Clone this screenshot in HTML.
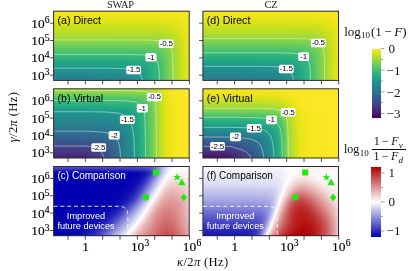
<!DOCTYPE html><html><head><meta charset="utf-8"><style>
*{margin:0;padding:0;box-sizing:border-box}
html,body{width:415px;height:271px;overflow:hidden;background:#fff}
body{position:relative;font-family:"Liberation Sans",sans-serif}
#tx{position:absolute;left:0;top:0;width:415px;height:271px;will-change:transform}
.hm{position:absolute;overflow:hidden}
.hm i{position:absolute;left:0;width:100%;height:1px}
.ov{position:absolute;left:0;top:0}
.t{position:absolute;white-space:nowrap}
.mono{font-family:"Liberation Serif",serif;font-size:10.4px;line-height:12px;color:#222;letter-spacing:-0.2px}
.pl{font-size:10.6px;line-height:12px}
.cl{position:absolute;font-size:8px;letter-spacing:-0.25px;padding-top:0.8px;text-align:center;color:#000}
.imp{position:absolute;width:70px;text-align:center;color:#fff;font-size:9.2px;line-height:10.1px;white-space:nowrap}
.ser{position:absolute;font-family:"Liberation Serif",serif;white-space:nowrap;color:#111}
.yt{position:absolute;left:0;width:49.6px;text-align:right;font-family:"Liberation Serif",serif;font-size:13.4px;line-height:14px;color:#000;-webkit-text-stroke:0.15px #000}
.yt sup,.xt sup{font-size:9.6px;vertical-align:0;position:relative;top:-4.2px;margin-left:0.2px}
.xt{position:absolute;top:239.6px;font-family:"Liberation Serif",serif;font-size:13.4px;line-height:14px;color:#000;-webkit-text-stroke:0.15px #000;white-space:nowrap}
.cbt{position:absolute;left:386.6px;font-family:"Liberation Serif",serif;font-size:13px;line-height:14px;color:#111}
.ylab{transform:rotate(-90deg);transform-origin:50% 50%}
sub{font-size:9px;vertical-align:0;position:relative;top:2.6px;margin:0 0.8px 0 0.3px}
.frac>span{display:block;text-align:center;padding:0 1.8px}
.frac .num{border-bottom:0.8px solid #111;padding-bottom:0px;line-height:13px}
.frac .den{line-height:13px}
</style></head><body>
<div class="hm" style="left:53.60px;top:11.20px;width:135.60px;height:69.20px">
<i style="top:0px;background:linear-gradient(90deg,#f6e620 0.5px,#f6e620 39.5px,#f6e620 78.5px,#f6e620 117.5px,#f8e621 131.5px,#fbe723 135.5px)"></i>
<i style="top:1px;background:linear-gradient(90deg,#f6e620 0.5px,#f6e620 39.5px,#f6e620 78.5px,#f6e620 117.5px,#f8e621 133.5px,#fbe723 135.5px)"></i>
<i style="top:2px;background:linear-gradient(90deg,#f4e61e 0.5px,#f4e61e 39.5px,#f4e61e 78.5px,#f4e61e 117.5px,#f8e621 134.5px,#fbe723 135.5px)"></i>
<i style="top:3px;background:linear-gradient(90deg,#f1e51d 0.5px,#f1e51d 39.5px,#f1e51d 78.5px,#f1e51d 114.5px,#f4e61e 120.5px,#f8e621 135.5px)"></i>
<i style="top:4px;background:linear-gradient(90deg,#efe51c 0.5px,#efe51c 39.5px,#efe51c 78.5px,#f1e51d 117.5px,#f8e621 135.5px)"></i>
<i style="top:5px;background:linear-gradient(90deg,#ece51b 0.5px,#ece51b 39.5px,#ece51b 78.5px,#ece51b 99.5px,#efe51c 105.5px,#f1e51d 126.5px,#f8e621 135.5px)"></i>
<i style="top:6px;background:linear-gradient(90deg,#eae51a 0.5px,#eae51a 39.5px,#eae51a 78.5px,#ece51b 117.5px,#f8e621 135.5px)"></i>
<i style="top:7px;background:linear-gradient(90deg,#e7e419 0.5px,#e7e419 39.5px,#e7e419 78.5px,#e7e419 103.5px,#eae51a 109.5px,#ece51b 123.5px,#f8e621 135.5px)"></i>
<i style="top:8px;background:linear-gradient(90deg,#e5e419 0.5px,#e5e419 39.5px,#e5e419 78.5px,#e7e419 117.5px,#f6e620 135.5px)"></i>
<i style="top:9px;background:linear-gradient(90deg,#e2e418 0.5px,#e2e418 39.5px,#e2e418 78.5px,#e2e418 109.5px,#e5e419 115.5px,#ece51b 127.5px,#f6e620 135.5px)"></i>
<i style="top:10px;background:linear-gradient(90deg,#dfe318 0.5px,#dfe318 39.5px,#dfe318 78.5px,#dfe318 111.5px,#eae51a 126.5px,#f6e620 135.5px)"></i>
<i style="top:11px;background:linear-gradient(90deg,#dde318 0.5px,#dde318 39.5px,#dde318 78.5px,#dfe318 117.5px,#f1e51d 132.5px,#f6e620 135.5px)"></i>
<i style="top:12px;background:linear-gradient(90deg,#d8e219 0.5px,#d8e219 39.5px,#d8e219 78.5px,#dae319 113.5px,#e7e419 127.5px,#f6e620 135.5px)"></i>
<i style="top:13px;background:linear-gradient(90deg,#d5e21a 0.5px,#d5e21a 39.5px,#d5e21a 78.5px,#d5e21a 108.5px,#dde318 120.5px,#f4e61e 135.5px)"></i>
<i style="top:14px;background:linear-gradient(90deg,#d2e21b 0.5px,#d2e21b 39.5px,#d2e21b 78.5px,#d2e21b 110.5px,#dfe318 124.5px,#f4e61e 135.5px)"></i>
<i style="top:15px;background:linear-gradient(90deg,#cde11d 0.5px,#cde11d 39.5px,#cde11d 78.5px,#cde11d 98.5px,#d0e11c 104.5px,#d2e21b 115.5px,#e2e418 126.5px,#f4e61e 135.5px)"></i>
<i style="top:16px;background:linear-gradient(90deg,#cae11f 0.5px,#cae11f 39.5px,#cae11f 78.5px,#cae11f 105.5px,#cde11d 111.5px,#d5e21a 120.5px,#e7e419 129.5px,#f4e61e 135.5px)"></i>
<i style="top:17px;background:linear-gradient(90deg,#c8e020 0.5px,#c8e020 39.5px,#c8e020 78.5px,#cae11f 113.5px,#dfe318 126.5px,#f4e61e 135.5px)"></i>
<i style="top:18px;background:linear-gradient(90deg,#c2df23 0.5px,#c2df23 39.5px,#c2df23 78.5px,#c2df23 96.5px,#c5e021 102.5px,#c5e021 109.5px,#cde11d 118.5px,#e7e419 130.5px,#f4e61e 135.5px)"></i>
<i style="top:19px;background:linear-gradient(90deg,#c0df25 0.5px,#c0df25 39.5px,#c0df25 78.5px,#c2df23 110.5px,#cde11d 119.5px,#e7e419 130.5px,#f4e61e 135.5px)"></i>
<i style="top:20px;background:linear-gradient(90deg,#bddf26 0.5px,#bddf26 39.5px,#bddf26 78.5px,#bddf26 107.5px,#c5e021 116.5px,#dfe318 128.5px,#f1e51d 134.5px,#f1e51d 135.5px)"></i>
<i style="top:21px;background:linear-gradient(90deg,#b8de29 0.5px,#b8de29 39.5px,#b8de29 78.5px,#bade28 108.5px,#c5e021 117.5px,#d5e21a 125.5px,#ece51b 133.5px,#f1e51d 135.5px)"></i>
<i style="top:22px;background:linear-gradient(90deg,#b5de2b 0.5px,#b5de2b 39.5px,#b5de2b 78.5px,#b5de2b 106.5px,#bddf26 115.5px,#dde318 128.5px,#f1e51d 135.5px)"></i>
<i style="top:23px;background:linear-gradient(90deg,#b0dd2f 0.5px,#b0dd2f 39.5px,#b0dd2f 78.5px,#b2dd2d 109.5px,#c2df23 119.5px,#e2e418 130.5px,#f1e51d 135.5px)"></i>
<i style="top:24px;background:linear-gradient(90deg,#aadc32 0.5px,#aadc32 39.5px,#aadc32 78.5px,#aadc32 100.5px,#addc30 106.5px,#bade28 117.5px,#dae319 128.5px,#efe51c 134.5px,#f1e51d 135.5px)"></i>
<i style="top:25px;background:linear-gradient(90deg,#a5db36 0.5px,#a5db36 39.5px,#a5db36 78.5px,#a5db36 94.5px,#a8db34 100.5px,#addc30 111.5px,#bade28 118.5px,#d2e21b 126.5px,#e7e419 132.5px,#f1e51d 135.5px)"></i>
<i style="top:26px;background:linear-gradient(90deg,#a0da39 0.5px,#a0da39 39.5px,#a2da37 78.5px,#a2da37 103.5px,#addc30 114.5px,#cde11d 125.5px,#e5e419 131.5px,#f1e51d 135.5px)"></i>
<i style="top:27px;background:linear-gradient(90deg,#9dd93b 0.5px,#9dd93b 39.5px,#9dd93b 78.5px,#9dd93b 101.5px,#a5db36 111.5px,#bade28 120.5px,#dde318 129.5px,#f1e51d 135.5px)"></i>
<i style="top:28px;background:linear-gradient(90deg,#98d83e 0.5px,#98d83e 39.5px,#98d83e 78.5px,#98d83e 98.5px,#9bd93c 104.5px,#a5db36 113.5px,#c2df23 123.5px,#dfe318 130.5px,#f1e51d 135.5px)"></i>
<i style="top:29px;background:linear-gradient(90deg,#90d743 0.5px,#90d743 39.5px,#90d743 78.5px,#93d741 96.5px,#95d840 106.5px,#a2da37 114.5px,#cde11d 126.5px,#e7e419 132.5px,#efe51c 135.5px)"></i>
<i style="top:30px;background:linear-gradient(90deg,#8bd646 0.5px,#8bd646 39.5px,#8bd646 78.5px,#8bd646 98.5px,#95d840 110.5px,#a2da37 115.5px,#bade28 122.5px,#dae319 129.5px,#efe51c 135.5px)"></i>
<i style="top:31px;background:linear-gradient(90deg,#84d44b 0.5px,#84d44b 39.5px,#84d44b 78.5px,#86d549 102.5px,#95d840 112.5px,#a8db34 118.5px,#d8e219 129.5px,#ece51b 134.5px,#efe51c 135.5px)"></i>
<i style="top:32px;background:linear-gradient(90deg,#7cd250 0.5px,#7cd250 39.5px,#7cd250 78.5px,#7cd250 88.5px,#7fd34e 94.5px,#84d44b 106.5px,#98d83e 115.5px,#b8de29 122.5px,#d2e21b 128.5px,#e5e419 132.5px,#efe51c 135.5px)"></i>
<i style="top:33px;background:linear-gradient(90deg,#75d054 0.5px,#75d054 39.5px,#77d153 78.5px,#77d153 97.5px,#81d34d 108.5px,#95d840 115.5px,#d2e21b 128.5px,#e5e419 132.5px,#efe51c 135.5px)"></i>
<i style="top:34px;background:linear-gradient(90deg,#70cf57 0.5px,#70cf57 39.5px,#70cf57 78.5px,#70cf57 93.5px,#77d153 105.5px,#84d44b 111.5px,#a5db36 119.5px,#d8e219 129.5px,#efe51c 135.5px)"></i>
<i style="top:35px;background:linear-gradient(90deg,#69cd5b 0.5px,#69cd5b 39.5px,#69cd5b 78.5px,#69cd5b 90.5px,#6ccd5a 96.5px,#75d054 106.5px,#7cd250 110.5px,#9dd93b 118.5px,#a8db34 120.5px,#d2e21b 128.5px,#e7e419 133.5px,#efe51c 135.5px)"></i>
<i style="top:36px;background:linear-gradient(90deg,#63cb5f 0.5px,#63cb5f 39.5px,#63cb5f 78.5px,#67cc5c 99.5px,#73d056 107.5px,#84d44b 113.5px,#d5e21a 129.5px,#ece51b 134.5px,#efe51c 135.5px)"></i>
<i style="top:37px;background:linear-gradient(90deg,#5cc863 0.5px,#5cc863 39.5px,#5ec962 78.5px,#60ca60 97.5px,#6ccd5a 106.5px,#7cd250 112.5px,#d0e11c 128.5px,#e5e419 132.5px,#efe51c 135.5px)"></i>
<i style="top:38px;background:linear-gradient(90deg,#58c765 0.5px,#58c765 39.5px,#58c765 78.5px,#5cc863 98.5px,#69cd5b 107.5px,#7ad151 112.5px,#d0e11c 128.5px,#e5e419 132.5px,#efe51c 135.5px)"></i>
<i style="top:39px;background:linear-gradient(90deg,#52c569 0.5px,#52c569 39.5px,#52c569 78.5px,#58c765 99.5px,#65cb5e 107.5px,#81d34d 114.5px,#d0e11c 128.5px,#e7e419 133.5px,#efe51c 135.5px)"></i>
<i style="top:40px;background:linear-gradient(90deg,#4cc26c 0.5px,#4cc26c 39.5px,#4cc26c 78.5px,#52c569 97.5px,#5ec962 106.5px,#7ad151 113.5px,#d0e11c 128.5px,#e7e419 133.5px,#efe51c 135.5px)"></i>
<i style="top:41px;background:linear-gradient(90deg,#46c06f 0.5px,#46c06f 39.5px,#48c16e 78.5px,#4cc26c 96.5px,#5cc863 106.5px,#77d153 113.5px,#addc30 122.5px,#d5e21a 129.5px,#e7e419 133.5px,#efe51c 135.5px)"></i>
<i style="top:42px;background:linear-gradient(90deg,#42be71 0.5px,#42be71 39.5px,#42be71 78.5px,#46c06f 94.5px,#54c568 104.5px,#67cc5c 110.5px,#8ed645 117.5px,#bddf26 125.5px,#dae319 130.5px,#efe51c 135.5px)"></i>
<i style="top:43px;background:linear-gradient(90deg,#3dbc74 0.5px,#3dbc74 39.5px,#3dbc74 78.5px,#42be71 95.5px,#50c46a 104.5px,#65cb5e 110.5px,#8ed645 117.5px,#d0e11c 128.5px,#e7e419 133.5px,#efe51c 135.5px)"></i>
<i style="top:44px;background:linear-gradient(90deg,#38b977 0.5px,#38b977 39.5px,#38b977 78.5px,#3fbc73 95.5px,#48c16e 102.5px,#5ec962 109.5px,#86d549 116.5px,#a5db36 121.5px,#d5e21a 129.5px,#eae51a 134.5px,#efe51c 135.5px)"></i>
<i style="top:45px;background:linear-gradient(90deg,#34b679 0.5px,#34b679 39.5px,#35b779 78.5px,#38b977 92.5px,#44bf70 101.5px,#52c569 106.5px,#6ccd5a 112.5px,#93d741 118.5px,#cde11d 128.5px,#dae319 130.5px,#efe51c 135.5px)"></i>
<i style="top:46px;background:linear-gradient(90deg,#2fb47c 0.5px,#2fb47c 39.5px,#31b57b 78.5px,#35b779 93.5px,#42be71 102.5px,#60ca60 110.5px,#93d741 118.5px,#cde11d 128.5px,#e2e418 132.5px,#efe51c 135.5px)"></i>
<i style="top:47px;background:linear-gradient(90deg,#2cb17e 0.5px,#2cb17e 39.5px,#2db27d 78.5px,#32b67a 93.5px,#42be71 103.5px,#65cb5e 111.5px,#8bd646 117.5px,#bddf26 125.5px,#dde318 131.5px,#efe51c 135.5px)"></i>
<i style="top:48px;background:linear-gradient(90deg,#28ae80 0.5px,#28ae80 39.5px,#29af7f 78.5px,#32b67a 96.5px,#44bf70 104.5px,#5ec962 110.5px,#8bd646 117.5px,#bddf26 125.5px,#dde318 131.5px,#efe51c 135.5px)"></i>
<i style="top:49px;background:linear-gradient(90deg,#25ac82 0.5px,#25ac82 39.5px,#26ad81 78.5px,#2fb47c 96.5px,#46c06f 105.5px,#69cd5b 112.5px,#bddf26 125.5px,#dde318 131.5px,#efe51c 135.5px)"></i>
<i style="top:50px;background:linear-gradient(90deg,#23a983 0.5px,#23a983 39.5px,#25ab82 78.5px,#2ab07f 93.5px,#3aba76 102.5px,#52c569 108.5px,#7cd250 115.5px,#b0dd2f 123.5px,#d2e21b 129.5px,#e7e419 133.5px,#efe51c 135.5px)"></i>
<i style="top:51px;background:linear-gradient(90deg,#22a785 0.5px,#22a785 39.5px,#22a884 78.5px,#29af7f 94.5px,#3bbb75 103.5px,#5cc863 110.5px,#b0dd2f 123.5px,#d2e21b 129.5px,#e7e419 133.5px,#efe51c 135.5px)"></i>
<i style="top:52px;background:linear-gradient(90deg,#20a486 0.5px,#20a486 39.5px,#21a585 78.5px,#27ad81 94.5px,#35b779 101.5px,#50c46a 108.5px,#75d054 114.5px,#b0dd2f 123.5px,#d2e21b 129.5px,#e7e419 133.5px,#efe51c 135.5px)"></i>
<i style="top:53px;background:linear-gradient(90deg,#1fa187 0.5px,#1fa187 39.5px,#20a386 78.5px,#24aa83 92.5px,#31b57b 100.5px,#46c06f 106.5px,#67cc5c 112.5px,#aadc32 122.5px,#d2e21b 129.5px,#e7e419 133.5px,#efe51c 135.5px)"></i>
<i style="top:54px;background:linear-gradient(90deg,#1f9f88 0.5px,#1f9f88 39.5px,#1fa188 78.5px,#22a884 91.5px,#2fb47c 100.5px,#44bf70 106.5px,#6ece58 113.5px,#9dd93b 120.5px,#cde11d 128.5px,#e2e418 132.5px,#efe51c 135.5px)"></i>
<i style="top:55px;background:linear-gradient(90deg,#1e9c89 0.5px,#1e9c89 39.5px,#1f9e89 78.5px,#22a785 92.5px,#2fb47c 100.5px,#44bf70 106.5px,#81d34d 116.5px,#9dd93b 120.5px,#cde11d 128.5px,#e2e418 132.5px,#efe51c 135.5px)"></i>
<i style="top:56px;background:linear-gradient(90deg,#1f998a 0.5px,#1f998a 39.5px,#1e9c89 78.5px,#22a785 93.5px,#2eb37c 100.5px,#44bf70 106.5px,#7ad151 115.5px,#9dd93b 120.5px,#cde11d 128.5px,#e2e418 132.5px,#efe51c 135.5px)"></i>
<i style="top:57px;background:linear-gradient(90deg,#1f968b 0.5px,#1f968b 39.5px,#1f9a8a 78.5px,#21a685 93.5px,#2eb37c 100.5px,#48c16e 107.5px,#81d34d 116.5px,#9dd93b 120.5px,#cde11d 128.5px,#e2e418 132.5px,#efe51c 135.5px)"></i>
<i style="top:58px;background:linear-gradient(90deg,#1f948c 0.5px,#1f948c 39.5px,#1f988b 78.5px,#20a486 92.5px,#2fb47c 101.5px,#48c16e 107.5px,#7ad151 115.5px,#9dd93b 120.5px,#cde11d 128.5px,#e2e418 132.5px,#efe51c 135.5px)"></i>
<i style="top:59px;background:linear-gradient(90deg,#20928c 0.5px,#20928c 39.5px,#1f958b 76.5px,#20a386 92.5px,#2ab07f 99.5px,#42be71 106.5px,#6ccd5a 113.5px,#9dd93b 120.5px,#cde11d 128.5px,#e2e418 132.5px,#efe51c 135.5px)"></i>
<i style="top:60px;background:linear-gradient(90deg,#21918c 0.5px,#21918c 39.5px,#1f948c 78.5px,#21a685 94.5px,#2fb47c 101.5px,#42be71 106.5px,#6ccd5a 113.5px,#9dd93b 120.5px,#cde11d 128.5px,#e2e418 132.5px,#efe51c 135.5px)"></i>
<i style="top:61px;background:linear-gradient(90deg,#218e8d 0.5px,#218e8d 39.5px,#20938c 78.5px,#1f9f88 90.5px,#27ad81 98.5px,#3dbc74 105.5px,#6ccd5a 113.5px,#9dd93b 120.5px,#cde11d 128.5px,#e2e418 132.5px,#efe51c 135.5px)"></i>
<i style="top:62px;background:linear-gradient(90deg,#228c8d 0.5px,#228c8d 39.5px,#21908d 75.5px,#1e9b8a 88.5px,#26ad81 98.5px,#42be71 106.5px,#6ccd5a 113.5px,#9dd93b 120.5px,#cde11d 128.5px,#e2e418 132.5px,#efe51c 135.5px)"></i>
<i style="top:63px;background:linear-gradient(90deg,#238a8d 0.5px,#238a8d 39.5px,#218e8d 75.5px,#1e9c89 89.5px,#25ab82 97.5px,#38b977 104.5px,#65cb5e 112.5px,#9dd93b 120.5px,#cde11d 128.5px,#e2e418 132.5px,#efe51c 135.5px)"></i>
<i style="top:64px;background:linear-gradient(90deg,#23888e 0.5px,#23888e 39.5px,#228b8d 72.5px,#1e9b8a 89.5px,#25ab82 97.5px,#38b977 104.5px,#65cb5e 112.5px,#9dd93b 120.5px,#cde11d 128.5px,#e2e418 132.5px,#efe51c 135.5px)"></i>
<i style="top:65px;background:linear-gradient(90deg,#25858e 0.5px,#25858e 39.5px,#238a8d 73.5px,#1f9a8a 89.5px,#24aa83 97.5px,#35b779 103.5px,#58c765 110.5px,#9dd93b 120.5px,#cde11d 128.5px,#e2e418 132.5px,#efe51c 135.5px)"></i>
<i style="top:66px;background:linear-gradient(90deg,#25838e 0.5px,#25838e 39.5px,#24878e 71.5px,#1f988b 88.5px,#22a884 96.5px,#31b57b 102.5px,#52c569 109.5px,#9dd93b 120.5px,#cde11d 128.5px,#e2e418 132.5px,#efe51c 135.5px)"></i>
<i style="top:67px;background:linear-gradient(90deg,#26828e 0.5px,#26828e 39.5px,#25858e 71.5px,#1f998a 89.5px,#24aa83 97.5px,#35b779 103.5px,#52c569 109.5px,#9dd93b 120.5px,#cde11d 128.5px,#e2e418 132.5px,#efe51c 135.5px)"></i>
<i style="top:68px;background:linear-gradient(90deg,#27808e 0.5px,#27808e 39.5px,#25848e 72.5px,#1f998a 89.5px,#24aa83 97.5px,#35b779 103.5px,#52c569 109.5px,#9dd93b 120.5px,#cde11d 128.5px,#e2e418 132.5px,#efe51c 135.5px)"></i>
</div>
<div class="hm" style="left:53.60px;top:88.80px;width:135.60px;height:69.20px">
<i style="top:0px;background:linear-gradient(90deg,#a2da37 0.5px,#a2da37 39.5px,#a2da37 78.5px,#a8db34 90.5px,#b5de2b 97.5px,#c8e020 103.5px,#dde318 107.5px,#f1e51d 114.5px,#f8e621 122.5px,#fde725 135.5px)"></i>
<i style="top:1px;background:linear-gradient(90deg,#98d83e 0.5px,#98d83e 39.5px,#98d83e 65.5px,#9bd93c 71.5px,#9dd93b 87.5px,#a5db36 93.5px,#b0dd2f 98.5px,#c0df25 102.5px,#dde318 108.5px,#ece51b 112.5px,#f6e620 119.5px,#fde725 135.5px)"></i>
<i style="top:2px;background:linear-gradient(90deg,#90d743 0.5px,#90d743 39.5px,#90d743 78.5px,#95d840 88.5px,#a5db36 96.5px,#bade28 102.5px,#d8e219 107.5px,#f1e51d 115.5px,#f8e621 123.5px,#fde725 135.5px)"></i>
<i style="top:3px;background:linear-gradient(90deg,#86d549 0.5px,#86d549 39.5px,#86d549 78.5px,#8bd646 87.5px,#98d83e 94.5px,#a2da37 98.5px,#b5de2b 102.5px,#d5e21a 107.5px,#ece51b 113.5px,#f6e620 119.5px,#fde725 135.5px)"></i>
<i style="top:4px;background:linear-gradient(90deg,#7cd250 0.5px,#7cd250 39.5px,#7cd250 78.5px,#86d549 90.5px,#95d840 96.5px,#b8de29 103.5px,#d8e219 108.5px,#eae51a 113.5px,#f6e620 119.5px,#fde725 135.5px)"></i>
<i style="top:5px;background:linear-gradient(90deg,#73d056 0.5px,#73d056 39.5px,#75d054 78.5px,#7ad151 87.5px,#8bd646 95.5px,#addc30 102.5px,#d5e21a 108.5px,#e7e419 112.5px,#f6e620 119.5px,#fde725 135.5px)"></i>
<i style="top:6px;background:linear-gradient(90deg,#67cc5c 0.5px,#69cd5b 39.5px,#69cd5b 76.5px,#75d054 89.5px,#86d549 95.5px,#9dd93b 100.5px,#d5e21a 108.5px,#eae51a 113.5px,#f6e620 119.5px,#fde725 135.5px)"></i>
<i style="top:7px;background:linear-gradient(90deg,#5ec962 0.5px,#5ec962 39.5px,#60ca60 75.5px,#6ccd5a 88.5px,#7cd250 94.5px,#95d840 99.5px,#b0dd2f 103.5px,#d2e21b 108.5px,#e7e419 112.5px,#f6e620 120.5px,#fde725 135.5px)"></i>
<i style="top:8px;background:linear-gradient(90deg,#56c667 0.5px,#56c667 39.5px,#5ac864 78.5px,#63cb5f 87.5px,#73d056 93.5px,#90d743 99.5px,#cde11d 107.5px,#e2e418 111.5px,#f1e51d 116.5px,#fbe723 129.5px,#fde725 135.5px)"></i>
<i style="top:9px;background:linear-gradient(90deg,#4ec36b 0.5px,#4ec36b 39.5px,#52c569 78.5px,#60ca60 89.5px,#77d153 95.5px,#8ed645 99.5px,#cae11f 107.5px,#dde318 110.5px,#efe51c 115.5px,#f8e621 125.5px,#fde725 135.5px)"></i>
<i style="top:10px;background:linear-gradient(90deg,#46c06f 0.5px,#46c06f 39.5px,#4ac16d 77.5px,#58c765 88.5px,#69cd5b 93.5px,#84d44b 98.5px,#a8db34 103.5px,#cae11f 107.5px,#dfe318 111.5px,#eae51a 114.5px,#f6e620 120.5px,#fde725 135.5px)"></i>
<i style="top:11px;background:linear-gradient(90deg,#3fbc73 0.5px,#3fbc73 39.5px,#42be71 76.5px,#50c46a 87.5px,#69cd5b 94.5px,#90d743 100.5px,#cae11f 107.5px,#dfe318 111.5px,#eae51a 114.5px,#f6e620 120.5px,#fde725 135.5px)"></i>
<i style="top:12px;background:linear-gradient(90deg,#3aba76 0.5px,#3aba76 39.5px,#3dbc74 77.5px,#48c16e 85.5px,#58c765 91.5px,#6ccd5a 95.5px,#86d549 99.5px,#a5db36 103.5px,#cae11f 107.5px,#dfe318 111.5px,#eae51a 114.5px,#f6e620 120.5px,#fde725 135.5px)"></i>
<i style="top:13px;background:linear-gradient(90deg,#34b679 0.5px,#34b679 39.5px,#38b977 77.5px,#44bf70 86.5px,#5ec962 93.5px,#84d44b 99.5px,#c8e020 107.5px,#dfe318 111.5px,#eae51a 114.5px,#f6e620 120.5px,#fde725 135.5px)"></i>
<i style="top:14px;background:linear-gradient(90deg,#2eb37c 0.5px,#2fb47c 39.5px,#32b67a 75.5px,#3aba76 83.5px,#4ac16d 89.5px,#67cc5c 95.5px,#9bd93c 102.5px,#c8e020 107.5px,#dfe318 111.5px,#eae51a 114.5px,#f6e620 120.5px,#fde725 135.5px)"></i>
<i style="top:15px;background:linear-gradient(90deg,#2ab07f 0.5px,#2ab07f 39.5px,#2eb37c 75.5px,#3bbb75 85.5px,#54c568 92.5px,#73d056 97.5px,#a2da37 103.5px,#c8e020 107.5px,#dfe318 111.5px,#eae51a 114.5px,#f6e620 120.5px,#fde725 135.5px)"></i>
<i style="top:16px;background:linear-gradient(90deg,#26ad81 0.5px,#26ad81 39.5px,#2ab07f 75.5px,#35b779 84.5px,#48c16e 90.5px,#69cd5b 96.5px,#90d743 101.5px,#c8e020 107.5px,#dfe318 111.5px,#eae51a 114.5px,#f6e620 120.5px,#fde725 135.5px)"></i>
<i style="top:17px;background:linear-gradient(90deg,#24aa83 0.5px,#24aa83 39.5px,#28ae80 76.5px,#32b67a 84.5px,#46c06f 90.5px,#77d153 98.5px,#b5de2b 105.5px,#c8e020 107.5px,#e2e418 112.5px,#f4e61e 118.5px,#fde725 135.5px)"></i>
<i style="top:18px;background:linear-gradient(90deg,#21a685 0.5px,#21a685 39.5px,#25ab82 75.5px,#2db27d 83.5px,#44bf70 90.5px,#6ece58 97.5px,#aadc32 104.5px,#c8e020 107.5px,#e2e418 112.5px,#f4e61e 118.5px,#fde725 135.5px)"></i>
<i style="top:19px;background:linear-gradient(90deg,#20a386 0.5px,#20a386 39.5px,#22a785 73.5px,#2ab07f 83.5px,#3dbc74 89.5px,#5ec962 95.5px,#a0da39 103.5px,#c8e020 107.5px,#e2e418 112.5px,#f4e61e 118.5px,#fde725 135.5px)"></i>
<i style="top:20px;background:linear-gradient(90deg,#1fa088 0.5px,#1fa088 39.5px,#20a486 72.5px,#2ab07f 84.5px,#40bd72 90.5px,#65cb5e 96.5px,#a0da39 103.5px,#c8e020 107.5px,#e2e418 112.5px,#f4e61e 118.5px,#fde725 135.5px)"></i>
<i style="top:21px;background:linear-gradient(90deg,#1e9c89 0.5px,#1e9d89 39.5px,#1fa187 72.5px,#27ad81 83.5px,#32b67a 87.5px,#50c46a 93.5px,#7cd250 99.5px,#c8e020 107.5px,#e2e418 112.5px,#f4e61e 118.5px,#fde725 135.5px)"></i>
<i style="top:22px;background:linear-gradient(90deg,#1f998a 0.5px,#1f998a 39.5px,#1f9e89 70.5px,#24aa83 82.5px,#35b779 88.5px,#48c16e 92.5px,#84d44b 100.5px,#cde11d 108.5px,#e2e418 112.5px,#f4e61e 118.5px,#fde725 135.5px)"></i>
<i style="top:23px;background:linear-gradient(90deg,#1f968b 0.5px,#1f968b 39.5px,#1e9c89 70.5px,#22a785 81.5px,#2fb47c 87.5px,#4ec36b 93.5px,#84d44b 100.5px,#cde11d 108.5px,#e2e418 112.5px,#f4e61e 118.5px,#fde725 135.5px)"></i>
<i style="top:24px;background:linear-gradient(90deg,#1f948c 0.5px,#1f948c 39.5px,#1f9a8a 70.5px,#22a884 82.5px,#2fb47c 87.5px,#42be71 91.5px,#63cb5f 96.5px,#a0da39 103.5px,#cde11d 108.5px,#e2e418 112.5px,#f4e61e 118.5px,#fde725 135.5px)"></i>
<i style="top:25px;background:linear-gradient(90deg,#20928c 0.5px,#20928c 39.5px,#1f988b 69.5px,#22a785 82.5px,#2eb37c 87.5px,#40bd72 91.5px,#73d056 98.5px,#a0da39 103.5px,#cde11d 108.5px,#e2e418 112.5px,#f4e61e 118.5px,#fde725 135.5px)"></i>
<i style="top:26px;background:linear-gradient(90deg,#21918c 0.5px,#21918c 39.5px,#1f958b 67.5px,#20a486 81.5px,#2eb37c 87.5px,#46c06f 92.5px,#7ad151 99.5px,#c5e021 107.5px,#dde318 111.5px,#ece51b 115.5px,#f6e620 120.5px,#fde725 135.5px)"></i>
<i style="top:27px;background:linear-gradient(90deg,#218f8d 0.5px,#218f8d 39.5px,#1f958b 69.5px,#22a884 83.5px,#35b779 89.5px,#5ac864 95.5px,#84d44b 100.5px,#cde11d 108.5px,#e2e418 112.5px,#f4e61e 118.5px,#fde725 135.5px)"></i>
<i style="top:28px;background:linear-gradient(90deg,#228d8d 0.5px,#228d8d 39.5px,#20938c 68.5px,#20a386 81.5px,#29af7f 86.5px,#46c06f 92.5px,#7ad151 99.5px,#c5e021 107.5px,#dde318 111.5px,#ece51b 115.5px,#f6e620 120.5px,#fde725 135.5px)"></i>
<i style="top:29px;background:linear-gradient(90deg,#228b8d 0.5px,#228b8d 39.5px,#21918c 67.5px,#1f9f88 79.5px,#26ad81 85.5px,#3fbc73 91.5px,#69cd5b 97.5px,#95d840 102.5px,#c5e021 107.5px,#dde318 111.5px,#ece51b 115.5px,#f6e620 120.5px,#fde725 135.5px)"></i>
<i style="top:30px;background:linear-gradient(90deg,#23898e 0.5px,#23898e 39.5px,#21908d 67.5px,#1f9e89 79.5px,#25ac82 85.5px,#35b779 89.5px,#5ac864 95.5px,#95d840 102.5px,#c5e021 107.5px,#dde318 111.5px,#ece51b 115.5px,#f6e620 120.5px,#fde725 135.5px)"></i>
<i style="top:31px;background:linear-gradient(90deg,#24878e 0.5px,#24878e 39.5px,#228d8d 65.5px,#1e9c89 78.5px,#25ac82 85.5px,#34b679 89.5px,#52c569 94.5px,#7ad151 99.5px,#c5e021 107.5px,#dde318 111.5px,#ece51b 115.5px,#f6e620 120.5px,#fde725 135.5px)"></i>
<i style="top:32px;background:linear-gradient(90deg,#25858e 0.5px,#25858e 39.5px,#228c8d 66.5px,#1e9d89 79.5px,#25ac82 85.5px,#34b679 89.5px,#52c569 94.5px,#7ad151 99.5px,#c5e021 107.5px,#dde318 111.5px,#ece51b 115.5px,#f6e620 120.5px,#fde725 135.5px)"></i>
<i style="top:33px;background:linear-gradient(90deg,#25838e 0.5px,#25838e 39.5px,#23898e 64.5px,#1f9a8a 78.5px,#22a884 84.5px,#38b977 90.5px,#70cf57 98.5px,#c5e021 107.5px,#dde318 111.5px,#ece51b 115.5px,#f6e620 120.5px,#fde725 135.5px)"></i>
<i style="top:34px;background:linear-gradient(90deg,#26828e 0.5px,#26828e 39.5px,#24878e 63.5px,#1f988b 77.5px,#22a884 84.5px,#2fb47c 88.5px,#44bf70 92.5px,#70cf57 98.5px,#c5e021 107.5px,#dde318 111.5px,#ece51b 115.5px,#f6e620 120.5px,#fde725 135.5px)"></i>
<i style="top:35px;background:linear-gradient(90deg,#27808e 0.5px,#27808e 39.5px,#24868e 64.5px,#1e9b8a 79.5px,#25ab82 85.5px,#34b679 89.5px,#4ac16d 93.5px,#7ad151 99.5px,#c5e021 107.5px,#dde318 111.5px,#ece51b 115.5px,#f6e620 120.5px,#fde725 135.5px)"></i>
<i style="top:36px;background:linear-gradient(90deg,#277e8e 0.5px,#277e8e 39.5px,#25858e 64.5px,#1f9a8a 79.5px,#24aa83 85.5px,#3dbc74 91.5px,#70cf57 98.5px,#c5e021 107.5px,#dde318 111.5px,#ece51b 115.5px,#f6e620 120.5px,#fde725 135.5px)"></i>
<i style="top:37px;background:linear-gradient(90deg,#287c8e 0.5px,#287c8e 39.5px,#25848e 65.5px,#1e9c89 80.5px,#26ad81 86.5px,#3dbc74 91.5px,#70cf57 98.5px,#c5e021 107.5px,#dde318 111.5px,#ece51b 115.5px,#f6e620 120.5px,#fde725 135.5px)"></i>
<i style="top:38px;background:linear-gradient(90deg,#29798e 0.5px,#297a8e 39.5px,#26818e 62.5px,#21908d 74.5px,#20a486 83.5px,#2eb37c 88.5px,#4ac16d 93.5px,#7ad151 99.5px,#c5e021 107.5px,#dde318 111.5px,#ece51b 115.5px,#f6e620 120.5px,#fde725 135.5px)"></i>
<i style="top:39px;background:linear-gradient(90deg,#2a778e 0.5px,#2a788e 39.5px,#277f8e 61.5px,#228d8d 73.5px,#1fa188 82.5px,#29af7f 87.5px,#4ac16d 93.5px,#7ad151 99.5px,#c5e021 107.5px,#dde318 111.5px,#ece51b 115.5px,#f6e620 120.5px,#fde725 135.5px)"></i>
<i style="top:40px;background:linear-gradient(90deg,#2b758e 0.5px,#2a768e 39.5px,#287d8e 61.5px,#228d8d 73.5px,#1fa188 82.5px,#29af7f 87.5px,#4ac16d 93.5px,#7ad151 99.5px,#c5e021 107.5px,#dde318 111.5px,#ece51b 115.5px,#f6e620 120.5px,#fde725 135.5px)"></i>
<i style="top:41px;background:linear-gradient(90deg,#2c738e 0.5px,#2b748e 39.5px,#287c8e 61.5px,#228c8d 73.5px,#1fa188 82.5px,#29af7f 87.5px,#4ac16d 93.5px,#81d34d 100.5px,#c5e021 107.5px,#dde318 111.5px,#ece51b 115.5px,#f6e620 120.5px,#fde725 135.5px)"></i>
<i style="top:42px;background:linear-gradient(90deg,#2c718e 0.5px,#2c728e 39.5px,#29798e 59.5px,#23898e 72.5px,#1fa088 82.5px,#29af7f 87.5px,#4ac16d 93.5px,#81d34d 100.5px,#c5e021 107.5px,#dde318 111.5px,#ece51b 115.5px,#f6e620 120.5px,#fde725 135.5px)"></i>
<i style="top:43px;background:linear-gradient(90deg,#2d708e 0.5px,#2d708e 39.5px,#2a778e 59.5px,#238a8d 73.5px,#1fa287 83.5px,#2db27d 88.5px,#4ac16d 93.5px,#70cf57 98.5px,#c5e021 107.5px,#dde318 111.5px,#ece51b 115.5px,#f6e620 120.5px,#fde725 135.5px)"></i>
<i style="top:44px;background:linear-gradient(90deg,#2e6d8e 0.5px,#2e6e8e 39.5px,#2b758e 59.5px,#238a8d 73.5px,#1fa287 83.5px,#2db27d 88.5px,#50c46a 94.5px,#8bd646 101.5px,#c5e021 107.5px,#dde318 111.5px,#ece51b 115.5px,#f6e620 120.5px,#fde725 135.5px)"></i>
<i style="top:45px;background:linear-gradient(90deg,#306a8e 0.5px,#2f6b8e 39.5px,#2a768e 61.5px,#228b8d 74.5px,#1fa287 83.5px,#2db27d 88.5px,#50c46a 94.5px,#8bd646 101.5px,#c5e021 107.5px,#dde318 111.5px,#ece51b 115.5px,#f6e620 120.5px,#fde725 135.5px)"></i>
<i style="top:46px;background:linear-gradient(90deg,#31678e 0.5px,#30698e 39.5px,#2c728e 59.5px,#23888e 73.5px,#1fa287 83.5px,#28ae80 87.5px,#4ac16d 93.5px,#70cf57 98.5px,#b2dd2d 105.5px,#cde11d 108.5px,#e2e418 112.5px,#f4e61e 118.5px,#fde725 135.5px)"></i>
<i style="top:47px;background:linear-gradient(90deg,#32658e 0.5px,#31668e 39.5px,#2d708e 58.5px,#25858e 72.5px,#1fa187 83.5px,#28ae80 87.5px,#42be71 92.5px,#70cf57 98.5px,#b2dd2d 105.5px,#cde11d 108.5px,#e2e418 112.5px,#f4e61e 118.5px,#fde725 135.5px)"></i>
<i style="top:48px;background:linear-gradient(90deg,#33628d 0.5px,#32648e 39.5px,#2e6d8e 57.5px,#26818e 70.5px,#1fa187 83.5px,#28ae80 87.5px,#42be71 92.5px,#70cf57 98.5px,#b2dd2d 105.5px,#cde11d 108.5px,#e2e418 112.5px,#f4e61e 118.5px,#fde725 135.5px)"></i>
<i style="top:49px;background:linear-gradient(90deg,#355f8d 0.5px,#34618d 39.5px,#306a8e 56.5px,#277e8e 69.5px,#1fa187 83.5px,#28ae80 87.5px,#42be71 92.5px,#70cf57 98.5px,#b2dd2d 105.5px,#cde11d 108.5px,#e2e418 112.5px,#f4e61e 118.5px,#fde725 135.5px)"></i>
<i style="top:50px;background:linear-gradient(90deg,#365d8d 0.5px,#355f8d 39.5px,#30698e 56.5px,#297b8e 68.5px,#1e9b8a 81.5px,#25ac82 86.5px,#42be71 92.5px,#70cf57 98.5px,#b2dd2d 105.5px,#cde11d 108.5px,#e2e418 112.5px,#f4e61e 118.5px,#fde725 135.5px)"></i>
<i style="top:51px;background:linear-gradient(90deg,#375a8c 0.5px,#365c8d 39.5px,#31678e 56.5px,#27808e 70.5px,#1fa187 83.5px,#28ae80 87.5px,#42be71 92.5px,#70cf57 98.5px,#b2dd2d 105.5px,#cde11d 108.5px,#e2e418 112.5px,#f4e61e 118.5px,#fde725 135.5px)"></i>
<i style="top:52px;background:linear-gradient(90deg,#39568c 0.5px,#38588c 36.5px,#33638d 54.5px,#277f8e 70.5px,#1f9e89 82.5px,#25ab82 86.5px,#42be71 92.5px,#70cf57 98.5px,#b2dd2d 105.5px,#cde11d 108.5px,#e2e418 112.5px,#f4e61e 118.5px,#fde725 135.5px)"></i>
<i style="top:53px;background:linear-gradient(90deg,#3a548c 0.5px,#39568c 39.5px,#31678e 58.5px,#25858e 73.5px,#1fa187 83.5px,#2cb17e 88.5px,#42be71 92.5px,#70cf57 98.5px,#b2dd2d 105.5px,#cde11d 108.5px,#e2e418 112.5px,#f4e61e 118.5px,#fde725 135.5px)"></i>
<i style="top:54px;background:linear-gradient(90deg,#3b518b 0.5px,#3a538b 37.5px,#34608d 54.5px,#29798e 68.5px,#1f9e89 82.5px,#25ab82 86.5px,#3bbb75 91.5px,#70cf57 98.5px,#b2dd2d 105.5px,#cde11d 108.5px,#e2e418 112.5px,#f4e61e 118.5px,#fde725 135.5px)"></i>
<i style="top:55px;background:linear-gradient(90deg,#3d4e8a 0.5px,#3c508b 37.5px,#365c8d 52.5px,#297b8e 69.5px,#1f9e89 82.5px,#25ab82 86.5px,#3bbb75 91.5px,#70cf57 98.5px,#b2dd2d 105.5px,#cde11d 108.5px,#e2e418 112.5px,#f4e61e 118.5px,#fde725 135.5px)"></i>
<i style="top:56px;background:linear-gradient(90deg,#3e4a89 0.5px,#3d4d8a 36.5px,#38588c 50.5px,#2a788e 68.5px,#1f9e89 82.5px,#25ab82 86.5px,#3bbb75 91.5px,#70cf57 98.5px,#b2dd2d 105.5px,#cde11d 108.5px,#e2e418 112.5px,#f4e61e 118.5px,#fde725 135.5px)"></i>
<i style="top:57px;background:linear-gradient(90deg,#3f4889 0.5px,#3e4a89 37.5px,#355e8d 55.5px,#25848e 73.5px,#1fa188 83.5px,#2cb17e 88.5px,#42be71 92.5px,#70cf57 98.5px,#b2dd2d 105.5px,#cde11d 108.5px,#e2e418 112.5px,#f4e61e 118.5px,#fde725 135.5px)"></i>
<i style="top:58px;background:linear-gradient(90deg,#404588 0.5px,#3f4788 36.5px,#38588c 52.5px,#297a8e 69.5px,#1f9e89 82.5px,#25ab82 86.5px,#3bbb75 91.5px,#70cf57 98.5px,#b2dd2d 105.5px,#cde11d 108.5px,#e2e418 112.5px,#f4e61e 118.5px,#fde725 135.5px)"></i>
<i style="top:59px;background:linear-gradient(90deg,#424186 0.5px,#414287 35.5px,#375a8c 54.5px,#277f8e 71.5px,#1f9e89 82.5px,#25ab82 86.5px,#3bbb75 91.5px,#70cf57 98.5px,#b2dd2d 105.5px,#cde11d 108.5px,#e2e418 112.5px,#f4e61e 118.5px,#fde725 135.5px)"></i>
<i style="top:60px;background:linear-gradient(90deg,#433e85 0.5px,#424186 36.5px,#39568c 53.5px,#25848e 73.5px,#1fa188 83.5px,#2cb17e 88.5px,#48c16e 93.5px,#8bd646 101.5px,#c5e021 107.5px,#dde318 111.5px,#ece51b 115.5px,#f6e620 120.5px,#fde725 135.5px)"></i>
<i style="top:61px;background:linear-gradient(90deg,#443a83 0.5px,#433d84 35.5px,#39558c 53.5px,#228c8d 76.5px,#20a486 84.5px,#31b57b 89.5px,#50c46a 94.5px,#8bd646 101.5px,#c5e021 107.5px,#dde318 111.5px,#ece51b 115.5px,#f6e620 120.5px,#fde725 135.5px)"></i>
<i style="top:62px;background:linear-gradient(90deg,#453882 0.5px,#443a83 35.5px,#39568c 54.5px,#228c8d 76.5px,#20a486 84.5px,#35b779 90.5px,#67cc5c 97.5px,#a8db34 104.5px,#cde11d 108.5px,#e2e418 112.5px,#f4e61e 118.5px,#fde725 135.5px)"></i>
<i style="top:63px;background:linear-gradient(90deg,#463480 0.5px,#453581 34.5px,#39558c 54.5px,#218f8d 77.5px,#20a486 84.5px,#35b779 90.5px,#67cc5c 97.5px,#a8db34 104.5px,#cde11d 108.5px,#e2e418 112.5px,#f4e61e 118.5px,#fde725 135.5px)"></i>
<i style="top:64px;background:linear-gradient(90deg,#46307e 0.5px,#46327e 33.5px,#3a538b 53.5px,#23898e 75.5px,#1fa188 83.5px,#2cb17e 88.5px,#48c16e 93.5px,#8bd646 101.5px,#c5e021 107.5px,#dde318 111.5px,#ece51b 115.5px,#f6e620 120.5px,#fde725 135.5px)"></i>
<i style="top:65px;background:linear-gradient(90deg,#472d7b 0.5px,#46307e 35.5px,#443983 39.5px,#39568c 55.5px,#1f948c 79.5px,#22a785 85.5px,#3bbb75 91.5px,#70cf57 98.5px,#b2dd2d 105.5px,#cde11d 108.5px,#e2e418 112.5px,#f4e61e 118.5px,#fde725 135.5px)"></i>
<i style="top:66px;background:linear-gradient(90deg,#482979 0.5px,#472c7a 33.5px,#46337f 37.5px,#39558c 55.5px,#1f948c 79.5px,#22a785 85.5px,#3bbb75 91.5px,#70cf57 98.5px,#b2dd2d 105.5px,#cde11d 108.5px,#e2e418 112.5px,#f4e61e 118.5px,#fde725 135.5px)"></i>
<i style="top:67px;background:linear-gradient(90deg,#482677 0.5px,#482878 33.5px,#46307e 37.5px,#39558c 55.5px,#1f948c 79.5px,#22a785 85.5px,#3bbb75 91.5px,#70cf57 98.5px,#b2dd2d 105.5px,#cde11d 108.5px,#e2e418 112.5px,#f4e61e 118.5px,#fde725 135.5px)"></i>
<i style="top:68px;background:linear-gradient(90deg,#482374 0.5px,#482576 34.5px,#453581 40.5px,#3a548c 55.5px,#1f948c 79.5px,#22a785 85.5px,#3bbb75 91.5px,#70cf57 98.5px,#b2dd2d 105.5px,#cde11d 108.5px,#e2e418 112.5px,#f4e61e 118.5px,#fde725 135.5px)"></i>
</div>
<div class="hm" style="left:202.90px;top:11.20px;width:135.60px;height:69.20px">
<i style="top:0px;background:linear-gradient(90deg,#f6e620 0.5px,#f6e620 39.5px,#f6e620 78.5px,#f6e620 117.5px,#f8e621 132.5px,#fbe723 135.5px)"></i>
<i style="top:1px;background:linear-gradient(90deg,#f6e620 0.5px,#f6e620 39.5px,#f6e620 78.5px,#f6e620 117.5px,#f8e621 134.5px,#fbe723 135.5px)"></i>
<i style="top:2px;background:linear-gradient(90deg,#f4e61e 0.5px,#f4e61e 39.5px,#f4e61e 78.5px,#f4e61e 117.5px,#f8e621 135.5px)"></i>
<i style="top:3px;background:linear-gradient(90deg,#f1e51d 0.5px,#f1e51d 39.5px,#f1e51d 78.5px,#f1e51d 116.5px,#f4e61e 122.5px,#f8e621 135.5px)"></i>
<i style="top:4px;background:linear-gradient(90deg,#efe51c 0.5px,#efe51c 39.5px,#efe51c 78.5px,#f1e51d 117.5px,#f1e51d 124.5px,#f8e621 135.5px)"></i>
<i style="top:5px;background:linear-gradient(90deg,#ece51b 0.5px,#ece51b 39.5px,#ece51b 78.5px,#ece51b 101.5px,#efe51c 107.5px,#f1e51d 127.5px,#f8e621 135.5px)"></i>
<i style="top:6px;background:linear-gradient(90deg,#eae51a 0.5px,#eae51a 39.5px,#eae51a 78.5px,#ece51b 117.5px,#f1e51d 129.5px,#f8e621 135.5px)"></i>
<i style="top:7px;background:linear-gradient(90deg,#e7e419 0.5px,#e7e419 39.5px,#e7e419 78.5px,#e7e419 107.5px,#eae51a 113.5px,#ece51b 125.5px,#f6e620 135.5px)"></i>
<i style="top:8px;background:linear-gradient(90deg,#e5e419 0.5px,#e5e419 39.5px,#e5e419 78.5px,#e7e419 117.5px,#efe51c 129.5px,#f6e620 135.5px)"></i>
<i style="top:9px;background:linear-gradient(90deg,#e2e418 0.5px,#e2e418 39.5px,#e2e418 78.5px,#e2e418 113.5px,#e5e419 119.5px,#ece51b 128.5px,#f6e620 135.5px)"></i>
<i style="top:10px;background:linear-gradient(90deg,#dfe318 0.5px,#dfe318 39.5px,#dfe318 78.5px,#dfe318 115.5px,#ece51b 129.5px,#f6e620 135.5px)"></i>
<i style="top:11px;background:linear-gradient(90deg,#dae319 0.5px,#dae319 39.5px,#dae319 78.5px,#dae319 107.5px,#dde318 113.5px,#e2e418 123.5px,#f4e61e 135.5px)"></i>
<i style="top:12px;background:linear-gradient(90deg,#d8e219 0.5px,#d8e219 39.5px,#d8e219 78.5px,#dae319 117.5px,#e7e419 128.5px,#f4e61e 135.5px)"></i>
<i style="top:13px;background:linear-gradient(90deg,#d2e21b 0.5px,#d2e21b 39.5px,#d2e21b 78.5px,#d2e21b 103.5px,#d5e21a 109.5px,#dae319 121.5px,#ece51b 131.5px,#f4e61e 135.5px)"></i>
<i style="top:14px;background:linear-gradient(90deg,#d0e11c 0.5px,#d0e11c 39.5px,#d0e11c 78.5px,#d2e21b 116.5px,#e2e418 127.5px,#f4e61e 135.5px)"></i>
<i style="top:15px;background:linear-gradient(90deg,#cde11d 0.5px,#cde11d 39.5px,#cde11d 78.5px,#cde11d 112.5px,#d5e21a 121.5px,#e7e419 130.5px,#f4e61e 135.5px)"></i>
<i style="top:16px;background:linear-gradient(90deg,#c8e020 0.5px,#c8e020 39.5px,#c8e020 78.5px,#cae11f 113.5px,#d8e219 124.5px,#e5e419 130.5px,#efe51c 134.5px,#f1e51d 135.5px)"></i>
<i style="top:17px;background:linear-gradient(90deg,#c5e021 0.5px,#c5e021 39.5px,#c5e021 78.5px,#c5e021 109.5px,#cde11d 119.5px,#e2e418 129.5px,#f1e51d 135.5px)"></i>
<i style="top:18px;background:linear-gradient(90deg,#c0df25 0.5px,#c0df25 39.5px,#c0df25 78.5px,#c2df23 112.5px,#d0e11c 122.5px,#dfe318 129.5px,#eae51a 132.5px,#f1e51d 135.5px)"></i>
<i style="top:19px;background:linear-gradient(90deg,#bddf26 0.5px,#bddf26 39.5px,#bddf26 78.5px,#bddf26 108.5px,#c5e021 118.5px,#e2e418 130.5px,#f1e51d 135.5px)"></i>
<i style="top:20px;background:linear-gradient(90deg,#b8de29 0.5px,#b8de29 39.5px,#b8de29 78.5px,#bade28 110.5px,#c8e020 121.5px,#e2e418 130.5px,#f1e51d 135.5px)"></i>
<i style="top:21px;background:linear-gradient(90deg,#b2dd2d 0.5px,#b2dd2d 39.5px,#b2dd2d 78.5px,#b2dd2d 85.5px,#b5de2b 91.5px,#b5de2b 108.5px,#bddf26 117.5px,#d5e21a 127.5px,#eae51a 133.5px,#f1e51d 135.5px)"></i>
<i style="top:22px;background:linear-gradient(90deg,#b0dd2f 0.5px,#b0dd2f 39.5px,#b0dd2f 78.5px,#b2dd2d 111.5px,#c2df23 121.5px,#e2e418 131.5px,#efe51c 135.5px)"></i>
<i style="top:23px;background:linear-gradient(90deg,#aadc32 0.5px,#aadc32 39.5px,#aadc32 78.5px,#aadc32 104.5px,#b5de2b 117.5px,#cae11f 125.5px,#e2e418 131.5px,#efe51c 135.5px)"></i>
<i style="top:24px;background:linear-gradient(90deg,#a5db36 0.5px,#a5db36 39.5px,#a5db36 78.5px,#a5db36 102.5px,#a8db34 108.5px,#addc30 114.5px,#c5e021 124.5px,#e2e418 131.5px,#efe51c 135.5px)"></i>
<i style="top:25px;background:linear-gradient(90deg,#a0da39 0.5px,#a0da39 39.5px,#a0da39 78.5px,#a2da37 108.5px,#addc30 116.5px,#cae11f 126.5px,#dde318 130.5px,#efe51c 135.5px)"></i>
<i style="top:26px;background:linear-gradient(90deg,#9bd93c 0.5px,#9bd93c 39.5px,#9bd93c 78.5px,#9dd93b 106.5px,#a8db34 115.5px,#b0dd2f 119.5px,#d2e21b 128.5px,#e7e419 133.5px,#efe51c 135.5px)"></i>
<i style="top:27px;background:linear-gradient(90deg,#95d840 0.5px,#95d840 39.5px,#95d840 78.5px,#95d840 97.5px,#98d83e 103.5px,#9dd93b 111.5px,#aadc32 118.5px,#dae319 130.5px,#efe51c 135.5px)"></i>
<i style="top:28px;background:linear-gradient(90deg,#8ed645 0.5px,#8ed645 39.5px,#8ed645 78.5px,#90d743 103.5px,#98d83e 112.5px,#a5db36 118.5px,#d0e11c 128.5px,#e7e419 133.5px,#efe51c 135.5px)"></i>
<i style="top:29px;background:linear-gradient(90deg,#89d548 0.5px,#89d548 39.5px,#89d548 78.5px,#8bd646 106.5px,#98d83e 114.5px,#addc30 121.5px,#d0e11c 128.5px,#e2e418 132.5px,#efe51c 135.5px)"></i>
<i style="top:30px;background:linear-gradient(90deg,#81d34d 0.5px,#81d34d 39.5px,#81d34d 78.5px,#81d34d 98.5px,#8bd646 111.5px,#a2da37 119.5px,#d2e21b 129.5px,#e5e419 133.5px,#ece51b 135.5px)"></i>
<i style="top:31px;background:linear-gradient(90deg,#7ad151 0.5px,#7ad151 39.5px,#7ad151 78.5px,#7cd250 102.5px,#86d549 111.5px,#9bd93c 118.5px,#b2dd2d 123.5px,#d8e219 130.5px,#ece51b 135.5px)"></i>
<i style="top:32px;background:linear-gradient(90deg,#73d056 0.5px,#73d056 39.5px,#73d056 78.5px,#77d153 104.5px,#86d549 113.5px,#a5db36 121.5px,#d0e11c 129.5px,#dde318 131.5px,#ece51b 135.5px)"></i>
<i style="top:33px;background:linear-gradient(90deg,#6ccd5a 0.5px,#6ccd5a 39.5px,#6ccd5a 78.5px,#70cf57 102.5px,#7fd34e 112.5px,#95d840 118.5px,#addc30 123.5px,#d5e21a 130.5px,#eae51a 134.5px,#ece51b 135.5px)"></i>
<i style="top:34px;background:linear-gradient(90deg,#65cb5e 0.5px,#65cb5e 39.5px,#67cc5c 78.5px,#69cd5b 100.5px,#75d054 109.5px,#89d548 116.5px,#bddf26 126.5px,#dae319 131.5px,#ece51b 135.5px)"></i>
<i style="top:35px;background:linear-gradient(90deg,#60ca60 0.5px,#60ca60 39.5px,#60ca60 78.5px,#60ca60 93.5px,#69cd5b 106.5px,#81d34d 115.5px,#aadc32 123.5px,#d5e21a 130.5px,#eae51a 134.5px,#ece51b 135.5px)"></i>
<i style="top:36px;background:linear-gradient(90deg,#5ac864 0.5px,#5ac864 39.5px,#5ac864 78.5px,#5ec962 100.5px,#6ccd5a 109.5px,#7fd34e 115.5px,#b0dd2f 124.5px,#d5e21a 130.5px,#eae51a 134.5px,#ece51b 135.5px)"></i>
<i style="top:37px;background:linear-gradient(90deg,#54c568 0.5px,#54c568 39.5px,#54c568 78.5px,#58c765 98.5px,#65cb5e 108.5px,#75d054 113.5px,#8bd646 118.5px,#cde11d 129.5px,#e5e419 133.5px,#ece51b 135.5px)"></i>
<i style="top:38px;background:linear-gradient(90deg,#4ec36b 0.5px,#4ec36b 39.5px,#4ec36b 78.5px,#54c568 99.5px,#60ca60 108.5px,#7ad151 115.5px,#a8db34 123.5px,#d5e21a 130.5px,#ece51b 135.5px)"></i>
<i style="top:39px;background:linear-gradient(90deg,#48c16e 0.5px,#48c16e 39.5px,#4ac16d 78.5px,#4cc26c 95.5px,#58c765 105.5px,#67cc5c 111.5px,#9bd93c 121.5px,#d5e21a 130.5px,#ece51b 135.5px)"></i>
<i style="top:40px;background:linear-gradient(90deg,#44bf70 0.5px,#44bf70 39.5px,#44bf70 78.5px,#48c16e 96.5px,#56c667 106.5px,#65cb5e 111.5px,#81d34d 117.5px,#cde11d 129.5px,#e5e419 133.5px,#ece51b 135.5px)"></i>
<i style="top:41px;background:linear-gradient(90deg,#3fbc73 0.5px,#3fbc73 39.5px,#3fbc73 78.5px,#42be71 95.5px,#54c568 107.5px,#75d054 115.5px,#cde11d 129.5px,#e5e419 133.5px,#ece51b 135.5px)"></i>
<i style="top:42px;background:linear-gradient(90deg,#3aba76 0.5px,#3aba76 39.5px,#3aba76 78.5px,#3dbc74 93.5px,#44bf70 100.5px,#52c569 107.5px,#6ece58 114.5px,#b2dd2d 125.5px,#cde11d 129.5px,#e5e419 133.5px,#ece51b 135.5px)"></i>
<i style="top:43px;background:linear-gradient(90deg,#35b779 0.5px,#35b779 39.5px,#35b779 78.5px,#3bbb75 96.5px,#4cc26c 106.5px,#67cc5c 113.5px,#8bd646 119.5px,#cde11d 129.5px,#e5e419 133.5px,#ece51b 135.5px)"></i>
<i style="top:44px;background:linear-gradient(90deg,#31b57b 0.5px,#31b57b 39.5px,#31b57b 78.5px,#38b977 97.5px,#4cc26c 107.5px,#6ccd5a 114.5px,#98d83e 121.5px,#cde11d 129.5px,#e5e419 133.5px,#ece51b 135.5px)"></i>
<i style="top:45px;background:linear-gradient(90deg,#2db27d 0.5px,#2db27d 39.5px,#2db27d 78.5px,#32b67a 94.5px,#44bf70 105.5px,#60ca60 112.5px,#84d44b 118.5px,#cde11d 129.5px,#e5e419 133.5px,#ece51b 135.5px)"></i>
<i style="top:46px;background:linear-gradient(90deg,#29af7f 0.5px,#29af7f 39.5px,#2ab07f 78.5px,#2fb47c 94.5px,#3fbc73 104.5px,#56c667 110.5px,#75d054 116.5px,#cde11d 129.5px,#e5e419 133.5px,#ece51b 135.5px)"></i>
<i style="top:47px;background:linear-gradient(90deg,#26ad81 0.5px,#26ad81 39.5px,#27ad81 78.5px,#2db27d 94.5px,#38b977 102.5px,#54c568 110.5px,#7cd250 117.5px,#d2e21b 130.5px,#e7e419 134.5px,#ece51b 135.5px)"></i>
<i style="top:48px;background:linear-gradient(90deg,#24aa83 0.5px,#24aa83 39.5px,#25ab82 78.5px,#2ab07f 94.5px,#37b878 102.5px,#4ac16d 108.5px,#75d054 116.5px,#d2e21b 130.5px,#e7e419 134.5px,#ece51b 135.5px)"></i>
<i style="top:49px;background:linear-gradient(90deg,#22a785 0.5px,#22a785 39.5px,#22a884 78.5px,#29af7f 95.5px,#38b977 103.5px,#48c16e 108.5px,#6ece58 115.5px,#d2e21b 130.5px,#e7e419 134.5px,#ece51b 135.5px)"></i>
<i style="top:50px;background:linear-gradient(90deg,#20a486 0.5px,#20a486 39.5px,#21a585 78.5px,#26ad81 94.5px,#34b679 102.5px,#3fbc73 106.5px,#5cc863 112.5px,#9dd93b 122.5px,#d2e21b 130.5px,#e7e419 134.5px,#ece51b 135.5px)"></i>
<i style="top:51px;background:linear-gradient(90deg,#1fa187 0.5px,#1fa187 39.5px,#1fa287 78.5px,#25ac82 95.5px,#35b779 103.5px,#50c46a 110.5px,#81d34d 118.5px,#cde11d 129.5px,#e2e418 133.5px,#ece51b 135.5px)"></i>
<i style="top:52px;background:linear-gradient(90deg,#1f9f88 0.5px,#1f9f88 39.5px,#1fa188 78.5px,#22a884 93.5px,#31b57b 102.5px,#46c06f 108.5px,#67cc5c 114.5px,#aadc32 124.5px,#d2e21b 130.5px,#e7e419 134.5px,#ece51b 135.5px)"></i>
<i style="top:53px;background:linear-gradient(90deg,#1e9c89 0.5px,#1e9c89 39.5px,#1f9e89 78.5px,#22a785 93.5px,#2eb37c 101.5px,#40bd72 107.5px,#67cc5c 114.5px,#aadc32 124.5px,#d2e21b 130.5px,#e7e419 134.5px,#ece51b 135.5px)"></i>
<i style="top:54px;background:linear-gradient(90deg,#1f998a 0.5px,#1f998a 39.5px,#1e9b8a 78.5px,#22a884 95.5px,#32b67a 103.5px,#4ac16d 109.5px,#7ad151 117.5px,#cde11d 129.5px,#e2e418 133.5px,#ece51b 135.5px)"></i>
<i style="top:55px;background:linear-gradient(90deg,#1f978b 0.5px,#1f978b 39.5px,#1f998a 78.5px,#20a486 93.5px,#2cb17e 101.5px,#44bf70 108.5px,#7ad151 117.5px,#cde11d 129.5px,#e2e418 133.5px,#ece51b 135.5px)"></i>
<i style="top:56px;background:linear-gradient(90deg,#1f948c 0.5px,#1f948c 39.5px,#1f978b 78.5px,#21a685 95.5px,#31b57b 103.5px,#44bf70 108.5px,#7ad151 117.5px,#cde11d 129.5px,#e2e418 133.5px,#ece51b 135.5px)"></i>
<i style="top:57px;background:linear-gradient(90deg,#20928c 0.5px,#20928c 39.5px,#1f958b 78.5px,#20a486 94.5px,#28ae80 100.5px,#44bf70 108.5px,#73d056 116.5px,#cde11d 129.5px,#e2e418 133.5px,#ece51b 135.5px)"></i>
<i style="top:58px;background:linear-gradient(90deg,#21918c 0.5px,#21918c 39.5px,#20938c 78.5px,#20a386 94.5px,#2ab07f 101.5px,#48c16e 109.5px,#7ad151 117.5px,#cde11d 129.5px,#e2e418 133.5px,#ece51b 135.5px)"></i>
<i style="top:59px;background:linear-gradient(90deg,#218f8d 0.5px,#218f8d 39.5px,#20928c 78.5px,#1fa187 93.5px,#2ab07f 101.5px,#48c16e 109.5px,#7ad151 117.5px,#cde11d 129.5px,#e2e418 133.5px,#ece51b 135.5px)"></i>
<i style="top:60px;background:linear-gradient(90deg,#228c8d 0.5px,#228c8d 39.5px,#21908d 77.5px,#1e9b8a 89.5px,#25ac82 99.5px,#3aba76 106.5px,#65cb5e 114.5px,#c5e021 128.5px,#dde318 132.5px,#ece51b 135.5px)"></i>
<i style="top:61px;background:linear-gradient(90deg,#238a8d 0.5px,#238a8d 39.5px,#218e8d 76.5px,#1e9b8a 90.5px,#25ac82 99.5px,#3aba76 106.5px,#54c568 111.5px,#73d056 116.5px,#cde11d 129.5px,#e2e418 133.5px,#ece51b 135.5px)"></i>
<i style="top:62px;background:linear-gradient(90deg,#23888e 0.5px,#23888e 39.5px,#228c8d 76.5px,#1f998a 89.5px,#23a983 98.5px,#32b67a 104.5px,#48c16e 109.5px,#6ccd5a 115.5px,#cde11d 129.5px,#e2e418 133.5px,#ece51b 135.5px)"></i>
<i style="top:63px;background:linear-gradient(90deg,#24868e 0.5px,#24868e 39.5px,#23898e 74.5px,#1f988b 89.5px,#23a983 98.5px,#32b67a 104.5px,#48c16e 109.5px,#6ccd5a 115.5px,#cde11d 129.5px,#e2e418 133.5px,#ece51b 135.5px)"></i>
<i style="top:64px;background:linear-gradient(90deg,#25838e 0.5px,#25838e 39.5px,#23888e 75.5px,#1e9b8a 91.5px,#25ab82 99.5px,#3aba76 106.5px,#54c568 111.5px,#73d056 116.5px,#cde11d 129.5px,#e2e418 133.5px,#ece51b 135.5px)"></i>
<i style="top:65px;background:linear-gradient(90deg,#26828e 0.5px,#26828e 39.5px,#25858e 73.5px,#1f978b 89.5px,#21a685 97.5px,#32b67a 104.5px,#48c16e 109.5px,#6ccd5a 115.5px,#cde11d 129.5px,#e2e418 133.5px,#ece51b 135.5px)"></i>
<i style="top:66px;background:linear-gradient(90deg,#27808e 0.5px,#27808e 39.5px,#25848e 74.5px,#1f988b 90.5px,#23a983 98.5px,#35b779 105.5px,#5ec962 113.5px,#b8de29 126.5px,#d8e219 131.5px,#ece51b 135.5px)"></i>
<i style="top:67px;background:linear-gradient(90deg,#277e8e 0.5px,#277e8e 39.5px,#26828e 73.5px,#1f948c 88.5px,#22a884 98.5px,#35b779 105.5px,#5ec962 113.5px,#b8de29 126.5px,#d8e219 131.5px,#ece51b 135.5px)"></i>
<i style="top:68px;background:linear-gradient(90deg,#287c8e 0.5px,#287c8e 39.5px,#27808e 71.5px,#228d8d 84.5px,#1fa187 95.5px,#28ae80 101.5px,#42be71 108.5px,#6ccd5a 115.5px,#cde11d 129.5px,#e2e418 133.5px,#ece51b 135.5px)"></i>
</div>
<div class="hm" style="left:202.90px;top:88.80px;width:135.60px;height:69.20px">
<i style="top:0px;background:linear-gradient(90deg,#f6e620 0.5px,#f6e620 39.5px,#f8e621 78.5px,#fde725 106.5px,#fde725 135.5px)"></i>
<i style="top:1px;background:linear-gradient(90deg,#f4e61e 0.5px,#f4e61e 39.5px,#f6e620 78.5px,#fbe723 92.5px,#fde725 131.5px,#fde725 135.5px)"></i>
<i style="top:2px;background:linear-gradient(90deg,#f1e51d 0.5px,#f1e51d 39.5px,#f1e51d 56.5px,#f4e61e 62.5px,#f6e620 82.5px,#fde725 98.5px,#fde725 135.5px)"></i>
<i style="top:3px;background:linear-gradient(90deg,#efe51c 0.5px,#efe51c 39.5px,#f1e51d 77.5px,#fbe723 94.5px,#fde725 133.5px,#fde725 135.5px)"></i>
<i style="top:4px;background:linear-gradient(90deg,#ece51b 0.5px,#ece51b 39.5px,#ece51b 67.5px,#efe51c 73.5px,#f4e61e 83.5px,#fde725 101.5px,#fde725 135.5px)"></i>
<i style="top:5px;background:linear-gradient(90deg,#eae51a 0.5px,#eae51a 39.5px,#ece51b 77.5px,#f6e620 87.5px,#fde725 103.5px,#fde725 135.5px)"></i>
<i style="top:6px;background:linear-gradient(90deg,#e5e419 0.5px,#e5e419 39.5px,#e7e419 74.5px,#f8e621 91.5px,#fde725 111.5px,#fde725 135.5px)"></i>
<i style="top:7px;background:linear-gradient(90deg,#e2e418 0.5px,#e2e418 39.5px,#e2e418 69.5px,#eae51a 80.5px,#f6e620 89.5px,#fde725 105.5px,#fde725 135.5px)"></i>
<i style="top:8px;background:linear-gradient(90deg,#dde318 0.5px,#dde318 39.5px,#dfe318 73.5px,#ece51b 83.5px,#f4e61e 88.5px,#fbe723 100.5px,#fde725 135.5px)"></i>
<i style="top:9px;background:linear-gradient(90deg,#d8e219 0.5px,#d8e219 39.5px,#dae319 70.5px,#e2e418 79.5px,#f1e51d 87.5px,#fbe723 99.5px,#fde725 135.5px)"></i>
<i style="top:10px;background:linear-gradient(90deg,#d2e21b 0.5px,#d2e21b 39.5px,#d2e21b 48.5px,#d5e21a 54.5px,#d5e21a 68.5px,#dfe318 80.5px,#f1e51d 88.5px,#fbe723 100.5px,#fde725 135.5px)"></i>
<i style="top:11px;background:linear-gradient(90deg,#cde11d 0.5px,#cde11d 33.5px,#d0e11c 39.5px,#d2e21b 72.5px,#dde318 80.5px,#f1e51d 89.5px,#fbe723 101.5px,#fde725 135.5px)"></i>
<i style="top:12px;background:linear-gradient(90deg,#c8e020 0.5px,#c8e020 39.5px,#cae11f 67.5px,#d5e21a 79.5px,#ece51b 87.5px,#f8e621 97.5px,#fde725 117.5px,#fde725 135.5px)"></i>
<i style="top:13px;background:linear-gradient(90deg,#c2df23 0.5px,#c2df23 39.5px,#c2df23 63.5px,#c5e021 69.5px,#cde11d 77.5px,#d5e21a 81.5px,#eae51a 87.5px,#f8e621 97.5px,#fde725 123.5px,#fde725 135.5px)"></i>
<i style="top:14px;background:linear-gradient(90deg,#bade28 0.5px,#bade28 39.5px,#bade28 57.5px,#bddf26 63.5px,#c2df23 74.5px,#cde11d 80.5px,#e5e419 86.5px,#f8e621 97.5px,#fde725 127.5px,#fde725 135.5px)"></i>
<i style="top:15px;background:linear-gradient(90deg,#b2dd2d 0.5px,#b2dd2d 39.5px,#b2dd2d 48.5px,#b5de2b 54.5px,#b5de2b 65.5px,#bddf26 75.5px,#c8e020 80.5px,#e2e418 86.5px,#f8e621 97.5px,#fde725 129.5px,#fde725 135.5px)"></i>
<i style="top:16px;background:linear-gradient(90deg,#addc30 0.5px,#addc30 39.5px,#addc30 62.5px,#b5de2b 74.5px,#c2df23 80.5px,#dde318 85.5px,#f6e620 96.5px,#fbe723 110.5px,#fde725 135.5px)"></i>
<i style="top:17px;background:linear-gradient(90deg,#a5db36 0.5px,#a5db36 39.5px,#a5db36 59.5px,#a8db34 65.5px,#b0dd2f 74.5px,#bddf26 80.5px,#dde318 86.5px,#f4e61e 96.5px,#fbe723 108.5px,#fde725 135.5px)"></i>
<i style="top:18px;background:linear-gradient(90deg,#9dd93b 0.5px,#9dd93b 39.5px,#9dd93b 56.5px,#a0da39 62.5px,#a5db36 71.5px,#b2dd2d 78.5px,#c2df23 82.5px,#d5e21a 85.5px,#ece51b 93.5px,#f6e620 98.5px,#fbe723 110.5px,#fde725 135.5px)"></i>
<i style="top:19px;background:linear-gradient(90deg,#95d840 0.5px,#95d840 39.5px,#95d840 55.5px,#98d83e 61.5px,#a0da39 73.5px,#addc30 79.5px,#d2e21b 85.5px,#e7e419 91.5px,#f6e620 98.5px,#fbe723 112.5px,#fde725 135.5px)"></i>
<i style="top:20px;background:linear-gradient(90deg,#8bd646 0.5px,#8bd646 39.5px,#8bd646 58.5px,#95d840 72.5px,#a5db36 79.5px,#d2e21b 86.5px,#e7e419 92.5px,#f6e620 99.5px,#fbe723 113.5px,#fde725 135.5px)"></i>
<i style="top:21px;background:linear-gradient(90deg,#7fd34e 0.5px,#7fd34e 39.5px,#81d34d 60.5px,#8bd646 72.5px,#a2da37 80.5px,#cde11d 86.5px,#e5e419 92.5px,#f4e61e 98.5px,#fbe723 110.5px,#fde725 135.5px)"></i>
<i style="top:22px;background:linear-gradient(90deg,#75d054 0.5px,#75d054 39.5px,#77d153 61.5px,#81d34d 71.5px,#8ed645 77.5px,#95d840 79.5px,#b2dd2d 83.5px,#c5e021 85.5px,#e2e418 92.5px,#f1e51d 96.5px,#f8e621 106.5px,#fbe723 118.5px,#fde725 135.5px)"></i>
<i style="top:23px;background:linear-gradient(90deg,#69cd5b 0.5px,#69cd5b 29.5px,#6ccd5a 35.5px,#6ece58 62.5px,#77d153 71.5px,#8ed645 79.5px,#addc30 83.5px,#c0df25 85.5px,#dde318 91.5px,#f1e51d 97.5px,#f8e621 107.5px,#fbe723 119.5px,#fde725 135.5px)"></i>
<i style="top:24px;background:linear-gradient(90deg,#60ca60 0.5px,#60ca60 39.5px,#60ca60 46.5px,#63cb5f 52.5px,#69cd5b 67.5px,#77d153 75.5px,#95d840 81.5px,#bddf26 85.5px,#dfe318 92.5px,#f1e51d 97.5px,#f8e621 107.5px,#fde725 135.5px)"></i>
<i style="top:25px;background:linear-gradient(90deg,#58c765 0.5px,#58c765 39.5px,#5cc863 62.5px,#69cd5b 72.5px,#7cd250 78.5px,#90d743 81.5px,#bade28 85.5px,#dde318 92.5px,#efe51c 97.5px,#f8e621 107.5px,#fde725 135.5px)"></i>
<i style="top:26px;background:linear-gradient(90deg,#4ec36b 0.5px,#50c46a 39.5px,#52c569 59.5px,#5ec962 71.5px,#75d054 78.5px,#95d840 82.5px,#b5de2b 85.5px,#dae319 92.5px,#ece51b 96.5px,#f6e620 103.5px,#fbe723 121.5px,#fde725 135.5px)"></i>
<i style="top:27px;background:linear-gradient(90deg,#46c06f 0.5px,#46c06f 39.5px,#4ac16d 59.5px,#54c568 69.5px,#63cb5f 75.5px,#7cd250 80.5px,#b2dd2d 85.5px,#d5e21a 91.5px,#e7e419 95.5px,#efe51c 97.5px,#f8e621 108.5px,#fde725 135.5px)"></i>
<i style="top:28px;background:linear-gradient(90deg,#3dbc74 0.5px,#3fbc73 39.5px,#42be71 60.5px,#50c46a 71.5px,#69cd5b 78.5px,#81d34d 81.5px,#b0dd2f 85.5px,#d2e21b 91.5px,#e7e419 95.5px,#efe51c 97.5px,#f8e621 109.5px,#fde725 135.5px)"></i>
<i style="top:29px;background:linear-gradient(90deg,#37b878 0.5px,#38b977 39.5px,#3dbc74 61.5px,#4ac16d 71.5px,#65cb5e 78.5px,#89d548 82.5px,#addc30 85.5px,#d8e219 92.5px,#eae51a 96.5px,#f6e620 104.5px,#fbe723 124.5px,#fde725 135.5px)"></i>
<i style="top:30px;background:linear-gradient(90deg,#31b57b 0.5px,#32b67a 39.5px,#38b977 62.5px,#42be71 70.5px,#60ca60 78.5px,#7ad151 81.5px,#aadc32 85.5px,#d0e11c 91.5px,#e5e419 95.5px,#efe51c 99.5px,#f6e620 104.5px,#fbe723 124.5px,#fde725 135.5px)"></i>
<i style="top:31px;background:linear-gradient(90deg,#2cb17e 0.5px,#2db27d 39.5px,#32b67a 61.5px,#40bd72 71.5px,#58c765 77.5px,#63cb5f 79.5px,#90d743 83.5px,#aadc32 85.5px,#d5e21a 92.5px,#eae51a 96.5px,#f8e621 107.5px,#f8e621 113.5px,#fbe723 119.5px,#fde725 135.5px)"></i>
<i style="top:32px;background:linear-gradient(90deg,#27ad81 0.5px,#28ae80 39.5px,#2eb37c 62.5px,#3bbb75 71.5px,#54c568 77.5px,#69cd5b 80.5px,#a8db34 85.5px,#cde11d 91.5px,#e5e419 95.5px,#efe51c 99.5px,#f8e621 108.5px,#f8e621 114.5px,#fbe723 120.5px,#fde725 135.5px)"></i>
<i style="top:33px;background:linear-gradient(90deg,#24aa83 0.5px,#25ab82 39.5px,#2ab07f 62.5px,#35b779 70.5px,#46c06f 75.5px,#5cc863 79.5px,#a5db36 85.5px,#cde11d 91.5px,#e5e419 95.5px,#f1e51d 100.5px,#f8e621 110.5px,#fde725 135.5px)"></i>
<i style="top:34px;background:linear-gradient(90deg,#21a685 0.5px,#22a785 39.5px,#28ae80 64.5px,#37b878 72.5px,#48c16e 76.5px,#5ac864 79.5px,#89d548 83.5px,#a5db36 85.5px,#d2e21b 92.5px,#e7e419 96.5px,#f1e51d 100.5px,#f8e621 110.5px,#fde725 135.5px)"></i>
<i style="top:35px;background:linear-gradient(90deg,#1fa287 0.5px,#20a386 39.5px,#25ab82 63.5px,#31b57b 71.5px,#44bf70 76.5px,#58c765 79.5px,#7ad151 82.5px,#a2da37 85.5px,#d2e21b 92.5px,#e7e419 96.5px,#f4e61e 102.5px,#fbe723 123.5px,#fde725 135.5px)"></i>
<i style="top:36px;background:linear-gradient(90deg,#1f9f88 0.5px,#1fa088 39.5px,#21a685 61.5px,#29af7f 69.5px,#3dbc74 75.5px,#56c667 79.5px,#77d153 82.5px,#a2da37 85.5px,#cae11f 91.5px,#e2e418 95.5px,#efe51c 99.5px,#f8e621 109.5px,#f8e621 115.5px,#fbe723 121.5px,#fde725 135.5px)"></i>
<i style="top:37px;background:linear-gradient(90deg,#1e9b8a 0.5px,#1e9d89 39.5px,#20a486 62.5px,#2ab07f 71.5px,#44bf70 77.5px,#69cd5b 81.5px,#a0da39 85.5px,#d0e11c 92.5px,#e7e419 96.5px,#f6e620 104.5px,#f8e621 115.5px,#fbe723 121.5px,#fde725 135.5px)"></i>
<i style="top:38px;background:linear-gradient(90deg,#1f978b 0.5px,#1f998a 39.5px,#1fa088 60.5px,#26ad81 70.5px,#3dbc74 76.5px,#52c569 79.5px,#75d054 82.5px,#a0da39 85.5px,#d0e11c 92.5px,#e7e419 96.5px,#f1e51d 101.5px,#f8e621 111.5px,#fde725 135.5px)"></i>
<i style="top:39px;background:linear-gradient(90deg,#20938c 0.5px,#1f958b 39.5px,#1e9c89 59.5px,#23a983 69.5px,#2db27d 73.5px,#40bd72 77.5px,#5ac864 80.5px,#90d743 84.5px,#a0da39 85.5px,#d0e11c 92.5px,#e7e419 96.5px,#f1e51d 101.5px,#f8e621 111.5px,#fde725 135.5px)"></i>
<i style="top:40px;background:linear-gradient(90deg,#21908d 0.5px,#20928c 39.5px,#1f978b 57.5px,#22a785 69.5px,#2ab07f 73.5px,#3fbc73 77.5px,#58c765 80.5px,#9dd93b 85.5px,#d0e11c 92.5px,#e7e419 96.5px,#f1e51d 101.5px,#f8e621 111.5px,#fde725 135.5px)"></i>
<i style="top:41px;background:linear-gradient(90deg,#228c8d 0.5px,#218e8d 39.5px,#1f978b 60.5px,#22a785 70.5px,#2db27d 74.5px,#44bf70 78.5px,#63cb5f 81.5px,#9dd93b 85.5px,#d0e11c 92.5px,#e7e419 96.5px,#f6e620 106.5px,#fbe723 126.5px,#fde725 135.5px)"></i>
<i style="top:42px;background:linear-gradient(90deg,#23888e 0.5px,#238a8d 39.5px,#1f958b 61.5px,#22a884 71.5px,#3bbb75 77.5px,#4ac16d 79.5px,#7fd34e 83.5px,#9dd93b 85.5px,#d5e21a 93.5px,#eae51a 97.5px,#f6e620 106.5px,#f8e621 116.5px,#fbe723 122.5px,#fde725 135.5px)"></i>
<i style="top:43px;background:linear-gradient(90deg,#25848e 0.5px,#24868e 39.5px,#218f8d 57.5px,#1f9e89 67.5px,#26ad81 73.5px,#40bd72 78.5px,#70cf57 82.5px,#9dd93b 85.5px,#d5e21a 93.5px,#eae51a 97.5px,#f6e620 106.5px,#f8e621 116.5px,#fbe723 122.5px,#fde725 135.5px)"></i>
<i style="top:44px;background:linear-gradient(90deg,#26818e 0.5px,#26828e 39.5px,#228b8d 56.5px,#1e9c89 67.5px,#25ac82 73.5px,#40bd72 78.5px,#54c568 80.5px,#6ece58 82.5px,#9dd93b 85.5px,#d5e21a 93.5px,#eae51a 97.5px,#f6e620 106.5px,#f8e621 116.5px,#fbe723 122.5px,#fde725 135.5px)"></i>
<i style="top:45px;background:linear-gradient(90deg,#287d8e 0.5px,#277f8e 39.5px,#23888e 56.5px,#1f9a8a 67.5px,#22a884 72.5px,#32b67a 76.5px,#48c16e 79.5px,#7cd250 83.5px,#9bd93c 85.5px,#d5e21a 93.5px,#eae51a 97.5px,#f6e620 106.5px,#f8e621 116.5px,#fbe723 122.5px,#fde725 135.5px)"></i>
<i style="top:46px;background:linear-gradient(90deg,#29798e 0.5px,#287c8e 39.5px,#24868e 57.5px,#1f9e89 69.5px,#27ad81 74.5px,#3fbc73 78.5px,#52c569 80.5px,#7cd250 83.5px,#9bd93c 85.5px,#d5e21a 93.5px,#eae51a 97.5px,#f6e620 106.5px,#f8e621 116.5px,#fbe723 122.5px,#fde725 135.5px)"></i>
<i style="top:47px;background:linear-gradient(90deg,#2b748e 0.5px,#2a788e 39.5px,#26828e 56.5px,#1f9a8a 68.5px,#21a685 72.5px,#2cb17e 75.5px,#46c06f 79.5px,#6ccd5a 82.5px,#9bd93c 85.5px,#d5e21a 93.5px,#eae51a 97.5px,#f6e620 106.5px,#f8e621 116.5px,#fbe723 122.5px,#fde725 135.5px)"></i>
<i style="top:48px;background:linear-gradient(90deg,#2d718e 0.5px,#2b748e 39.5px,#277f8e 55.5px,#20938c 66.5px,#21a585 72.5px,#2fb47c 76.5px,#44bf70 79.5px,#7cd250 83.5px,#9bd93c 85.5px,#cde11d 92.5px,#e5e419 96.5px,#ece51b 98.5px,#f6e620 107.5px,#fbe723 127.5px,#fde725 135.5px)"></i>
<i style="top:49px;background:linear-gradient(90deg,#2e6d8e 0.5px,#2d708e 36.5px,#2a788e 51.5px,#23888e 62.5px,#20a486 72.5px,#2fb47c 76.5px,#44bf70 79.5px,#7cd250 83.5px,#9bd93c 85.5px,#cde11d 92.5px,#e5e419 96.5px,#eae51a 98.5px,#f6e620 106.5px,#f8e621 116.5px,#fbe723 122.5px,#fde725 135.5px)"></i>
<i style="top:50px;background:linear-gradient(90deg,#30698e 0.5px,#2f6b8e 32.5px,#2b758e 51.5px,#23898e 63.5px,#1fa088 71.5px,#29af7f 75.5px,#44bf70 79.5px,#5cc863 81.5px,#9bd93c 85.5px,#cde11d 92.5px,#e5e419 96.5px,#eae51a 98.5px,#f6e620 106.5px,#f8e621 116.5px,#fbe723 122.5px,#fde725 135.5px)"></i>
<i style="top:51px;background:linear-gradient(90deg,#32648e 0.5px,#31678e 32.5px,#2b748e 53.5px,#238a8d 64.5px,#1f9f88 71.5px,#28ae80 75.5px,#42be71 79.5px,#7ad151 83.5px,#9bd93c 85.5px,#cde11d 92.5px,#e5e419 96.5px,#eae51a 98.5px,#f6e620 106.5px,#f8e621 116.5px,#fbe723 122.5px,#fde725 135.5px)"></i>
<i style="top:52px;background:linear-gradient(90deg,#34608d 0.5px,#33638d 31.5px,#2e6d8e 49.5px,#277f8e 60.5px,#1f9f88 71.5px,#28ae80 75.5px,#42be71 79.5px,#7ad151 83.5px,#9bd93c 85.5px,#d2e21b 93.5px,#eae51a 97.5px,#f6e620 106.5px,#f8e621 116.5px,#fbe723 122.5px,#fde725 135.5px)"></i>
<i style="top:53px;background:linear-gradient(90deg,#365c8d 0.5px,#355e8d 30.5px,#2f6c8e 50.5px,#26828e 62.5px,#1fa187 72.5px,#2db27d 76.5px,#42be71 79.5px,#69cd5b 82.5px,#8bd646 84.5px,#a0da39 86.5px,#cde11d 92.5px,#e5e419 96.5px,#eae51a 98.5px,#f6e620 106.5px,#f8e621 116.5px,#fbe723 122.5px,#fde725 135.5px)"></i>
<i style="top:54px;background:linear-gradient(90deg,#39568c 0.5px,#38598c 29.5px,#30698e 50.5px,#277f8e 61.5px,#1f9e89 71.5px,#27ad81 75.5px,#42be71 79.5px,#69cd5b 82.5px,#8bd646 84.5px,#a0da39 86.5px,#cde11d 92.5px,#e5e419 96.5px,#eae51a 98.5px,#f6e620 106.5px,#f8e621 116.5px,#fbe723 122.5px,#fde725 135.5px)"></i>
<i style="top:55px;background:linear-gradient(90deg,#3b528b 0.5px,#39558c 30.5px,#31688e 51.5px,#26828e 63.5px,#1fa188 72.5px,#2cb17e 76.5px,#42be71 79.5px,#69cd5b 82.5px,#8bd646 84.5px,#a0da39 86.5px,#cde11d 92.5px,#e5e419 96.5px,#eae51a 98.5px,#f6e620 106.5px,#f8e621 116.5px,#fbe723 122.5px,#fde725 135.5px)"></i>
<i style="top:56px;background:linear-gradient(90deg,#3d4e8a 0.5px,#3b518b 30.5px,#31668e 51.5px,#26828e 63.5px,#1fa188 72.5px,#2cb17e 76.5px,#40bd72 79.5px,#7ad151 83.5px,#98d83e 85.5px,#cde11d 92.5px,#e5e419 96.5px,#eae51a 98.5px,#f6e620 106.5px,#f8e621 116.5px,#fbe723 122.5px,#fde725 135.5px)"></i>
<i style="top:57px;background:linear-gradient(90deg,#3e4989 0.5px,#3e4a89 28.5px,#33628d 50.5px,#277e8e 62.5px,#1fa188 72.5px,#26ad81 75.5px,#40bd72 79.5px,#69cd5b 82.5px,#98d83e 85.5px,#cde11d 92.5px,#e5e419 96.5px,#eae51a 98.5px,#f6e620 106.5px,#f8e621 116.5px,#fbe723 122.5px,#fde725 135.5px)"></i>
<i style="top:58px;background:linear-gradient(90deg,#414487 0.5px,#3f4788 29.5px,#355e8d 49.5px,#287d8e 62.5px,#1e9c89 71.5px,#26ad81 75.5px,#40bd72 79.5px,#69cd5b 82.5px,#98d83e 85.5px,#cde11d 92.5px,#e5e419 96.5px,#eae51a 98.5px,#f6e620 106.5px,#f8e621 116.5px,#fbe723 122.5px,#fde725 135.5px)"></i>
<i style="top:59px;background:linear-gradient(90deg,#423f85 0.5px,#414287 29.5px,#3c508b 41.5px,#33628d 52.5px,#24868e 65.5px,#1fa088 72.5px,#26ad81 75.5px,#40bd72 79.5px,#69cd5b 82.5px,#98d83e 85.5px,#cde11d 92.5px,#e5e419 96.5px,#eae51a 98.5px,#f6e620 106.5px,#f8e621 116.5px,#fbe723 122.5px,#fde725 135.5px)"></i>
<i style="top:60px;background:linear-gradient(90deg,#443a83 0.5px,#443b84 26.5px,#3e4989 37.5px,#375a8c 49.5px,#277f8e 63.5px,#1fa088 72.5px,#26ad81 75.5px,#40bd72 79.5px,#69cd5b 82.5px,#98d83e 85.5px,#cde11d 92.5px,#e5e419 96.5px,#eae51a 98.5px,#f6e620 106.5px,#f8e621 116.5px,#fbe723 122.5px,#fde725 135.5px)"></i>
<i style="top:61px;background:linear-gradient(90deg,#453581 0.5px,#453781 26.5px,#39558c 48.5px,#297b8e 62.5px,#1e9b8a 71.5px,#26ad81 75.5px,#40bd72 79.5px,#69cd5b 82.5px,#98d83e 85.5px,#cde11d 92.5px,#e5e419 96.5px,#eae51a 98.5px,#f6e620 106.5px,#f8e621 116.5px,#fbe723 122.5px,#fde725 135.5px)"></i>
<i style="top:62px;background:linear-gradient(90deg,#472f7d 0.5px,#46327e 26.5px,#3e4989 42.5px,#375b8d 51.5px,#23888e 66.5px,#1fa088 72.5px,#2ab07f 76.5px,#40bd72 79.5px,#69cd5b 82.5px,#98d83e 85.5px,#cde11d 92.5px,#e5e419 96.5px,#eae51a 98.5px,#f6e620 106.5px,#f8e621 116.5px,#fbe723 122.5px,#fde725 135.5px)"></i>
<i style="top:63px;background:linear-gradient(90deg,#472a7a 0.5px,#472d7b 26.5px,#453581 31.5px,#39568c 50.5px,#23888e 66.5px,#1f9f88 72.5px,#2ab07f 76.5px,#40bd72 79.5px,#77d153 83.5px,#98d83e 85.5px,#cde11d 92.5px,#e5e419 96.5px,#eae51a 98.5px,#f6e620 106.5px,#f8e621 116.5px,#fbe723 122.5px,#fde725 135.5px)"></i>
<i style="top:64px;background:linear-gradient(90deg,#482576 0.5px,#482677 25.5px,#46327e 31.5px,#39558c 50.5px,#25848e 65.5px,#1f9f88 72.5px,#2ab07f 76.5px,#40bd72 79.5px,#77d153 83.5px,#98d83e 85.5px,#cde11d 92.5px,#e5e419 96.5px,#eae51a 98.5px,#f6e620 106.5px,#f8e621 116.5px,#fbe723 122.5px,#fde725 135.5px)"></i>
<i style="top:65px;background:linear-gradient(90deg,#482071 0.5px,#482173 25.5px,#472e7c 31.5px,#3d4d8a 47.5px,#287d8e 63.5px,#1f9f88 72.5px,#2ab07f 76.5px,#40bd72 79.5px,#77d153 83.5px,#98d83e 85.5px,#cde11d 92.5px,#e5e419 96.5px,#eae51a 98.5px,#f6e620 106.5px,#f8e621 116.5px,#fbe723 122.5px,#fde725 135.5px)"></i>
<i style="top:66px;background:linear-gradient(90deg,#481a6c 0.5px,#481d6f 26.5px,#472a7a 31.5px,#46327e 34.5px,#3c508b 49.5px,#25838e 65.5px,#1f9f88 72.5px,#2ab07f 76.5px,#40bd72 79.5px,#77d153 83.5px,#98d83e 85.5px,#cde11d 92.5px,#e5e419 96.5px,#eae51a 98.5px,#f6e620 106.5px,#f8e621 116.5px,#fbe723 122.5px,#fde725 135.5px)"></i>
<i style="top:67px;background:linear-gradient(90deg,#481467 0.5px,#481769 25.5px,#482677 31.5px,#472d7b 33.5px,#3e4989 47.5px,#25838e 65.5px,#1f9f88 72.5px,#2ab07f 76.5px,#3fbc73 79.5px,#77d153 83.5px,#98d83e 85.5px,#c5e021 91.5px,#dfe318 95.5px,#eae51a 97.5px,#f6e620 106.5px,#f8e621 116.5px,#fbe723 122.5px,#fde725 135.5px)"></i>
<i style="top:68px;background:linear-gradient(90deg,#470e61 0.5px,#471164 25.5px,#481f70 30.5px,#482979 32.5px,#3e4a89 48.5px,#27808e 64.5px,#1f9f88 72.5px,#25ac82 75.5px,#3fbc73 79.5px,#77d153 83.5px,#98d83e 85.5px,#c5e021 91.5px,#dfe318 95.5px,#eae51a 97.5px,#f6e620 106.5px,#f8e621 116.5px,#fbe723 122.5px,#fde725 135.5px)"></i>
</div>
<div class="hm" style="left:53.60px;top:166.50px;width:135.60px;height:69.20px">
<i style="top:0px;background:linear-gradient(90deg,#4e4ec8 0.5px,#4e4ec8 39.5px,#4e4ec8 78.5px,#5555ca 92.5px,#6767d0 98.5px,#8181d8 102.5px,#d4d4f2 111.5px,#f1f1fb 116.5px,#fefeff 121.5px,#fefafa 133.5px,#fefbfb 135.5px)"></i>
<i style="top:1px;background:linear-gradient(90deg,#4040c4 0.5px,#4040c4 39.5px,#4040c4 78.5px,#4747c6 91.5px,#5555ca 96.5px,#6c6cd1 100.5px,#a5a5e3 106.5px,#d5d5f2 111.5px,#f3f3fb 116.5px,#ffffff 120.5px,#fdf9f9 129.5px,#fdfafa 135.5px)"></i>
<i style="top:2px;background:linear-gradient(90deg,#3232bf 0.5px,#3232bf 39.5px,#3232c0 78.5px,#3939c2 90.5px,#4747c6 95.5px,#5f5fcd 99.5px,#8f8fdc 104.5px,#cecef0 110.5px,#ebebf9 114.5px,#ffffff 119.5px,#fdf7f7 127.5px,#fdf8f8 135.5px)"></i>
<i style="top:3px;background:linear-gradient(90deg,#2323bb 0.5px,#2323bb 39.5px,#2424bb 78.5px,#2d2dbe 90.5px,#3e3ec3 95.5px,#5959cc 99.5px,#8f8fdc 104.5px,#d1d1f1 110.5px,#f3f3fb 115.5px,#fefeff 118.5px,#fcf6f6 125.5px,#fdf7f7 135.5px)"></i>
<i style="top:4px;background:linear-gradient(90deg,#1515b7 0.5px,#1515b7 39.5px,#1616b7 78.5px,#1f1fba 89.5px,#3030bf 94.5px,#4c4cc7 98.5px,#7676d5 102.5px,#cacaee 109.5px,#eaeaf9 113.5px,#fefeff 117.5px,#fcf4f4 123.5px,#fcf6f6 135.5px)"></i>
<i style="top:5px;background:linear-gradient(90deg,#0707b2 0.5px,#0707b2 39.5px,#0808b3 78.5px,#1313b6 89.5px,#2727bc 94.5px,#4747c6 98.5px,#7676d5 102.5px,#c2c2ec 108.5px,#e6e6f7 112.5px,#fdfdfe 116.5px,#fbf1f1 124.5px,#fcf5f5 135.5px)"></i>
<i style="top:6px;background:linear-gradient(90deg,#0000b0 0.5px,#0000b0 39.5px,#0202b0 78.5px,#0a0ab3 87.5px,#1f1fba 93.5px,#3e3ec3 97.5px,#7b7bd6 102.5px,#bbbbea 107.5px,#e2e2f6 111.5px,#fcfcfe 115.5px,#fffefe 116.5px,#fbf1f1 121.5px,#fbf1f1 130.5px,#fcf4f4 135.5px)"></i>
<i style="top:7px;background:linear-gradient(90deg,#0000b0 0.5px,#0000b0 39.5px,#0202b1 78.5px,#0b0bb4 87.5px,#1e1eb9 92.5px,#3b3bc2 96.5px,#6969d0 100.5px,#c2c2ec 107.5px,#efeffa 112.5px,#fffefe 115.5px,#faefef 120.5px,#f9eded 127.5px,#fbf2f2 135.5px)"></i>
<i style="top:8px;background:linear-gradient(90deg,#0000b0 0.5px,#0000b0 39.5px,#0202b1 78.5px,#0d0db4 87.5px,#2222ba 92.5px,#4242c4 96.5px,#8b8bdb 102.5px,#c9c9ee 107.5px,#f3f3fb 112.5px,#ffffff 114.5px,#f9eded 119.5px,#f8eaea 126.5px,#fbf1f1 135.5px)"></i>
<i style="top:9px;background:linear-gradient(90deg,#0000b0 0.5px,#0000b0 39.5px,#0303b1 78.5px,#0d0db4 86.5px,#2020ba 91.5px,#3e3ec3 95.5px,#8686da 101.5px,#cfcff0 107.5px,#f8f8fd 112.5px,#fefeff 113.5px,#f8e9e9 119.5px,#f8e7e7 126.5px,#faf0f0 135.5px)"></i>
<i style="top:10px;background:linear-gradient(90deg,#0000b0 0.5px,#0000b0 39.5px,#0303b1 78.5px,#0f0fb5 86.5px,#1e1eb9 90.5px,#3b3bc2 94.5px,#7474d4 99.5px,#c0c0eb 105.5px,#efeffa 110.5px,#fdfdfe 112.5px,#f8e8e8 118.5px,#f6e3e3 124.5px,#faeeee 135.5px)"></i>
<i style="top:11px;background:linear-gradient(90deg,#0000b0 0.5px,#0000b0 39.5px,#0303b1 77.5px,#0e0eb4 85.5px,#2222bb 90.5px,#4242c4 94.5px,#7c7cd6 99.5px,#c6c6ed 105.5px,#f3f3fb 110.5px,#fbfbfe 111.5px,#fefdfd 112.5px,#f7e6e6 117.5px,#f5e0e0 123.5px,#f9eded 135.5px)"></i>
<i style="top:12px;background:linear-gradient(90deg,#0000b0 0.5px,#0000b0 39.5px,#0303b1 77.5px,#1010b5 85.5px,#2121ba 89.5px,#3e3ec3 93.5px,#8484d9 99.5px,#ccccef 105.5px,#f1f1fb 109.5px,#ffffff 111.5px,#f8e9e9 115.5px,#f5dddd 120.5px,#f6e1e1 128.5px,#f9ecec 135.5px)"></i>
<i style="top:13px;background:linear-gradient(90deg,#0000b0 0.5px,#0000b0 39.5px,#0303b1 76.5px,#0f0fb5 84.5px,#2525bb 89.5px,#4545c5 93.5px,#7f7fd7 98.5px,#c8c8ee 104.5px,#f6f6fc 109.5px,#fdfdfe 110.5px,#f6e1e1 116.5px,#f3d9d9 122.5px,#f8e7e7 133.5px,#f9eaea 135.5px)"></i>
<i style="top:14px;background:linear-gradient(90deg,#0000b0 0.5px,#0000b0 39.5px,#0303b1 75.5px,#0e0eb4 83.5px,#2929bd 89.5px,#5656cb 94.5px,#c4c4ed 103.5px,#fbfbfe 109.5px,#fefcfc 110.5px,#f6e0e0 115.5px,#f2d6d6 120.5px,#f4dcdc 128.5px,#f8e9e9 135.5px)"></i>
<i style="top:15px;background:linear-gradient(90deg,#0000b0 0.5px,#0000b0 39.5px,#0303b1 74.5px,#0e0eb4 82.5px,#2121ba 87.5px,#3e3ec3 91.5px,#7676d4 96.5px,#cacaef 103.5px,#f8f8fd 108.5px,#fffefe 109.5px,#f5e0e0 114.5px,#f2d4d4 119.5px,#f2d6d6 126.5px,#f8e8e8 135.5px)"></i>
<i style="top:16px;background:linear-gradient(90deg,#0000b0 0.5px,#0000b0 39.5px,#0303b1 73.5px,#0d0db4 81.5px,#2020ba 86.5px,#3b3bc2 90.5px,#7d7dd7 96.5px,#c5c5ed 102.5px,#fdfdfe 108.5px,#f4dcdc 114.5px,#f0d0d0 119.5px,#f2d3d3 126.5px,#f7e6e6 135.5px)"></i>
<i style="top:17px;background:linear-gradient(90deg,#0000b0 0.5px,#0000b0 39.5px,#0303b1 73.5px,#0f0fb5 81.5px,#1e1eb9 85.5px,#4141c4 90.5px,#8585d9 96.5px,#ccccef 102.5px,#fafafe 107.5px,#fefcfc 108.5px,#f6e1e1 112.5px,#f1d1d1 116.5px,#efcccc 122.5px,#f4dddd 132.5px,#f7e5e5 135.5px)"></i>
<i style="top:18px;background:linear-gradient(90deg,#0000b0 0.5px,#0000b0 39.5px,#0303b1 72.5px,#0e0eb4 80.5px,#2222ba 85.5px,#3e3ec3 89.5px,#8080d8 95.5px,#d2d2f1 102.5px,#ffffff 107.5px,#f4dcdc 112.5px,#efcdcd 116.5px,#eec8c8 121.5px,#f2d6d6 130.5px,#f6e3e3 135.5px)"></i>
<i style="top:19px;background:linear-gradient(90deg,#0000b0 0.5px,#0000b0 39.5px,#0303b1 71.5px,#1010b5 80.5px,#2626bc 85.5px,#4444c5 89.5px,#a0a0e2 97.5px,#e1e1f6 103.5px,#fcfcfe 106.5px,#fbf1f1 108.5px,#f1d3d3 113.5px,#eec7c7 117.5px,#edc6c6 123.5px,#f4dcdc 133.5px,#f6e2e2 135.5px)"></i>
<i style="top:20px;background:linear-gradient(90deg,#0000b0 0.5px,#0000b0 39.5px,#0404b1 71.5px,#1010b5 79.5px,#2424bb 84.5px,#4141c4 88.5px,#8383d9 94.5px,#d3d3f1 101.5px,#f9f9fd 105.5px,#fefcfc 106.5px,#f3d8d8 111.5px,#eec7c7 115.5px,#ecc2c2 121.5px,#f0cece 129.5px,#f6e1e1 135.5px)"></i>
<i style="top:21px;background:linear-gradient(90deg,#0000b0 0.5px,#0000b0 39.5px,#0303b1 69.5px,#0d0db4 77.5px,#2222bb 83.5px,#4747c6 88.5px,#cfcff0 100.5px,#fefeff 105.5px,#f1d3d3 111.5px,#ecc1c1 116.5px,#ebbfbf 122.5px,#f1d1d1 131.5px,#f5dfdf 135.5px)"></i>
<i style="top:22px;background:linear-gradient(90deg,#0000b0 0.5px,#0000b0 39.5px,#0303b1 68.5px,#0e0eb4 77.5px,#2626bc 83.5px,#4e4ec8 88.5px,#d5d5f2 100.5px,#fbfbfe 104.5px,#fefafa 105.5px,#f0cfcf 111.5px,#ebbfbf 115.5px,#eabbbb 121.5px,#eec9c9 129.5px,#f5dede 135.5px)"></i>
<i style="top:23px;background:linear-gradient(90deg,#0000b0 0.5px,#0000b0 39.5px,#0404b1 69.5px,#1010b5 77.5px,#2525bb 82.5px,#4141c4 86.5px,#8181d8 92.5px,#dbdbf4 100.5px,#fffefe 104.5px,#f0cfcf 110.5px,#ebbebe 114.5px,#e9b8b8 120.5px,#edc4c4 128.5px,#f4dcdc 135.5px)"></i>
<i style="top:24px;background:linear-gradient(90deg,#0000b0 0.5px,#0000b0 39.5px,#0404b1 68.5px,#1010b5 76.5px,#2323bb 81.5px,#3e3ec3 85.5px,#7d7dd7 91.5px,#d6d6f2 99.5px,#fdfdfe 103.5px,#f5dfdf 107.5px,#ecc1c1 112.5px,#e8b5b5 117.5px,#e9b7b7 123.5px,#efcbcb 131.5px,#f4dbdb 135.5px)"></i>
<i style="top:25px;background:linear-gradient(90deg,#0000b0 0.5px,#0000b0 39.5px,#0404b1 68.5px,#1212b5 76.5px,#2121ba 80.5px,#4444c5 85.5px,#8484d9 91.5px,#dcdcf4 99.5px,#f9f9fd 102.5px,#fefcfc 103.5px,#efcccc 109.5px,#e9b6b6 114.5px,#e7b1b1 120.5px,#ebbfbf 128.5px,#f3dada 135.5px)"></i>
<i style="top:26px;background:linear-gradient(90deg,#0000b0 0.5px,#0000b0 39.5px,#0404b1 67.5px,#1111b5 75.5px,#2525bb 80.5px,#4a4ac7 85.5px,#e2e2f6 99.5px,#fefeff 102.5px,#f0cdcd 108.5px,#e8b5b5 113.5px,#e6aeae 119.5px,#e9b7b7 126.5px,#f2d4d4 134.5px,#f3d8d8 135.5px)"></i>
<i style="top:27px;background:linear-gradient(90deg,#0000b0 0.5px,#0000b0 39.5px,#0404b1 66.5px,#1010b5 74.5px,#2323bb 79.5px,#3e3ec3 83.5px,#7b7bd6 89.5px,#dedef5 98.5px,#fbfbfe 101.5px,#fdfafa 102.5px,#eec8c8 108.5px,#e8b5b5 112.5px,#e5abab 117.5px,#e7b0b0 124.5px,#edc5c5 131.5px,#f3d7d7 135.5px)"></i>
<i style="top:28px;background:linear-gradient(90deg,#0000b0 0.5px,#0000b0 39.5px,#0404b1 65.5px,#0f0fb5 73.5px,#2727bc 79.5px,#4d4dc8 84.5px,#d9d9f3 97.5px,#fffefe 101.5px,#efcaca 107.5px,#e7b1b1 112.5px,#e4a8a8 118.5px,#e6aeae 124.5px,#ecc3c3 131.5px,#f2d6d6 135.5px)"></i>
<i style="top:29px;background:linear-gradient(90deg,#0000b0 0.5px,#0000b0 39.5px,#0404b1 64.5px,#1111b5 73.5px,#2b2bbd 79.5px,#5353ca 84.5px,#dfdff5 97.5px,#fcfcfe 100.5px,#faefef 102.5px,#edc5c5 107.5px,#e7b0b0 111.5px,#e3a5a5 117.5px,#e6adad 125.5px,#efcaca 133.5px,#f2d5d5 135.5px)"></i>
<i style="top:30px;background:linear-gradient(90deg,#0000b0 0.5px,#0000b0 39.5px,#0505b2 65.5px,#1313b6 73.5px,#3030bf 79.5px,#5050c9 83.5px,#e5e5f7 97.5px,#f8f8fd 99.5px,#fefcfc 100.5px,#eec7c7 106.5px,#e5acac 111.5px,#e2a2a2 117.5px,#e4a9a9 124.5px,#ebbfbf 131.5px,#f2d4d4 135.5px)"></i>
<i style="top:31px;background:linear-gradient(90deg,#0000b0 0.5px,#0000b0 39.5px,#0505b2 64.5px,#1313b6 72.5px,#2828bc 77.5px,#4444c5 81.5px,#8080d8 87.5px,#d6d6f2 95.5px,#fefeff 99.5px,#ecc2c2 106.5px,#e4a9a9 111.5px,#e1a0a0 116.5px,#e3a4a4 123.5px,#e9b9b9 130.5px,#f1d2d2 135.5px)"></i>
<i style="top:32px;background:linear-gradient(90deg,#0000b0 0.5px,#0000b0 39.5px,#0505b2 63.5px,#1212b6 71.5px,#2626bc 76.5px,#4949c7 81.5px,#9e9ee1 89.5px,#f9f9fd 98.5px,#fefbfb 99.5px,#edc5c5 105.5px,#e5acac 109.5px,#e19d9d 115.5px,#e2a2a2 123.5px,#e8b3b3 129.5px,#f1d1d1 135.5px)"></i>
<i style="top:33px;background:linear-gradient(90deg,#0000b0 0.5px,#0000b0 39.5px,#0505b2 62.5px,#1212b5 70.5px,#2a2abd 76.5px,#5050c9 81.5px,#e2e2f6 95.5px,#ffffff 98.5px,#ebc0c0 105.5px,#e4a9a9 109.5px,#e09c9c 114.5px,#e09b9b 120.5px,#e6aeae 128.5px,#f1d0d0 135.5px)"></i>
<i style="top:34px;background:linear-gradient(90deg,#0000b0 0.5px,#0000b0 39.5px,#0505b2 61.5px,#1212b6 69.5px,#2525bc 74.5px,#4747c6 79.5px,#8d8ddc 86.5px,#fcfcfe 97.5px,#faefef 99.5px,#ecc1c1 104.5px,#e3a4a4 109.5px,#df9898 115.5px,#e09c9c 122.5px,#e7b0b0 129.5px,#f0cfcf 135.5px)"></i>
<i style="top:35px;background:linear-gradient(90deg,#0000b0 0.5px,#0000b0 39.5px,#0606b2 61.5px,#1515b7 69.5px,#3131bf 75.5px,#5959cb 80.5px,#f9f9fd 96.5px,#fefcfc 97.5px,#edc3c3 103.5px,#e3a4a4 108.5px,#df9797 113.5px,#df9797 120.5px,#e4a7a7 127.5px,#eec8c8 134.5px,#f0cece 135.5px)"></i>
<i style="top:36px;background:linear-gradient(90deg,#0000b0 0.5px,#0000b0 39.5px,#0606b2 59.5px,#1313b6 67.5px,#2b2bbd 73.5px,#5858cb 79.5px,#f6f6fc 95.5px,#ffffff 96.5px,#edc6c6 102.5px,#e5aaaa 106.5px,#df9797 111.5px,#dd9292 117.5px,#e19f9f 125.5px,#ecc1c1 133.5px,#f0cdcd 135.5px)"></i>
<i style="top:37px;background:linear-gradient(90deg,#0000b0 0.5px,#0000b0 39.5px,#0606b2 58.5px,#1313b6 66.5px,#2c2cbe 72.5px,#4f4fc8 77.5px,#fcfcfe 95.5px,#fdf8f8 96.5px,#e9b8b8 103.5px,#e2a1a1 107.5px,#dd9292 112.5px,#dd9292 119.5px,#e2a1a1 126.5px,#ecc0c0 133.5px,#efcccc 135.5px)"></i>
<i style="top:38px;background:linear-gradient(90deg,#0000b0 0.5px,#0000b0 39.5px,#0707b2 58.5px,#1717b7 66.5px,#3232bf 72.5px,#6060ce 78.5px,#f9f9fd 94.5px,#fefbfb 95.5px,#eababa 102.5px,#e2a1a1 106.5px,#dd9191 111.5px,#dc8e8e 117.5px,#e09a9a 124.5px,#e7b0b0 130.5px,#efcccc 135.5px)"></i>
<i style="top:39px;background:linear-gradient(90deg,#0000b0 0.5px,#0101b0 39.5px,#0707b2 57.5px,#1717b7 65.5px,#3232bf 71.5px,#5757cb 76.5px,#f6f6fc 93.5px,#fffefe 94.5px,#e8b5b5 102.5px,#df9999 107.5px,#db8c8c 113.5px,#dc8f8f 120.5px,#e3a6a6 128.5px,#efcbcb 135.5px)"></i>
<i style="top:40px;background:linear-gradient(90deg,#0000b0 0.5px,#0101b0 39.5px,#0707b2 55.5px,#1515b6 63.5px,#2d2dbe 69.5px,#4e4ec8 74.5px,#fcfcfe 93.5px,#fdf8f8 94.5px,#e9b7b7 101.5px,#e19e9e 105.5px,#dc8d8d 110.5px,#da8989 116.5px,#de9494 123.5px,#e6aeae 130.5px,#efcaca 135.5px)"></i>
<i style="top:41px;background:linear-gradient(90deg,#0000b0 0.5px,#0101b0 39.5px,#0808b3 55.5px,#1818b7 63.5px,#3232c0 69.5px,#5e5ecd 75.5px,#f9f9fd 92.5px,#fefbfb 93.5px,#e7b2b2 101.5px,#df9696 106.5px,#da8888 112.5px,#db8a8a 119.5px,#e2a0a0 127.5px,#eec9c9 135.5px)"></i>
<i style="top:42px;background:linear-gradient(90deg,#0000b0 0.5px,#0101b0 39.5px,#0808b3 54.5px,#1818b8 62.5px,#3333c0 68.5px,#5e5ecd 74.5px,#fffefe 92.5px,#e8b5b5 100.5px,#df9797 105.5px,#da8686 111.5px,#d98686 117.5px,#de9494 124.5px,#e9b7b7 132.5px,#eec8c8 135.5px)"></i>
<i style="top:43px;background:linear-gradient(90deg,#0000b0 0.5px,#0101b0 39.5px,#0a0ab3 54.5px,#1c1cb9 62.5px,#3939c2 68.5px,#6666d0 74.5px,#fcfcfe 91.5px,#faefef 93.5px,#e7b0b0 100.5px,#de9494 105.5px,#d98484 111.5px,#d98484 117.5px,#de9393 124.5px,#e8b6b6 132.5px,#eec8c8 135.5px)"></i>
<i style="top:44px;background:linear-gradient(90deg,#0000b0 0.5px,#0202b0 39.5px,#0a0ab3 53.5px,#1c1cb9 61.5px,#3f3fc4 68.5px,#7777d5 75.5px,#f9f9fd 90.5px,#fefcfc 91.5px,#e8b3b3 99.5px,#de9595 104.5px,#d98383 110.5px,#d88181 116.5px,#dc8f8f 123.5px,#e7b0b0 131.5px,#eec7c7 135.5px)"></i>
<i style="top:45px;background:linear-gradient(90deg,#0000b0 0.5px,#0202b1 39.5px,#0909b3 51.5px,#1a1ab8 59.5px,#3333c0 65.5px,#5c5ccd 71.5px,#ffffff 90.5px,#e8b6b6 98.5px,#dd9292 104.5px,#d88181 110.5px,#d77f7f 116.5px,#dc8e8e 123.5px,#e6b0b0 131.5px,#edc6c6 135.5px)"></i>
<i style="top:46px;background:linear-gradient(90deg,#0000b0 0.5px,#0202b1 39.5px,#0c0cb4 52.5px,#2121ba 60.5px,#3f3fc4 66.5px,#7575d4 73.5px,#fcfcfe 89.5px,#fdf9f9 90.5px,#e9b9b9 97.5px,#de9494 103.5px,#d88080 109.5px,#d77c7c 115.5px,#db8a8a 122.5px,#e5aaaa 130.5px,#edc5c5 135.5px)"></i>
<i style="top:47px;background:linear-gradient(90deg,#0000b0 0.5px,#0303b1 39.5px,#0e0eb4 52.5px,#2525bc 60.5px,#4646c6 66.5px,#8585d9 74.5px,#f9f9fd 88.5px,#fefcfc 89.5px,#e8b5b5 97.5px,#dd9191 103.5px,#d77e7e 109.5px,#d67a7a 115.5px,#db8b8b 123.5px,#e8b3b3 132.5px,#edc4c4 135.5px)"></i>
<i style="top:48px;background:linear-gradient(90deg,#0000b0 0.5px,#0303b1 39.5px,#0f0fb5 51.5px,#2525bc 59.5px,#4c4cc8 66.5px,#ffffff 88.5px,#e9b8b8 96.5px,#dd9393 102.5px,#d77d7d 108.5px,#d57878 114.5px,#d98484 121.5px,#e4a8a8 130.5px,#edc3c3 135.5px)"></i>
<i style="top:49px;background:linear-gradient(90deg,#0000b0 0.5px,#0404b1 39.5px,#0f0fb5 50.5px,#2222ba 57.5px,#3f3fc4 63.5px,#7b7bd6 71.5px,#fcfcfe 87.5px,#fdf9f9 88.5px,#e8b4b4 96.5px,#dd9090 102.5px,#d57979 109.5px,#d57676 115.5px,#da8989 123.5px,#e9b7b7 133.5px,#ecc3c3 135.5px)"></i>
<i style="top:50px;background:linear-gradient(90deg,#0000b0 0.5px,#0404b1 38.5px,#0f0fb5 49.5px,#2626bc 57.5px,#4545c6 63.5px,#a3a3e2 75.5px,#f9f9fd 86.5px,#fefcfc 87.5px,#e9b7b7 95.5px,#dd9292 101.5px,#d57979 108.5px,#d47474 114.5px,#d77e7e 120.5px,#e2a2a2 129.5px,#ecc2c2 135.5px)"></i>
<i style="top:51px;background:linear-gradient(90deg,#0000b0 0.5px,#0404b1 37.5px,#1212b5 49.5px,#2626bc 56.5px,#4c4cc8 63.5px,#ffffff 86.5px,#e7b3b3 95.5px,#db8b8b 102.5px,#d57777 108.5px,#d37171 113.5px,#d77d7d 120.5px,#e2a1a1 129.5px,#ecc1c1 135.5px)"></i>
<i style="top:52px;background:linear-gradient(90deg,#0000b0 0.5px,#0404b1 36.5px,#1212b6 48.5px,#2727bc 55.5px,#4545c5 61.5px,#9090dd 71.5px,#fcfcfe 85.5px,#fbf1f1 87.5px,#e8b6b6 94.5px,#dc8d8d 101.5px,#d47575 108.5px,#d36f6f 113.5px,#d67b7b 120.5px,#e2a0a0 129.5px,#ebc0c0 135.5px)"></i>
<i style="top:53px;background:linear-gradient(90deg,#0000b0 0.5px,#0404b1 34.5px,#1010b5 46.5px,#2727bc 54.5px,#4545c5 60.5px,#8787da 69.5px,#f9f9fd 84.5px,#fefcfc 85.5px,#e9b9b9 93.5px,#db8b8b 101.5px,#d37070 109.5px,#d26f6f 115.5px,#d88080 122.5px,#e9b9b9 134.5px,#ebbfbf 135.5px)"></i>
<i style="top:54px;background:linear-gradient(90deg,#0000b0 0.5px,#0404b1 33.5px,#1111b5 45.5px,#2424bb 52.5px,#4040c4 58.5px,#7777d5 66.5px,#fffefe 84.5px,#e8b5b5 93.5px,#da8989 101.5px,#d37070 108.5px,#d16c6c 114.5px,#d57878 120.5px,#e3a3a3 130.5px,#ebbebe 135.5px)"></i>
<i style="top:55px;background:linear-gradient(90deg,#0000b0 0.5px,#0505b2 33.5px,#1313b6 45.5px,#2c2cbe 53.5px,#5353ca 60.5px,#fefeff 83.5px,#e9b7b7 92.5px,#db8b8b 100.5px,#d26e6e 108.5px,#d16a6a 114.5px,#d57676 120.5px,#e19d9d 129.5px,#eabdbd 135.5px)"></i>
<i style="top:56px;background:linear-gradient(90deg,#0000b0 0.5px,#0505b2 32.5px,#1212b6 43.5px,#2929bd 51.5px,#4747c6 57.5px,#8686d9 66.5px,#fcfcfe 82.5px,#fdfafa 83.5px,#e9b9b9 91.5px,#dc8d8d 99.5px,#d26f6f 107.5px,#d06767 113.5px,#d37272 119.5px,#dd9292 127.5px,#eabbbb 135.5px)"></i>
<i style="top:57px;background:linear-gradient(90deg,#0000b0 0.5px,#0505b2 31.5px,#1414b6 43.5px,#2e2ebe 51.5px,#4d4dc8 57.5px,#fafafd 81.5px,#fefcfc 82.5px,#eabbbb 90.5px,#db8b8b 99.5px,#d26c6c 107.5px,#cf6565 113.5px,#d37070 119.5px,#db8c8c 126.5px,#eababa 135.5px)"></i>
<i style="top:58px;background:linear-gradient(90deg,#0000b0 0.5px,#0505b2 29.5px,#1313b6 41.5px,#2a2abd 49.5px,#4e4ec8 56.5px,#fffefe 81.5px,#ebbdbd 89.5px,#dc8d8d 98.5px,#d16a6a 107.5px,#cf6363 113.5px,#d26e6e 119.5px,#dc8f8f 127.5px,#e9b9b9 135.5px)"></i>
<i style="top:59px;background:linear-gradient(90deg,#0000b0 0.5px,#0606b2 29.5px,#1515b7 41.5px,#2f2fbe 49.5px,#5454ca 56.5px,#f7f7fc 79.5px,#ffffff 80.5px,#ebbfbf 88.5px,#de9494 96.5px,#d06868 107.5px,#ce6161 113.5px,#d16c6c 119.5px,#dc8d8d 127.5px,#e9b7b7 135.5px)"></i>
<i style="top:60px;background:linear-gradient(90deg,#0000b0 0.5px,#0606b2 28.5px,#1616b7 40.5px,#2f2fbf 48.5px,#5b5bcc 56.5px,#fdfdfe 79.5px,#faf0f0 81.5px,#eababa 88.5px,#d98484 99.5px,#d06666 107.5px,#cd5f5f 113.5px,#d16a6a 119.5px,#db8c8c 127.5px,#e8b6b6 135.5px)"></i>
<i style="top:61px;background:linear-gradient(90deg,#0000b0 0.5px,#0707b2 28.5px,#1616b7 39.5px,#3030bf 47.5px,#5b5bcc 55.5px,#fbfbfe 78.5px,#fefbfb 79.5px,#eabbbb 87.5px,#dc8f8f 96.5px,#d06767 106.5px,#cd5c5c 112.5px,#cf6565 118.5px,#d88080 125.5px,#e8b4b4 135.5px)"></i>
<i style="top:62px;background:linear-gradient(90deg,#0000b0 0.5px,#0707b2 27.5px,#1919b8 39.5px,#3535c0 47.5px,#6262ce 55.5px,#fafafd 77.5px,#fefcfc 78.5px,#edc3c3 85.5px,#e19d9d 92.5px,#cf6565 106.5px,#cc5a5a 112.5px,#cf6363 118.5px,#d57979 124.5px,#e7b3b3 135.5px)"></i>
<i style="top:63px;background:linear-gradient(90deg,#0000b0 0.5px,#0707b2 25.5px,#1717b7 37.5px,#3535c1 46.5px,#6262ce 54.5px,#fffefe 77.5px,#ebbebe 85.5px,#e19e9e 91.5px,#ce6262 106.5px,#cb5858 112.5px,#ce6060 118.5px,#d88080 126.5px,#e7b1b1 135.5px)"></i>
<i style="top:64px;background:linear-gradient(90deg,#0101b0 0.5px,#0707b2 24.5px,#1818b7 36.5px,#3232bf 44.5px,#5c5ccc 52.5px,#f6f6fc 75.5px,#fefeff 76.5px,#ebbfbf 84.5px,#e19f9f 90.5px,#cd5d5d 107.5px,#cb5656 113.5px,#ce6161 119.5px,#d77e7e 126.5px,#e6afaf 135.5px)"></i>
<i style="top:65px;background:linear-gradient(90deg,#0101b0 0.5px,#0707b2 22.5px,#1616b7 34.5px,#2e2ebe 42.5px,#5656cb 50.5px,#f4f4fc 74.5px,#fcfcfe 75.5px,#fbf1f1 77.5px,#e9b9b9 84.5px,#de9494 92.5px,#cc5b5b 107.5px,#ca5454 113.5px,#cd5e5e 119.5px,#d88080 127.5px,#e6adad 135.5px)"></i>
<i style="top:66px;background:linear-gradient(90deg,#0101b0 0.5px,#0808b2 22.5px,#1919b8 34.5px,#3333c0 42.5px,#5c5ccd 50.5px,#f3f3fb 73.5px,#fbfbfe 74.5px,#fefbfb 75.5px,#eababa 83.5px,#df9898 90.5px,#cc5b5b 106.5px,#c95151 112.5px,#cb5959 118.5px,#d47373 125.5px,#e5abab 135.5px)"></i>
<i style="top:67px;background:linear-gradient(90deg,#0101b0 0.5px,#0909b3 22.5px,#1a1ab8 33.5px,#3333c0 41.5px,#5c5ccd 49.5px,#f1f1fb 72.5px,#fefdfd 74.5px,#eabbbb 82.5px,#df9898 89.5px,#cb5656 107.5px,#c84f4f 113.5px,#cb5959 119.5px,#d47575 126.5px,#e4a9a9 135.5px)"></i>
<i style="top:68px;background:linear-gradient(90deg,#0101b0 0.5px,#0a0ab3 22.5px,#1c1cb9 33.5px,#3838c1 41.5px,#6f6fd2 51.5px,#efeffa 71.5px,#ffffff 73.5px,#eabcbc 81.5px,#e09c9c 87.5px,#ca5454 107.5px,#c84c4c 113.5px,#cb5656 119.5px,#d37272 126.5px,#e4a7a7 135.5px)"></i>
</div>
<div class="hm" style="left:202.90px;top:166.50px;width:135.60px;height:69.20px">
<i style="top:0px;background:linear-gradient(90deg,#f6f6fc 0.5px,#f6f6fc 39.5px,#f6f6fc 78.5px,#fefdfd 92.5px,#faeeee 105.5px,#fbf3f3 135.5px)"></i>
<i style="top:1px;background:linear-gradient(90deg,#f4f4fc 0.5px,#f4f4fc 39.5px,#f5f5fc 78.5px,#fefdfd 92.5px,#faf0f0 105.5px,#fbf3f3 135.5px)"></i>
<i style="top:2px;background:linear-gradient(90deg,#f3f3fb 0.5px,#f3f3fb 39.5px,#f4f4fc 78.5px,#fdfdfe 89.5px,#fefbfb 93.5px,#fbf2f2 104.5px,#fcf5f5 132.5px,#fbf3f3 135.5px)"></i>
<i style="top:3px;background:linear-gradient(90deg,#f1f1fb 0.5px,#f1f1fb 39.5px,#f3f3fb 78.5px,#fcfcfe 88.5px,#fefdfd 91.5px,#fbf2f2 102.5px,#fdf8f8 127.5px,#fbf4f4 135.5px)"></i>
<i style="top:4px;background:linear-gradient(90deg,#f0f0fa 0.5px,#f0f0fa 39.5px,#f1f1fb 78.5px,#fffefe 90.5px,#fbf2f2 100.5px,#fdfafa 125.5px,#fcf4f4 135.5px)"></i>
<i style="top:5px;background:linear-gradient(90deg,#eeeefa 0.5px,#eeeefa 39.5px,#f0f0fa 78.5px,#fdfdfe 88.5px,#fefdfd 90.5px,#fbf1f1 100.5px,#fefbfb 125.5px,#fcf4f4 135.5px)"></i>
<i style="top:6px;background:linear-gradient(90deg,#ededf9 0.5px,#ededf9 39.5px,#efeffa 78.5px,#fffefe 89.5px,#faf0f0 98.5px,#fdf7f7 112.5px,#fefcfc 126.5px,#fcf4f4 135.5px)"></i>
<i style="top:7px;background:linear-gradient(90deg,#ebebf9 0.5px,#ebebf9 39.5px,#eeeefa 78.5px,#fafafe 86.5px,#ffffff 88.5px,#faefef 97.5px,#fbf2f2 107.5px,#fefdfd 123.5px,#fcf4f4 135.5px)"></i>
<i style="top:8px;background:linear-gradient(90deg,#eaeaf8 0.5px,#eaeaf8 39.5px,#ececf9 76.5px,#f6f6fc 84.5px,#fefeff 87.5px,#f9eded 96.5px,#f9eded 104.5px,#fefdfd 122.5px,#fcf6f6 134.5px,#fcf4f4 135.5px)"></i>
<i style="top:9px;background:linear-gradient(90deg,#e8e8f8 0.5px,#e8e8f8 39.5px,#ebebf9 76.5px,#f7f7fd 84.5px,#fffefe 87.5px,#f9ebeb 95.5px,#f8e9e9 103.5px,#fefdfd 121.5px,#fdfafa 131.5px,#fbf4f4 135.5px)"></i>
<i style="top:10px;background:linear-gradient(90deg,#e7e7f7 0.5px,#e7e7f7 39.5px,#eaeaf9 76.5px,#f8f8fd 84.5px,#ffffff 86.5px,#f8e7e7 95.5px,#f7e5e5 102.5px,#fefcfc 121.5px,#fdfafa 131.5px,#fbf3f3 135.5px)"></i>
<i style="top:11px;background:linear-gradient(90deg,#e5e5f7 0.5px,#e5e5f7 39.5px,#e8e8f8 75.5px,#f6f6fc 83.5px,#fffdfd 86.5px,#f7e5e5 94.5px,#f5e0e0 100.5px,#fefcfc 122.5px,#fdf8f8 132.5px,#fbf3f3 135.5px)"></i>
<i style="top:12px;background:linear-gradient(90deg,#e4e4f7 0.5px,#e4e4f7 39.5px,#e7e7f8 75.5px,#f4f4fc 82.5px,#ffffff 85.5px,#f6e1e1 94.5px,#f4dbdb 100.5px,#fefbfb 122.5px,#fdf8f8 132.5px,#fbf3f3 135.5px)"></i>
<i style="top:13px;background:linear-gradient(90deg,#e2e2f6 0.5px,#e2e2f6 39.5px,#e5e5f7 73.5px,#f2f2fb 81.5px,#fdfdfe 84.5px,#fdf8f8 86.5px,#f4dcdc 94.5px,#f2d6d6 100.5px,#f9ecec 113.5px,#fefbfb 124.5px,#fcf6f6 133.5px,#fbf2f2 135.5px)"></i>
<i style="top:14px;background:linear-gradient(90deg,#e1e1f6 0.5px,#e1e1f6 39.5px,#e4e4f7 73.5px,#f0f0fa 80.5px,#ffffff 84.5px,#f3d9d9 93.5px,#f1d1d1 98.5px,#f3d8d8 105.5px,#fdf8f8 122.5px,#fdf8f8 131.5px,#fbf2f2 135.5px)"></i>
<i style="top:15px;background:linear-gradient(90deg,#dfdff5 0.5px,#dfdff5 39.5px,#e3e3f6 73.5px,#f1f1fb 80.5px,#fdfdfe 83.5px,#fdf7f7 85.5px,#f2d4d4 93.5px,#efcbcb 98.5px,#f1d2d2 105.5px,#fbf3f3 120.5px,#fdf9f9 129.5px,#fbf1f1 135.5px)"></i>
<i style="top:16px;background:linear-gradient(90deg,#dedef5 0.5px,#dedef5 39.5px,#e1e1f6 72.5px,#eeeefa 79.5px,#fffefe 83.5px,#f1d1d1 92.5px,#edc5c5 97.5px,#eec9c9 103.5px,#fbf2f2 121.5px,#fdf7f7 129.5px,#fbf1f1 135.5px)"></i>
<i style="top:17px;background:linear-gradient(90deg,#dbdbf4 0.5px,#dbdbf4 39.5px,#dfdff5 71.5px,#ebebf9 78.5px,#fdfdfe 82.5px,#fcf6f6 84.5px,#efcbcb 92.5px,#ebbfbf 97.5px,#ecc1c1 102.5px,#faefef 121.5px,#fcf6f6 129.5px,#faf0f0 135.5px)"></i>
<i style="top:18px;background:linear-gradient(90deg,#d8d8f3 0.5px,#d8d8f3 39.5px,#dbdbf4 70.5px,#e7e7f8 77.5px,#ffffff 82.5px,#edc5c5 92.5px,#e9b8b8 97.5px,#eabcbc 103.5px,#f9eded 121.5px,#fcf5f5 129.5px,#faefef 135.5px)"></i>
<i style="top:19px;background:linear-gradient(90deg,#d5d5f2 0.5px,#d5d5f2 39.5px,#d8d8f3 70.5px,#e6e6f7 77.5px,#fbfbfe 81.5px,#fefdfd 82.5px,#ecc3c3 91.5px,#e7b2b2 96.5px,#e8b3b3 102.5px,#f9ecec 122.5px,#fbf3f3 131.5px,#faefef 135.5px)"></i>
<i style="top:20px;background:linear-gradient(90deg,#d1d1f1 0.5px,#d1d1f1 39.5px,#d4d4f2 68.5px,#dfdff5 75.5px,#f6f6fc 80.5px,#fdfdfe 81.5px,#fbf3f3 83.5px,#eabcbc 91.5px,#e5aaaa 96.5px,#e5abab 101.5px,#edc4c4 110.5px,#f8e8e8 122.5px,#fbf2f2 130.5px,#faeeee 135.5px)"></i>
<i style="top:21px;background:linear-gradient(90deg,#cecef0 0.5px,#cecef0 39.5px,#d1d1f1 68.5px,#dadaf4 74.5px,#f1f1fb 79.5px,#ffffff 81.5px,#eabbbb 90.5px,#e4a8a8 94.5px,#e2a1a1 98.5px,#e5aaaa 104.5px,#f6e3e3 121.5px,#faf0f0 129.5px,#f9eded 135.5px)"></i>
<i style="top:22px;background:linear-gradient(90deg,#cacaef 0.5px,#cacaef 39.5px,#cecef0 68.5px,#d9d9f3 74.5px,#ececf9 78.5px,#fbfbfe 80.5px,#fefcfc 81.5px,#e8b4b4 90.5px,#e2a0a0 94.5px,#e09999 99.5px,#e3a6a6 105.5px,#f6e2e2 122.5px,#faeeee 130.5px,#f9ecec 135.5px)"></i>
<i style="top:23px;background:linear-gradient(90deg,#c7c7ee 0.5px,#c7c7ee 39.5px,#cacaef 67.5px,#d8d8f3 74.5px,#eeeefa 78.5px,#fdfdfe 80.5px,#faefef 82.5px,#e5adad 90.5px,#df9898 94.5px,#dd9191 98.5px,#e09c9c 104.5px,#f5dede 122.5px,#f9eded 130.5px,#f9ebeb 135.5px)"></i>
<i style="top:24px;background:linear-gradient(90deg,#c4c4ed 0.5px,#c4c4ed 39.5px,#c7c7ee 66.5px,#d0d0f1 72.5px,#e2e2f6 76.5px,#fefdfd 80.5px,#e5acac 89.5px,#de9494 93.5px,#db8a8a 97.5px,#dc8f8f 102.5px,#eabdbd 114.5px,#f5e0e0 124.5px,#f9ecec 132.5px,#f9eaea 135.5px)"></i>
<i style="top:25px;background:linear-gradient(90deg,#c0c0ec 0.5px,#c0c0ec 39.5px,#c4c4ed 66.5px,#cfcff0 72.5px,#e3e3f6 76.5px,#fbfbfe 79.5px,#fdfafa 80.5px,#e3a5a5 89.5px,#db8c8c 93.5px,#d88282 97.5px,#d98585 101.5px,#e3a5a5 110.5px,#f2d6d6 122.5px,#f8e9e9 130.5px,#f8e9e9 135.5px)"></i>
<i style="top:26px;background:linear-gradient(90deg,#bdbdeb 0.5px,#bdbdeb 39.5px,#c0c0ec 65.5px,#cacaef 71.5px,#ddddf5 75.5px,#ffffff 79.5px,#e19d9d 89.5px,#d98484 93.5px,#d67a7a 97.5px,#d98383 103.5px,#f2d6d6 123.5px,#f8e8e8 131.5px,#f8e9e9 135.5px)"></i>
<i style="top:27px;background:linear-gradient(90deg,#babae9 0.5px,#babae9 39.5px,#bdbdeb 65.5px,#c9c9ee 71.5px,#dedef5 75.5px,#f8f8fd 78.5px,#fefcfc 79.5px,#e19e9e 88.5px,#d88181 92.5px,#d47373 96.5px,#d57676 101.5px,#de9494 109.5px,#f1d2d2 123.5px,#f7e6e6 131.5px,#f8e8e8 135.5px)"></i>
<i style="top:28px;background:linear-gradient(90deg,#b6b6e8 0.5px,#b6b6e8 39.5px,#babaea 65.5px,#c8c8ee 71.5px,#e0e0f5 75.5px,#fcfcfe 78.5px,#fdf7f7 79.5px,#df9797 88.5px,#d57979 92.5px,#d16b6b 96.5px,#d26f6f 101.5px,#da8989 108.5px,#f0cece 123.5px,#f7e4e4 131.5px,#f7e7e7 135.5px)"></i>
<i style="top:29px;background:linear-gradient(90deg,#b3b3e7 0.5px,#b3b3e7 39.5px,#b6b6e8 63.5px,#bfbfeb 69.5px,#d2d2f1 73.5px,#fffefe 78.5px,#dc8f8f 88.5px,#d37171 92.5px,#cf6464 96.5px,#d06666 100.5px,#d67979 106.5px,#eecaca 123.5px,#f5e0e0 130.5px,#f7e6e6 135.5px)"></i>
<i style="top:30px;background:linear-gradient(90deg,#afafe6 0.5px,#afafe6 39.5px,#b3b3e7 63.5px,#bebeeb 69.5px,#d3d3f1 73.5px,#f9f9fd 77.5px,#fdfafa 78.5px,#dd9191 87.5px,#d36f6f 91.5px,#cd5e5e 95.5px,#cd5d5d 99.5px,#d26f6f 105.5px,#eecaca 124.5px,#f6e1e1 132.5px,#f7e5e5 135.5px)"></i>
<i style="top:31px;background:linear-gradient(90deg,#acace5 0.5px,#acace5 39.5px,#b0b0e7 63.5px,#b9b9e9 68.5px,#cdcdef 72.5px,#f2f2fb 76.5px,#fdfdfe 77.5px,#f8e9e9 79.5px,#de9494 86.5px,#d26f6f 90.5px,#cc5a5a 94.5px,#ca5656 98.5px,#cd5d5d 102.5px,#d88080 110.5px,#eecaca 125.5px,#f5dfdf 132.5px,#f7e4e4 135.5px)"></i>
<i style="top:32px;background:linear-gradient(90deg,#a9a9e4 0.5px,#a9a9e4 39.5px,#acace5 62.5px,#b8b8e9 68.5px,#cdcdf0 72.5px,#fefcfc 77.5px,#dc8d8d 86.5px,#d06868 90.5px,#ca5353 94.5px,#c94f4f 98.5px,#cd5e5e 104.5px,#dc8f8f 114.5px,#f0cece 127.5px,#f6e3e3 135.5px)"></i>
<i style="top:33px;background:linear-gradient(90deg,#a5a5e3 0.5px,#a5a5e3 39.5px,#a9a9e4 62.5px,#b6b6e8 68.5px,#cfcff0 72.5px,#fafafd 76.5px,#fdf8f8 77.5px,#da8686 86.5px,#ce6161 90.5px,#c84d4d 94.5px,#c74949 98.5px,#cb5858 104.5px,#e09999 117.5px,#efcaca 127.5px,#f6e2e2 135.5px)"></i>
<i style="top:34px;background:linear-gradient(90deg,#a1a1e2 0.5px,#a1a1e2 39.5px,#a5a5e3 61.5px,#b1b1e7 67.5px,#c7c7ee 71.5px,#f1f1fb 75.5px,#fefeff 76.5px,#db8b8b 85.5px,#ce6262 89.5px,#c74a4a 93.5px,#c54343 97.5px,#c74b4b 102.5px,#d47373 111.5px,#eec7c7 127.5px,#f6e1e1 135.5px)"></i>
<i style="top:35px;background:linear-gradient(90deg,#9d9de1 0.5px,#9d9de1 39.5px,#a0a0e2 60.5px,#aaaae5 66.5px,#bfbfeb 70.5px,#e8e8f8 74.5px,#f5f5fc 75.5px,#fefcfc 76.5px,#d98484 85.5px,#cd5c5c 89.5px,#c54545 93.5px,#c33e3e 97.5px,#c64646 102.5px,#d06969 110.5px,#eec8c8 128.5px,#f5e0e0 135.5px)"></i>
<i style="top:36px;background:linear-gradient(90deg,#9898df 0.5px,#9898df 39.5px,#9c9ce0 60.5px,#a8a8e4 66.5px,#b8b8e9 69.5px,#dfdff5 73.5px,#f9f9fd 75.5px,#fcf7f7 76.5px,#db8a8a 84.5px,#cd5f5f 88.5px,#c54444 92.5px,#c23939 96.5px,#c33f3f 101.5px,#cc5959 108.5px,#eec9c9 129.5px,#f5dfdf 135.5px)"></i>
<i style="top:37px;background:linear-gradient(90deg,#9393de 0.5px,#9393de 39.5px,#9797df 60.5px,#a5a5e3 66.5px,#c0c0eb 70.5px,#f0f0fa 74.5px,#fefeff 75.5px,#d98484 84.5px,#cc5a5a 88.5px,#c43f3f 92.5px,#c03535 96.5px,#c23a3a 101.5px,#ca5454 108.5px,#edc6c6 129.5px,#f5dede 135.5px)"></i>
<i style="top:38px;background:linear-gradient(90deg,#8f8fdc 0.5px,#8f8fdc 39.5px,#9393de 60.5px,#9f9fe1 65.5px,#afafe6 68.5px,#d8d8f3 72.5px,#f4f4fc 74.5px,#fefbfb 75.5px,#db8b8b 83.5px,#cd5d5d 87.5px,#c44040 91.5px,#c03232 95.5px,#c03434 100.5px,#c74b4b 107.5px,#dd9191 120.5px,#f1d1d1 132.5px,#f4dddd 135.5px)"></i>
<i style="top:39px;background:linear-gradient(90deg,#8a8adb 0.5px,#8a8adb 39.5px,#8e8edc 59.5px,#9c9ce0 65.5px,#b8b8e9 69.5px,#eaeaf8 73.5px,#f9f9fd 74.5px,#fcf6f6 75.5px,#d98585 83.5px,#cb5959 87.5px,#c33c3c 91.5px,#be2f2f 95.5px,#bf3030 100.5px,#c74b4b 108.5px,#e6afaf 126.5px,#f4dcdc 135.5px)"></i>
<i style="top:40px;background:linear-gradient(90deg,#8585d9 0.5px,#8585d9 39.5px,#8a8adb 59.5px,#9696de 64.5px,#afafe6 68.5px,#e0e0f5 72.5px,#fefeff 74.5px,#db8c8c 82.5px,#cd5e5e 86.5px,#c33e3e 90.5px,#be2d2d 94.5px,#bd2b2b 99.5px,#c33e3e 106.5px,#d57676 117.5px,#f1d1d1 133.5px,#f4dbdb 135.5px)"></i>
<i style="top:41px;background:linear-gradient(90deg,#8181d8 0.5px,#8181d8 39.5px,#8484d9 57.5px,#8f8fdc 63.5px,#a7a7e4 67.5px,#c7c7ee 70.5px,#f3f3fb 73.5px,#fefbfb 74.5px,#de9494 81.5px,#cf6363 85.5px,#c44141 89.5px,#be2d2d 93.5px,#bc2727 98.5px,#c03333 104.5px,#cc5b5b 113.5px,#f3dada 135.5px)"></i>
<i style="top:42px;background:linear-gradient(90deg,#7c7cd6 0.5px,#7c7cd6 39.5px,#8080d8 57.5px,#8989da 62.5px,#9e9ee1 66.5px,#bdbdeb 69.5px,#f8f8fd 73.5px,#fcf6f6 74.5px,#e09c9c 80.5px,#cd5f5f 85.5px,#c33d3d 89.5px,#bd2b2b 93.5px,#bb2525 97.5px,#bd2b2b 102.5px,#c54343 109.5px,#d98585 121.5px,#f3d9d9 135.5px)"></i>
<i style="top:43px;background:linear-gradient(90deg,#7777d5 0.5px,#7777d5 39.5px,#7c7cd6 57.5px,#8686da 62.5px,#9e9ee1 66.5px,#c0c0eb 69.5px,#fefeff 73.5px,#df9797 80.5px,#cc5b5b 85.5px,#c23b3b 89.5px,#bd2828 93.5px,#bb2222 98.5px,#bf3030 105.5px,#cb5858 114.5px,#f3d8d8 135.5px)"></i>
<i style="top:44px;background:linear-gradient(90deg,#7373d3 0.5px,#7373d4 39.5px,#7777d5 57.5px,#8888da 63.5px,#a9a9e4 67.5px,#e2e2f6 71.5px,#f3f3fb 72.5px,#fefbfb 73.5px,#e1a0a0 79.5px,#d26d6d 83.5px,#c64646 87.5px,#be2e2e 91.5px,#bb2222 95.5px,#bb2323 101.5px,#c13838 108.5px,#d16a6a 118.5px,#f3d7d7 135.5px)"></i>
<i style="top:45px;background:linear-gradient(90deg,#6e6ed2 0.5px,#6e6ed2 39.5px,#7373d4 57.5px,#8181d8 62.5px,#9696de 65.5px,#b8b8e9 68.5px,#f8f8fd 72.5px,#fcf5f5 73.5px,#e09a9a 79.5px,#cd5e5e 84.5px,#c33c3c 88.5px,#bb2525 93.5px,#b91e1e 98.5px,#bd2a2a 105.5px,#c95050 114.5px,#dd9292 125.5px,#f2d6d6 135.5px)"></i>
<i style="top:46px;background:linear-gradient(90deg,#6969d1 0.5px,#6969d1 39.5px,#6e6ed2 56.5px,#7a7ad6 61.5px,#8d8ddc 64.5px,#aeaee6 67.5px,#ededf9 71.5px,#fefeff 72.5px,#e3a3a3 78.5px,#cf6565 83.5px,#c44141 87.5px,#bd2a2a 91.5px,#b91e1e 96.5px,#ba2121 102.5px,#c23939 110.5px,#d26e6e 120.5px,#f0cece 134.5px,#f2d6d6 135.5px)"></i>
<i style="top:47px;background:linear-gradient(90deg,#6565cf 0.5px,#6565cf 39.5px,#6969d1 55.5px,#7474d4 60.5px,#8484d9 63.5px,#a3a3e2 66.5px,#e1e1f6 70.5px,#f2f2fb 71.5px,#fefafa 72.5px,#e19e9e 78.5px,#ce6262 83.5px,#c43f3f 87.5px,#bc2525 92.5px,#b81b1b 98.5px,#bc2525 105.5px,#c54444 113.5px,#d77d7d 123.5px,#f2d5d5 135.5px)"></i>
<i style="top:48px;background:linear-gradient(90deg,#6060ce 0.5px,#6060ce 39.5px,#6565cf 55.5px,#7171d3 60.5px,#8484d9 63.5px,#a6a6e3 66.5px,#e7e7f8 70.5px,#f8f8fd 71.5px,#fcf4f4 72.5px,#e09999 78.5px,#cd5e5e 83.5px,#c33d3d 87.5px,#bb2424 92.5px,#b81a1a 98.5px,#ba2121 104.5px,#c13737 111.5px,#d06666 120.5px,#e5acac 130.5px,#f2d4d4 135.5px)"></i>
<i style="top:49px;background:linear-gradient(90deg,#5c5ccc 0.5px,#5c5ccc 39.5px,#6161ce 55.5px,#6f6fd3 60.5px,#8484d9 63.5px,#a9a9e4 66.5px,#ffffff 71.5px,#e2a2a2 77.5px,#cf6666 82.5px,#c54242 86.5px,#bc2727 91.5px,#b81919 97.5px,#b91d1d 103.5px,#bf3030 110.5px,#cd5d5d 119.5px,#e09a9a 128.5px,#f1d3d3 135.5px)"></i>
<i style="top:50px;background:linear-gradient(90deg,#5858cb 0.5px,#5858cb 39.5px,#5d5dcd 54.5px,#6969d1 59.5px,#7c7cd6 62.5px,#9e9ee1 65.5px,#f3f3fb 70.5px,#fdf9f9 71.5px,#e5abab 76.5px,#d26d6d 81.5px,#c64848 85.5px,#bd2a2a 90.5px,#b81919 96.5px,#b81b1b 103.5px,#bf3131 111.5px,#ce5f5f 120.5px,#e19f9f 129.5px,#f1d3d3 135.5px)"></i>
<i style="top:51px;background:linear-gradient(90deg,#5454ca 0.5px,#5454ca 39.5px,#5858cb 53.5px,#6363cf 58.5px,#7474d4 61.5px,#9494de 64.5px,#d5d5f2 68.5px,#fafafd 70.5px,#fbf3f3 71.5px,#e8b4b4 75.5px,#d77f7f 79.5px,#cb5656 83.5px,#c03333 88.5px,#b91c1c 94.5px,#b71717 100.5px,#ba1f1f 106.5px,#c23c3c 114.5px,#d16969 122.5px,#e3a5a5 130.5px,#f1d2d2 135.5px)"></i>
<i style="top:52px;background:linear-gradient(90deg,#5050c9 0.5px,#5050c9 39.5px,#5555ca 53.5px,#6262ce 58.5px,#7575d4 61.5px,#9797df 64.5px,#fffefe 70.5px,#e6aeae 75.5px,#d37070 80.5px,#c33d3d 86.5px,#ba2121 92.5px,#b71616 98.5px,#b81b1b 105.5px,#c03434 113.5px,#ce5f5f 121.5px,#e3a3a3 130.5px,#f1d1d1 135.5px)"></i>
<i style="top:53px;background:linear-gradient(90deg,#4c4cc8 0.5px,#4d4dc8 39.5px,#5252c9 53.5px,#6060ce 58.5px,#7676d4 61.5px,#8d8ddc 63.5px,#d0d0f0 67.5px,#f5f5fc 69.5px,#fcf7f7 70.5px,#e9b7b7 74.5px,#d57878 79.5px,#c95151 83.5px,#bf3131 88.5px,#b91d1d 93.5px,#b61414 100.5px,#ba2020 108.5px,#c44040 116.5px,#d16a6a 123.5px,#e5aaaa 131.5px,#f1d1d1 135.5px)"></i>
<i style="top:54px;background:linear-gradient(90deg,#4949c7 0.5px,#4949c7 39.5px,#4f4fc8 53.5px,#5a5acc 57.5px,#6d6dd2 60.5px,#9191dd 63.5px,#c4c4ed 66.5px,#fcfcfe 69.5px,#f5dfdf 71.5px,#e3a4a4 75.5px,#d16969 80.5px,#c23a3a 86.5px,#b91c1c 93.5px,#b61313 100.5px,#b91e1e 108.5px,#c13838 115.5px,#d06767 123.5px,#e4a9a9 131.5px,#f1d0d0 135.5px)"></i>
<i style="top:55px;background:linear-gradient(90deg,#4545c5 0.5px,#4545c5 39.5px,#4c4cc8 53.5px,#5959cc 57.5px,#6e6ed2 60.5px,#9595de 63.5px,#dedef5 67.5px,#f1f1fb 68.5px,#fefbfb 69.5px,#eababa 73.5px,#d67a7a 78.5px,#c84d4d 83.5px,#be2e2e 88.5px,#b71717 95.5px,#b61212 101.5px,#ba1f1f 109.5px,#c23b3b 116.5px,#cf6565 123.5px,#e4a7a7 131.5px,#f0d0d0 135.5px)"></i>
<i style="top:56px;background:linear-gradient(90deg,#4141c4 0.5px,#4141c4 39.5px,#4747c6 52.5px,#5858cb 57.5px,#7070d3 60.5px,#9a9ae0 63.5px,#f8f8fd 68.5px,#fcf4f4 69.5px,#e8b4b4 73.5px,#d57676 78.5px,#c54343 84.5px,#bb2525 90.5px,#b61414 96.5px,#b61212 103.5px,#bb2323 111.5px,#c54343 118.5px,#d37272 125.5px,#e3a6a6 131.5px,#f0cfcf 135.5px)"></i>
<i style="top:57px;background:linear-gradient(90deg,#3d3dc3 0.5px,#3e3ec3 39.5px,#4343c5 51.5px,#5151c9 56.5px,#6767d0 59.5px,#8e8edc 62.5px,#d9d9f3 66.5px,#ffffff 68.5px,#eabdbd 72.5px,#da8888 76.5px,#cd5f5f 80.5px,#c23b3b 85.5px,#ba2020 91.5px,#b61212 97.5px,#b61212 104.5px,#ba2222 111.5px,#c44141 118.5px,#d37070 125.5px,#e6afaf 132.5px,#f0cfcf 135.5px)"></i>
<i style="top:58px;background:linear-gradient(90deg,#3a3ac2 0.5px,#3a3ac2 39.5px,#4040c4 51.5px,#4b4bc7 55.5px,#5f5fcd 58.5px,#8383d9 61.5px,#ccccef 65.5px,#f4f4fc 67.5px,#fdf7f7 68.5px,#e8b6b6 72.5px,#d57878 77.5px,#ca5353 81.5px,#be2f2f 87.5px,#b71616 94.5px,#b40f0f 101.5px,#b71717 108.5px,#c03434 116.5px,#d06666 124.5px,#e6aeae 132.5px,#f0cfcf 135.5px)"></i>
<i style="top:59px;background:linear-gradient(90deg,#3636c1 0.5px,#3636c1 39.5px,#3b3bc2 50.5px,#4a4ac7 55.5px,#6060ce 58.5px,#8787da 61.5px,#fcfcfe 67.5px,#faf0f0 68.5px,#e6b0b0 72.5px,#d77e7e 76.5px,#cb5858 80.5px,#bf3131 86.5px,#b71717 93.5px,#b40d0d 100.5px,#b61414 107.5px,#bc2626 113.5px,#c74949 120.5px,#da8686 128.5px,#ecc3c3 134.5px,#f0cfcf 135.5px)"></i>
<i style="top:60px;background:linear-gradient(90deg,#3232bf 0.5px,#3232c0 39.5px,#3838c1 50.5px,#4949c7 55.5px,#6161ce 58.5px,#8d8ddc 61.5px,#f0f0fa 66.5px,#fefbfb 67.5px,#e9b8b8 71.5px,#d98383 75.5px,#ca5454 80.5px,#bf2f2f 86.5px,#b61313 94.5px,#b40c0c 101.5px,#b61414 108.5px,#bf3131 116.5px,#cd5c5c 123.5px,#df9898 130.5px,#f0cece 135.5px)"></i>
<i style="top:61px;background:linear-gradient(90deg,#2e2ebe 0.5px,#2f2fbe 39.5px,#3535c1 50.5px,#4242c5 54.5px,#5858cb 57.5px,#8181d8 60.5px,#cfcff0 64.5px,#f8f8fd 66.5px,#fbf3f3 67.5px,#e7b1b1 71.5px,#d77e7e 75.5px,#cb5757 79.5px,#bf3131 85.5px,#b71616 92.5px,#b30a0a 100.5px,#b51111 107.5px,#bc2727 114.5px,#c84d4d 121.5px,#d98585 128.5px,#ecc3c3 134.5px,#f0cece 135.5px)"></i>
<i style="top:62px;background:linear-gradient(90deg,#2a2abd 0.5px,#2b2bbd 39.5px,#3131bf 49.5px,#3c3cc3 53.5px,#5050c9 56.5px,#7575d4 59.5px,#c2c2ec 63.5px,#ededf9 65.5px,#fefdfd 66.5px,#e9b8b8 70.5px,#d57777 75.5px,#c74b4b 80.5px,#bd2929 86.5px,#b50f0f 94.5px,#b30909 100.5px,#b50f0f 107.5px,#bc2626 114.5px,#c84d4d 121.5px,#d67b7b 127.5px,#ecc2c2 134.5px,#f0cece 135.5px)"></i>
<i style="top:63px;background:linear-gradient(90deg,#2727bc 0.5px,#2727bc 39.5px,#2e2ebe 49.5px,#3b3bc2 53.5px,#5151c9 56.5px,#7a7ad6 59.5px,#cbcbef 63.5px,#f5f5fc 65.5px,#fcf5f5 66.5px,#e7b1b1 70.5px,#d67c7c 74.5px,#c84d4d 79.5px,#bd2a2a 85.5px,#b50f0f 93.5px,#b20707 99.5px,#b40c0c 106.5px,#ba2121 113.5px,#c64646 120.5px,#d37272 126.5px,#e9b7b7 133.5px,#f0cece 135.5px)"></i>
<i style="top:64px;background:linear-gradient(90deg,#2323bb 0.5px,#2323bb 39.5px,#2b2bbd 49.5px,#3a3ac2 53.5px,#5353ca 56.5px,#8080d8 59.5px,#fefeff 65.5px,#e9b8b8 69.5px,#d88181 73.5px,#cb5757 77.5px,#bf3030 83.5px,#b61414 90.5px,#b20606 97.5px,#b20707 104.5px,#b91c1c 112.5px,#c43f3f 119.5px,#d16a6a 125.5px,#e5acac 132.5px,#f0cece 135.5px)"></i>
<i style="top:65px;background:linear-gradient(90deg,#1f1fba 0.5px,#2020ba 39.5px,#2626bc 48.5px,#3333c0 52.5px,#4a4ac7 55.5px,#6363cf 57.5px,#9b9be0 60.5px,#f3f3fb 64.5px,#fcf7f7 65.5px,#e6b0b0 69.5px,#d57979 73.5px,#c95151 77.5px,#bf3030 82.5px,#b51010 90.5px,#b10303 97.5px,#b20707 105.5px,#b91b1b 112.5px,#c43f3f 119.5px,#d47373 126.5px,#e9b7b7 133.5px,#f0cece 135.5px)"></i>
<i style="top:66px;background:linear-gradient(90deg,#1b1bb8 0.5px,#1c1cb9 39.5px,#2323bb 48.5px,#3232c0 52.5px,#4c4cc8 55.5px,#6868d0 57.5px,#a3a3e2 60.5px,#fcfcfe 64.5px,#e4a7a7 69.5px,#d37171 73.5px,#c74a4a 77.5px,#bd2a2a 82.5px,#b40c0c 90.5px,#b00000 97.5px,#b10404 104.5px,#b71717 111.5px,#c43f3f 119.5px,#d77c7c 127.5px,#f0cece 135.5px)"></i>
<i style="top:67px;background:linear-gradient(90deg,#1717b7 0.5px,#1818b8 39.5px,#2121ba 48.5px,#3232bf 52.5px,#4343c5 54.5px,#6d6dd2 57.5px,#acace5 60.5px,#f1f1fb 63.5px,#fdf8f8 64.5px,#e6adad 68.5px,#d47474 72.5px,#c74a4a 76.5px,#bd2929 81.5px,#b40d0d 88.5px,#b00000 94.5px,#b10202 104.5px,#b71616 111.5px,#c44040 119.5px,#d77d7d 127.5px,#f0cfcf 135.5px)"></i>
<i style="top:68px;background:linear-gradient(90deg,#1414b6 0.5px,#1515b6 39.5px,#1e1eb9 48.5px,#3232bf 52.5px,#4545c5 54.5px,#6161ce 56.5px,#9e9ee1 59.5px,#fbfbfe 63.5px,#faeded 64.5px,#e3a4a4 68.5px,#d16b6b 72.5px,#c44242 76.5px,#ba2222 81.5px,#b20707 88.5px,#b00000 92.5px,#b10202 105.5px,#ba1f1f 113.5px,#c84f4f 121.5px,#da8888 128.5px,#f0cfcf 135.5px)"></i>
</div><div class="hm" style="left:371.6px;top:48.6px;width:9.2px;height:69.2px;background:linear-gradient(180deg,#fde725 0.0px,#f6e620 1.0px,#ece51b 2.0px,#e2e418 3.0px,#dae319 4.0px,#d0e11c 5.0px,#c5e021 6.0px,#bddf26 7.0px,#b2dd2d 8.0px,#a8db34 9.0px,#9dd93b 10.0px,#95d840 11.0px,#8bd646 12.0px,#81d34d 13.0px,#7ad151 14.0px,#70cf57 15.0px,#67cc5c 16.0px,#5ec962 17.0px,#58c765 18.0px,#50c46a 19.0px,#48c16e 20.0px,#42be71 21.0px,#3bbb75 22.0px,#35b779 23.0px,#2fb47c 24.0px,#2cb17e 25.0px,#27ad81 26.0px,#24aa83 27.0px,#22a785 28.0px,#20a386 29.0px,#1fa088 30.0px,#1e9c89 31.0px,#1f998a 32.0px,#1f958b 33.0px,#20928c 34.0px,#218f8d 35.0px,#228b8d 36.0px,#24878e 37.0px,#25848e 38.0px,#26818e 39.0px,#287d8e 40.0px,#29798e 41.0px,#2a768e 42.0px,#2c728e 43.0px,#2e6f8e 44.0px,#2f6c8e 45.0px,#31688e 46.0px,#32648e 47.0px,#34608d 48.0px,#365d8d 49.0px,#38598c 50.0px,#3a548c 51.0px,#3b518b 52.0px,#3d4d8a 53.0px,#3f4889 54.0px,#414487 55.0px,#424086 56.0px,#443b84 57.0px,#453781 58.0px,#46337f 59.0px,#472e7c 60.0px,#482979 61.0px,#482475 62.0px,#482071 63.0px,#481b6d 64.0px,#481668 65.0px,#471164 66.0px,#460b5e 67.0px,#450559 68.0px,#440154 69.0px)"></div><div class="hm" style="left:370.9px;top:167.2px;width:9.9px;height:69.6px;background:linear-gradient(180deg,#b00000 0.0px,#b20707 1.0px,#b50f0f 2.0px,#b71616 3.0px,#b91d1d 4.0px,#bb2424 5.0px,#be2c2c 6.0px,#c03333 7.0px,#c23a3a 8.0px,#c44242 9.0px,#c74949 10.0px,#c95050 11.0px,#cb5757 12.0px,#cd5f5f 13.0px,#d06666 14.0px,#d26d6d 15.0px,#d47575 16.0px,#d67c7c 17.0px,#d98383 18.0px,#db8a8a 19.0px,#dd9292 20.0px,#df9999 21.0px,#e2a0a0 22.0px,#e4a8a8 23.0px,#e6afaf 24.0px,#e8b6b6 25.0px,#ebbdbd 26.0px,#edc5c5 27.0px,#efcccc 28.0px,#f1d3d3 29.0px,#f4dbdb 30.0px,#f6e2e2 31.0px,#f8e9e9 32.0px,#faf0f0 33.0px,#fdf8f8 34.0px,#ffffff 35.0px,#f8f8fd 36.0px,#f0f0fa 37.0px,#e9e9f8 38.0px,#e2e2f6 39.0px,#dbdbf4 40.0px,#d3d3f1 41.0px,#ccccef 42.0px,#c5c5ed 43.0px,#bdbdeb 44.0px,#b6b6e8 45.0px,#afafe6 46.0px,#a8a8e4 47.0px,#a0a0e2 48.0px,#9999df 49.0px,#9292dd 50.0px,#8a8adb 51.0px,#8383d9 52.0px,#7c7cd6 53.0px,#7575d4 54.0px,#6d6dd2 55.0px,#6666d0 56.0px,#5f5fcd 57.0px,#5757cb 58.0px,#5050c9 59.0px,#4949c7 60.0px,#4242c4 61.0px,#3a3ac2 62.0px,#3333c0 63.0px,#2c2cbe 64.0px,#2424bb 65.0px,#1d1db9 66.0px,#1616b7 67.0px,#0f0fb5 68.0px,#0707b2 69.0px,#0000b0 70.0px)"></div>
<svg class="ov" width="415" height="271" viewBox="0 0 415 271"><g fill="none" stroke="#fff" stroke-opacity="0.6" stroke-width="0.75">
<path d="M173.0 80.2 L173.0 79.2 L173.0 78.2 L173.0 77.2 L173.0 76.2 L173.0 75.2 L173.0 74.2 L173.0 73.2 L173.0 72.2 L173.0 71.2 L173.0 70.2 L173.0 69.2 L173.0 68.2 L172.9 67.2 L172.9 66.2 L172.9 65.2 L172.9 64.2 L172.9 63.2 L172.8 62.2 L172.8 61.2 L172.8 60.2 L172.7 59.2 L172.7 58.2 L172.6 57.2 L172.6 56.7 L172.5 55.7 L172.4 54.7 L172.3 53.7 L172.2 52.7 L172.1 52.2 L171.9 51.2 L171.7 50.2 L171.6 49.7 L171.3 48.7 L171.1 48.1 L170.8 47.2 L170.5 46.7 L170.1 45.9 L169.6 45.2 L169.2 44.7 L168.8 44.2 L168.3 43.7 L167.6 43.2 L167.1 42.9 L166.6 42.6 L165.9 42.2 L165.1 41.9 L164.6 41.7 L163.6 41.4 L162.8 41.2 L162.1 41.1 L161.1 40.9 L160.1 40.7 L159.6 40.7 L158.6 40.6 L157.6 40.5 L156.6 40.4 L155.6 40.4 L154.6 40.3 L153.6 40.3 L152.6 40.2 L151.8 40.2 L151.1 40.2 L150.1 40.1 L149.1 40.1 L148.1 40.1 L147.1 40.1 L146.1 40.1 L145.1 40.0 L144.1 40.0 L143.1 40.0 L142.1 40.0 L141.1 40.0 L140.1 40.0 L139.1 40.0 L138.1 40.0 L137.1 40.0 L136.1 40.0 L135.1 40.0 L134.1 40.0 L133.1 40.0 L132.1 40.0 L131.1 40.0 L130.1 40.0 L129.1 40.0 L128.1 40.0 L127.1 40.0 L126.1 40.0 L125.1 40.0 L124.1 40.0 L123.1 40.0 L122.1 40.0 L121.1 40.0 L120.1 40.0 L119.1 40.0 L118.1 40.0 L117.1 40.0 L116.1 40.0 L115.1 40.0 L114.1 40.0 L113.1 40.0 L112.1 40.0 L111.1 40.0 L110.1 39.9 L109.1 39.9 L108.1 39.9 L107.1 39.9 L106.1 39.9 L105.1 39.9 L104.1 39.9 L103.1 39.9 L102.1 39.9 L101.1 39.9 L100.1 39.9 L99.1 39.9 L98.1 39.9 L97.1 39.9 L96.1 39.9 L95.1 39.9 L94.1 39.9 L93.1 39.9 L92.1 39.9 L91.1 39.9 L90.1 39.9 L89.1 39.9 L88.1 39.9 L87.1 39.9 L86.1 39.9 L85.1 39.9 L84.1 39.9 L83.1 39.9 L82.1 39.9 L81.1 39.9 L80.1 39.9 L79.1 39.9 L78.1 39.9 L77.1 39.9 L76.1 39.9 L75.1 39.9 L74.1 39.9 L73.1 39.9 L72.1 39.9 L71.1 39.9 L70.1 39.9 L69.1 39.9 L68.1 39.9 L67.1 39.9 L66.1 39.9 L65.1 39.9 L64.1 39.9 L63.1 39.9 L62.1 39.9 L61.1 39.9 L60.1 39.9 L59.1 39.9 L58.1 39.9 L57.1 39.9 L56.1 39.9 L55.1 39.9 L54.1 39.9 L53.6 39.9"/>
<path d="M159.4 80.2 L159.4 79.2 L159.4 78.2 L159.4 77.2 L159.3 76.2 L159.3 75.2 L159.3 74.2 L159.2 73.2 L159.2 72.2 L159.1 71.2 L159.1 70.7 L159.0 69.7 L158.9 68.7 L158.8 67.7 L158.7 66.7 L158.6 66.2 L158.4 65.2 L158.2 64.2 L158.0 63.7 L157.7 62.7 L157.5 62.2 L157.1 61.4 L156.7 60.7 L156.4 60.2 L156.0 59.7 L155.6 59.2 L155.0 58.7 L154.4 58.2 L153.7 57.7 L153.1 57.3 L152.6 57.1 L151.7 56.7 L151.1 56.5 L150.3 56.2 L149.6 56.0 L148.6 55.8 L148.1 55.7 L147.1 55.5 L146.1 55.4 L145.1 55.2 L144.6 55.2 L143.6 55.1 L142.6 55.0 L141.6 54.9 L140.6 54.9 L139.6 54.8 L138.6 54.8 L137.6 54.7 L136.6 54.7 L136.0 54.7 L135.1 54.7 L134.1 54.7 L133.1 54.6 L132.1 54.6 L131.1 54.6 L130.1 54.6 L129.1 54.6 L128.1 54.6 L127.1 54.6 L126.1 54.5 L125.1 54.5 L124.1 54.5 L123.1 54.5 L122.1 54.5 L121.1 54.5 L120.1 54.5 L119.1 54.5 L118.1 54.5 L117.1 54.5 L116.1 54.5 L115.1 54.5 L114.1 54.5 L113.1 54.5 L112.1 54.5 L111.1 54.5 L110.1 54.5 L109.1 54.5 L108.1 54.5 L107.1 54.5 L106.1 54.5 L105.1 54.5 L104.1 54.5 L103.1 54.5 L102.1 54.5 L101.1 54.5 L100.1 54.5 L99.1 54.5 L98.1 54.5 L97.1 54.5 L96.1 54.5 L95.1 54.5 L94.1 54.5 L93.1 54.5 L92.1 54.5 L91.1 54.5 L90.1 54.5 L89.1 54.5 L88.1 54.5 L87.1 54.5 L86.1 54.5 L85.1 54.5 L84.1 54.5 L83.1 54.5 L82.1 54.5 L81.1 54.5 L80.1 54.5 L79.1 54.5 L78.1 54.5 L77.1 54.5 L76.1 54.5 L75.1 54.5 L74.1 54.5 L73.1 54.5 L72.1 54.5 L71.1 54.5 L70.1 54.5 L69.1 54.5 L68.1 54.5 L67.1 54.5 L66.1 54.5 L65.1 54.5 L64.1 54.5 L63.1 54.5 L62.1 54.5 L61.1 54.5 L60.1 54.5 L59.1 54.5 L58.1 54.5 L57.1 54.5 L56.1 54.5 L55.1 54.5 L54.1 54.5 L53.6 54.5"/>
<path d="M142.6 80.2 L142.3 79.2 L142.1 78.7 L141.7 77.7 L141.5 77.2 L141.1 76.3 L140.8 75.7 L140.5 75.2 L140.1 74.7 L139.6 74.1 L139.1 73.5 L138.6 73.0 L138.1 72.6 L137.5 72.2 L136.8 71.7 L136.1 71.3 L135.6 71.1 L134.7 70.7 L134.1 70.5 L133.2 70.2 L132.6 70.0 L131.6 69.8 L131.1 69.7 L130.1 69.5 L129.1 69.3 L128.5 69.2 L127.6 69.1 L126.6 69.0 L125.6 68.9 L124.6 68.8 L123.8 68.7 L123.1 68.7 L122.1 68.6 L121.1 68.5 L120.1 68.5 L119.1 68.5 L118.1 68.4 L117.1 68.4 L116.1 68.4 L115.1 68.3 L114.1 68.3 L113.1 68.3 L112.1 68.3 L111.1 68.3 L110.1 68.3 L109.1 68.2 L108.1 68.2 L107.1 68.2 L106.1 68.2 L105.1 68.2 L104.1 68.2 L103.1 68.2 L102.1 68.2 L101.1 68.2 L100.1 68.2 L99.1 68.2 L98.1 68.2 L97.1 68.2 L96.1 68.2 L95.1 68.2 L94.1 68.2 L93.1 68.2 L92.1 68.2 L91.1 68.2 L90.1 68.2 L89.1 68.2 L88.1 68.2 L87.1 68.2 L86.1 68.2 L85.1 68.2 L84.1 68.2 L83.1 68.2 L82.1 68.2 L81.1 68.2 L80.1 68.2 L79.1 68.2 L78.1 68.2 L77.1 68.2 L76.1 68.2 L75.1 68.2 L74.1 68.2 L73.1 68.2 L72.1 68.2 L71.1 68.2 L70.1 68.2 L69.1 68.2 L68.1 68.2 L67.1 68.2 L66.1 68.2 L65.1 68.2 L64.1 68.2 L63.1 68.2 L62.1 68.2 L61.1 68.2 L60.1 68.2 L59.1 68.2 L58.1 68.2 L57.1 68.2 L56.1 68.2 L55.1 68.2 L54.1 68.2 L53.6 68.2"/>
<path d="M324.5 80.2 L324.5 79.2 L324.5 78.2 L324.5 77.2 L324.5 76.2 L324.5 75.2 L324.5 74.2 L324.5 73.2 L324.5 72.2 L324.5 71.2 L324.5 70.2 L324.5 69.2 L324.5 68.2 L324.4 67.2 L324.4 66.2 L324.4 65.2 L324.4 64.2 L324.4 63.4 L324.4 62.7 L324.4 61.7 L324.3 60.7 L324.3 59.7 L324.3 58.7 L324.2 57.7 L324.2 56.7 L324.1 55.7 L324.0 54.7 L324.0 53.7 L323.9 53.1 L323.8 52.2 L323.7 51.2 L323.5 50.2 L323.4 49.7 L323.2 48.7 L322.9 47.7 L322.8 47.2 L322.4 46.2 L322.2 45.7 L321.9 45.1 L321.4 44.2 L321.0 43.7 L320.6 43.2 L320.1 42.7 L319.6 42.2 L318.9 41.7 L318.4 41.4 L317.9 41.1 L317.0 40.7 L316.4 40.5 L315.6 40.2 L314.9 40.0 L313.9 39.8 L313.4 39.7 L312.4 39.5 L311.4 39.3 L310.4 39.2 L309.9 39.2 L308.9 39.1 L307.9 39.0 L306.9 39.0 L305.9 38.9 L304.9 38.9 L303.9 38.8 L302.9 38.8 L301.9 38.8 L300.9 38.8 L299.9 38.7 L298.9 38.7 L298.1 38.7 L297.4 38.7 L296.4 38.7 L295.4 38.7 L294.4 38.6 L293.4 38.6 L292.4 38.6 L291.4 38.6 L290.4 38.6 L289.4 38.6 L288.4 38.6 L287.4 38.6 L286.4 38.6 L285.4 38.6 L284.4 38.6 L283.4 38.6 L282.4 38.6 L281.4 38.6 L280.4 38.6 L279.4 38.6 L278.4 38.6 L277.4 38.6 L276.4 38.6 L275.4 38.6 L274.4 38.6 L273.4 38.6 L272.4 38.6 L271.4 38.6 L270.4 38.6 L269.4 38.6 L268.4 38.6 L267.4 38.6 L266.4 38.6 L265.4 38.6 L264.4 38.6 L263.4 38.6 L262.4 38.6 L261.4 38.6 L260.4 38.6 L259.4 38.6 L258.4 38.6 L257.4 38.6 L256.4 38.6 L255.4 38.6 L254.4 38.6 L253.4 38.6 L252.4 38.6 L251.4 38.6 L250.4 38.6 L249.4 38.6 L248.4 38.6 L247.4 38.6 L246.4 38.6 L245.4 38.6 L244.4 38.6 L243.4 38.6 L242.4 38.6 L241.4 38.6 L240.4 38.6 L239.4 38.6 L238.4 38.6 L237.4 38.6 L236.4 38.6 L235.4 38.6 L234.4 38.6 L233.4 38.6 L232.4 38.6 L231.4 38.6 L230.4 38.6 L229.4 38.6 L228.4 38.6 L227.4 38.6 L226.4 38.6 L225.4 38.6 L224.4 38.6 L223.4 38.6 L222.4 38.6 L221.4 38.6 L220.4 38.6 L219.4 38.6 L218.4 38.6 L217.4 38.6 L216.4 38.6 L215.4 38.6 L214.4 38.6 L213.4 38.6 L212.4 38.6 L211.4 38.6 L210.4 38.6 L209.4 38.6 L208.4 38.6 L207.4 38.6 L206.4 38.6 L205.4 38.6 L204.4 38.6 L203.4 38.6 L202.9 38.6"/>
<path d="M310.5 80.2 L310.5 79.2 L310.4 78.2 L310.4 77.2 L310.4 76.2 L310.4 75.7 L310.4 74.7 L310.3 73.7 L310.3 72.7 L310.3 71.7 L310.2 70.7 L310.1 69.7 L310.1 68.7 L310.0 67.7 L309.9 66.7 L309.9 66.2 L309.7 65.2 L309.5 64.2 L309.4 63.5 L309.2 62.7 L308.9 61.7 L308.7 61.2 L308.4 60.4 L308.1 59.7 L307.8 59.2 L307.4 58.6 L306.9 57.9 L306.4 57.4 L305.9 56.9 L305.4 56.5 L304.9 56.1 L304.2 55.7 L303.4 55.3 L302.9 55.1 L301.9 54.7 L301.4 54.6 L300.4 54.3 L299.9 54.2 L298.9 54.0 L297.9 53.8 L297.3 53.7 L296.4 53.6 L295.4 53.5 L294.4 53.4 L293.4 53.3 L292.4 53.2 L291.9 53.2 L290.9 53.1 L289.9 53.1 L288.9 53.1 L287.9 53.0 L286.9 53.0 L285.9 53.0 L284.9 52.9 L283.9 52.9 L282.9 52.9 L281.9 52.9 L280.9 52.9 L279.9 52.9 L278.9 52.9 L277.9 52.8 L276.9 52.8 L275.9 52.8 L274.9 52.8 L273.9 52.8 L272.9 52.8 L271.9 52.8 L270.9 52.8 L269.9 52.8 L268.9 52.8 L267.9 52.8 L266.9 52.8 L265.9 52.8 L264.9 52.8 L263.9 52.8 L262.9 52.8 L261.9 52.8 L260.9 52.8 L259.9 52.8 L258.9 52.8 L257.9 52.8 L256.9 52.8 L255.9 52.8 L254.9 52.8 L253.9 52.8 L252.9 52.8 L251.9 52.8 L250.9 52.8 L249.9 52.8 L248.9 52.8 L247.9 52.8 L246.9 52.8 L245.9 52.8 L244.9 52.8 L243.9 52.8 L242.9 52.8 L241.9 52.8 L240.9 52.8 L239.9 52.8 L238.9 52.8 L237.9 52.8 L236.9 52.8 L235.9 52.8 L234.9 52.8 L233.9 52.8 L232.9 52.8 L231.9 52.8 L230.9 52.8 L229.9 52.8 L228.9 52.8 L227.9 52.8 L226.9 52.8 L225.9 52.8 L224.9 52.8 L223.9 52.8 L222.9 52.8 L221.9 52.8 L220.9 52.8 L219.9 52.8 L218.9 52.8 L217.9 52.8 L216.9 52.8 L215.9 52.8 L214.9 52.8 L213.9 52.8 L212.9 52.8 L211.9 52.8 L210.9 52.8 L209.9 52.8 L208.9 52.8 L207.9 52.8 L206.9 52.8 L205.9 52.8 L204.9 52.8 L203.9 52.8 L202.9 52.8"/>
<path d="M293.6 80.2 L293.4 79.2 L293.3 78.7 L293.1 77.7 L292.9 77.1 L292.6 76.2 L292.4 75.6 L292.0 74.7 L291.8 74.2 L291.4 73.5 L290.9 72.7 L290.5 72.2 L290.1 71.7 L289.6 71.2 L289.1 70.7 L288.4 70.2 L287.9 69.8 L287.4 69.5 L286.8 69.2 L285.9 68.8 L285.4 68.6 L284.4 68.2 L283.9 68.1 L282.9 67.8 L282.4 67.7 L281.4 67.5 L280.4 67.3 L279.5 67.2 L278.9 67.1 L277.9 67.0 L276.9 66.9 L275.9 66.8 L274.9 66.7 L274.1 66.7 L273.4 66.7 L272.4 66.6 L271.4 66.6 L270.4 66.5 L269.4 66.5 L268.4 66.5 L267.4 66.5 L266.4 66.4 L265.4 66.4 L264.4 66.4 L263.4 66.4 L262.4 66.4 L261.4 66.4 L260.4 66.3 L259.4 66.3 L258.4 66.3 L257.4 66.3 L256.4 66.3 L255.4 66.3 L254.4 66.3 L253.4 66.3 L252.4 66.3 L251.4 66.3 L250.4 66.3 L249.4 66.3 L248.4 66.3 L247.4 66.3 L246.4 66.3 L245.4 66.3 L244.4 66.3 L243.4 66.3 L242.4 66.3 L241.4 66.3 L240.4 66.3 L239.4 66.3 L238.4 66.3 L237.4 66.3 L236.4 66.3 L235.4 66.3 L234.4 66.3 L233.4 66.3 L232.4 66.3 L231.4 66.3 L230.4 66.3 L229.4 66.3 L228.4 66.3 L227.4 66.3 L226.4 66.3 L225.4 66.3 L224.4 66.3 L223.4 66.3 L222.4 66.3 L221.4 66.3 L220.4 66.3 L219.4 66.3 L218.4 66.3 L217.4 66.3 L216.4 66.3 L215.4 66.3 L214.4 66.3 L213.4 66.3 L212.4 66.3 L211.4 66.3 L210.4 66.3 L209.4 66.3 L208.4 66.3 L207.4 66.3 L206.4 66.3 L205.4 66.3 L204.4 66.3 L203.4 66.3 L202.9 66.3"/>
<path d="M156.3 157.8 L156.3 156.8 L156.3 155.8 L156.3 154.8 L156.3 153.8 L156.3 152.8 L156.3 151.8 L156.3 150.8 L156.3 149.8 L156.3 148.8 L156.3 147.8 L156.3 146.8 L156.3 145.8 L156.3 144.8 L156.3 143.8 L156.3 142.8 L156.3 141.8 L156.3 140.8 L156.3 139.8 L156.3 138.8 L156.3 137.8 L156.3 136.8 L156.3 135.8 L156.3 134.8 L156.3 133.8 L156.3 132.8 L156.3 131.8 L156.3 130.8 L156.3 129.8 L156.3 128.8 L156.2 127.8 L156.2 126.8 L156.2 125.8 L156.2 124.8 L156.2 123.8 L156.2 122.8 L156.2 121.8 L156.2 120.8 L156.2 119.8 L156.2 118.8 L156.2 117.8 L156.2 116.8 L156.2 115.8 L156.1 114.8 L156.1 113.8 L156.1 112.8 L156.1 111.8 L156.1 111.3 L156.0 110.3 L156.0 109.3 L156.0 108.3 L155.9 107.3 L155.8 106.3 L155.7 105.3 L155.6 104.3 L155.6 103.8 L155.5 102.8 L155.3 101.8 L155.1 100.8 L155.0 100.3 L154.8 99.3 L154.6 98.8 L154.2 97.8 L154.0 97.3 L153.6 96.6 L153.1 95.8 L152.7 95.3 L152.2 94.8 L151.7 94.3 L151.1 93.9 L150.6 93.5 L150.1 93.3 L149.1 92.8 L148.6 92.6 L147.8 92.3 L147.1 92.1 L146.1 91.8 L145.6 91.7 L144.6 91.6 L143.6 91.4 L142.7 91.3 L142.1 91.2 L141.1 91.1 L140.1 91.1 L139.1 91.0 L138.1 90.9 L137.1 90.9 L136.1 90.8 L135.1 90.8 L134.6 90.8 L133.6 90.8 L132.6 90.7 L131.6 90.7 L130.6 90.7 L129.6 90.7 L128.6 90.7 L127.6 90.7 L126.6 90.7 L125.6 90.6 L124.6 90.6 L123.6 90.6 L122.6 90.6 L121.6 90.6 L120.6 90.6 L119.6 90.6 L118.6 90.6 L117.6 90.6 L116.6 90.6 L115.6 90.6 L114.6 90.6 L113.6 90.6 L112.6 90.6 L111.6 90.6 L110.6 90.6 L109.6 90.6 L108.6 90.6 L107.6 90.6 L106.6 90.6 L105.6 90.6 L104.6 90.6 L103.6 90.6 L102.6 90.6 L101.6 90.6 L100.6 90.6 L99.6 90.6 L98.6 90.6 L97.6 90.6 L96.6 90.6 L95.6 90.6 L94.6 90.6 L93.6 90.6 L92.6 90.6 L91.6 90.6 L90.6 90.6 L89.6 90.6 L88.6 90.6 L87.6 90.6 L86.6 90.6 L85.6 90.6 L84.6 90.6 L83.6 90.6 L82.6 90.6 L81.6 90.6 L80.6 90.6 L79.6 90.6 L78.6 90.6 L77.6 90.6 L76.6 90.6 L75.6 90.6 L74.6 90.6 L73.6 90.6 L72.6 90.6 L71.6 90.6 L70.6 90.6 L69.6 90.6 L68.6 90.6 L67.6 90.6 L66.6 90.6 L65.6 90.6 L64.6 90.6 L63.6 90.6 L62.6 90.6 L61.6 90.6 L60.6 90.6 L59.6 90.6 L58.6 90.6 L57.6 90.6 L56.6 90.6 L55.6 90.6 L54.6 90.6 L53.6 90.6"/>
<path d="M145.5 157.8 L145.5 156.8 L145.5 155.8 L145.5 154.8 L145.5 153.8 L145.5 152.8 L145.5 151.8 L145.5 150.8 L145.5 149.8 L145.5 148.8 L145.5 147.8 L145.5 146.8 L145.5 145.8 L145.5 144.8 L145.5 143.8 L145.4 142.8 L145.4 141.8 L145.4 140.8 L145.4 139.8 L145.4 138.8 L145.4 137.8 L145.4 136.8 L145.4 135.8 L145.4 134.8 L145.3 133.8 L145.3 132.8 L145.3 131.8 L145.3 130.8 L145.3 129.8 L145.2 128.8 L145.2 127.8 L145.2 126.8 L145.2 125.8 L145.1 124.8 L145.1 123.8 L145.1 123.3 L145.0 122.3 L145.0 121.3 L144.9 120.3 L144.9 119.3 L144.8 118.3 L144.8 117.3 L144.7 116.3 L144.6 115.3 L144.6 114.8 L144.5 113.8 L144.4 112.8 L144.3 111.8 L144.1 111.0 L143.9 110.3 L143.6 109.3 L143.4 108.8 L143.1 108.0 L142.8 107.3 L142.5 106.8 L142.1 106.2 L141.6 105.6 L141.1 105.0 L140.6 104.5 L140.1 104.1 L139.6 103.8 L138.8 103.3 L138.1 102.9 L137.6 102.7 L136.6 102.3 L136.1 102.2 L135.1 101.9 L134.6 101.8 L133.6 101.6 L132.6 101.5 L131.6 101.3 L131.1 101.3 L130.1 101.2 L129.1 101.1 L128.1 101.0 L127.1 101.0 L126.1 100.9 L125.1 100.9 L124.1 100.8 L123.6 100.8 L122.6 100.8 L121.6 100.7 L120.6 100.7 L119.6 100.7 L118.6 100.7 L117.6 100.6 L116.6 100.6 L115.6 100.6 L114.6 100.6 L113.6 100.6 L112.6 100.6 L111.6 100.6 L110.6 100.6 L109.6 100.6 L108.6 100.6 L107.6 100.6 L106.6 100.5 L105.6 100.5 L104.6 100.5 L103.6 100.5 L102.6 100.5 L101.6 100.5 L100.6 100.5 L99.6 100.5 L98.6 100.5 L97.6 100.5 L96.6 100.5 L95.6 100.5 L94.6 100.5 L93.6 100.5 L92.6 100.5 L91.6 100.5 L90.6 100.5 L89.6 100.5 L88.6 100.5 L87.6 100.5 L86.6 100.5 L85.6 100.5 L84.6 100.5 L83.6 100.5 L82.6 100.5 L81.6 100.5 L80.6 100.5 L79.6 100.5 L78.6 100.5 L77.6 100.5 L76.6 100.5 L75.6 100.5 L74.6 100.5 L73.6 100.5 L72.6 100.5 L71.6 100.5 L70.6 100.5 L69.6 100.5 L68.6 100.5 L67.6 100.5 L66.6 100.5 L65.6 100.5 L64.6 100.5 L63.6 100.5 L62.6 100.5 L61.6 100.5 L60.6 100.5 L59.6 100.5 L58.6 100.5 L57.6 100.5 L56.6 100.5 L55.6 100.5 L54.6 100.5 L53.6 100.5"/>
<path d="M134.4 157.8 L134.4 156.8 L134.4 155.8 L134.4 154.8 L134.4 153.8 L134.4 152.8 L134.4 151.8 L134.3 150.8 L134.3 149.8 L134.3 148.8 L134.3 147.8 L134.3 146.8 L134.2 145.8 L134.2 144.8 L134.2 143.8 L134.1 142.8 L134.1 142.1 L134.1 141.3 L134.0 140.3 L133.9 139.3 L133.9 138.3 L133.8 137.3 L133.7 136.3 L133.6 135.4 L133.5 134.8 L133.4 133.8 L133.3 132.8 L133.1 131.9 L133.0 131.3 L132.8 130.3 L132.7 129.3 L132.6 128.8 L132.4 127.8 L132.1 126.8 L132.0 126.3 L131.7 125.3 L131.6 124.8 L131.2 123.8 L131.0 123.3 L130.6 122.3 L130.4 121.8 L130.1 121.2 L129.6 120.3 L129.3 119.8 L128.9 119.3 L128.5 118.8 L128.1 118.3 L127.6 117.7 L127.1 117.2 L126.6 116.8 L125.9 116.3 L125.2 115.8 L124.6 115.4 L124.1 115.2 L123.3 114.8 L122.6 114.5 L122.1 114.3 L121.1 113.9 L120.6 113.8 L119.6 113.5 L118.6 113.3 L118.1 113.2 L117.1 113.0 L116.1 112.9 L115.6 112.8 L114.6 112.7 L113.6 112.6 L112.6 112.5 L111.6 112.4 L110.7 112.3 L110.1 112.3 L109.1 112.2 L108.1 112.1 L107.1 112.1 L106.1 112.0 L105.1 112.0 L104.1 112.0 L103.1 111.9 L102.1 111.9 L101.1 111.9 L100.1 111.9 L99.1 111.8 L98.1 111.8 L97.1 111.8 L96.1 111.8 L95.6 111.8 L94.6 111.8 L93.6 111.8 L92.6 111.8 L91.6 111.8 L90.6 111.8 L89.6 111.8 L88.6 111.7 L87.6 111.7 L86.6 111.7 L85.6 111.7 L84.6 111.7 L83.6 111.7 L82.6 111.7 L81.6 111.7 L80.6 111.7 L79.6 111.7 L78.6 111.7 L77.6 111.7 L76.6 111.7 L75.6 111.7 L74.6 111.7 L73.6 111.7 L72.6 111.7 L71.6 111.7 L70.6 111.7 L69.6 111.7 L68.6 111.7 L67.6 111.7 L66.6 111.7 L65.6 111.7 L64.6 111.7 L63.6 111.7 L62.6 111.7 L61.6 111.7 L60.6 111.7 L59.6 111.7 L58.6 111.7 L57.6 111.7 L56.6 111.7 L55.6 111.7 L54.6 111.7 L53.6 111.7"/>
<path d="M120.6 157.8 L120.6 157.0 L120.6 156.3 L120.5 155.3 L120.4 154.3 L120.4 153.3 L120.3 152.3 L120.2 151.3 L120.1 150.6 L120.0 149.8 L119.9 148.8 L119.7 147.8 L119.6 147.2 L119.4 146.3 L119.2 145.3 L119.1 144.8 L118.8 143.8 L118.6 143.1 L118.3 142.3 L118.1 141.7 L117.7 140.8 L117.5 140.3 L117.1 139.6 L116.6 138.8 L116.2 138.3 L115.8 137.8 L115.4 137.3 L114.9 136.8 L114.3 136.3 L113.7 135.8 L113.1 135.4 L112.6 135.1 L112.1 134.8 L111.1 134.3 L110.6 134.1 L109.8 133.8 L109.1 133.6 L108.3 133.3 L107.6 133.1 L106.6 132.9 L106.1 132.8 L105.1 132.6 L104.1 132.4 L103.3 132.3 L102.6 132.2 L101.6 132.1 L100.6 132.0 L99.6 131.9 L98.6 131.8 L98.1 131.8 L97.1 131.7 L96.1 131.7 L95.1 131.6 L94.1 131.6 L93.1 131.5 L92.1 131.5 L91.1 131.4 L90.1 131.3 L89.6 131.3 L88.6 131.2 L87.6 131.2 L86.6 131.2 L85.6 131.2 L84.6 131.2 L83.6 131.2 L82.6 131.2 L81.6 131.2 L80.6 131.2 L79.6 131.2 L78.6 131.2 L77.6 131.2 L76.6 131.2 L75.6 131.2 L74.6 131.2 L73.6 131.2 L72.6 131.2 L71.6 131.2 L70.6 131.2 L69.6 131.2 L68.6 131.2 L67.6 131.2 L66.6 131.2 L65.6 131.2 L64.6 131.2 L63.6 131.2 L62.6 131.2 L61.6 131.2 L60.6 131.2 L59.6 131.2 L58.6 131.2 L57.6 131.2 L56.6 131.2 L55.6 131.2 L54.6 131.2 L53.6 131.2"/>
<path d="M104.3 157.8 L104.1 157.3 L103.7 156.3 L103.5 155.8 L103.1 155.0 L102.7 154.3 L102.4 153.8 L102.1 153.3 L101.6 152.7 L101.1 152.1 L100.6 151.6 L100.1 151.2 L99.6 150.8 L99.0 150.3 L98.2 149.8 L97.6 149.5 L97.1 149.3 L96.1 148.8 L95.6 148.6 L94.6 148.3 L94.1 148.1 L93.1 147.9 L92.6 147.8 L91.6 147.3 L91.1 147.0 L90.5 146.8 L89.6 146.5 L88.6 146.3 L88.1 146.3 L87.1 146.2 L86.1 146.1 L85.1 146.1 L84.1 146.0 L83.1 146.0 L82.1 146.0 L81.1 146.0 L80.1 146.0 L79.1 146.0 L78.1 146.0 L77.1 146.0 L76.1 146.0 L75.1 146.0 L74.1 146.0 L73.1 146.0 L72.1 146.0 L71.1 146.0 L70.1 146.0 L69.1 146.0 L68.1 146.0 L67.1 146.0 L66.1 146.0 L65.1 146.0 L64.1 146.0 L63.1 146.0 L62.1 146.0 L61.1 146.0 L60.1 146.0 L59.1 146.0 L58.1 146.0 L57.1 146.0 L56.1 146.0 L55.1 146.0 L54.1 146.0 L53.6 146.0"/>
<path d="M288.3 157.8 L288.3 156.8 L288.3 155.8 L288.3 154.8 L288.3 153.8 L288.3 152.8 L288.3 151.8 L288.2 150.8 L288.2 149.8 L288.2 148.8 L288.2 147.8 L288.2 146.8 L288.2 145.8 L288.2 144.8 L288.2 143.8 L288.2 142.8 L288.2 141.8 L288.2 140.8 L288.1 139.8 L288.1 138.8 L288.1 137.8 L288.1 136.8 L288.0 135.8 L288.0 134.8 L288.0 133.8 L287.9 132.8 L287.9 132.1 L287.9 131.3 L287.8 130.3 L287.8 129.3 L287.7 128.3 L287.7 127.3 L287.6 126.3 L287.5 125.3 L287.4 124.3 L287.4 123.8 L287.3 122.8 L287.1 121.8 L287.0 120.8 L286.9 120.3 L286.7 119.3 L286.5 118.3 L286.4 117.8 L286.1 116.8 L285.9 116.2 L285.5 115.3 L285.3 114.8 L284.9 114.1 L284.4 113.3 L284.0 112.8 L283.6 112.3 L283.0 111.8 L282.4 111.3 L281.9 111.0 L281.4 110.8 L280.4 110.4 L279.9 110.2 L278.9 109.9 L278.4 109.8 L277.4 109.6 L276.4 109.4 L275.9 109.3 L274.9 109.1 L273.9 109.0 L272.9 108.9 L271.9 108.8 L271.4 108.8 L270.4 108.7 L269.4 108.7 L268.4 108.6 L267.4 108.6 L266.4 108.5 L265.4 108.5 L264.4 108.5 L263.4 108.4 L262.4 108.4 L261.4 108.4 L260.4 108.4 L259.4 108.3 L258.4 108.3 L257.4 108.3 L256.4 108.3 L255.8 108.3 L254.9 108.3 L253.9 108.3 L252.9 108.3 L251.9 108.3 L250.9 108.2 L249.9 108.2 L248.9 108.2 L247.9 108.2 L246.9 108.2 L245.9 108.2 L244.9 108.2 L243.9 108.2 L242.9 108.2 L241.9 108.2 L240.9 108.2 L239.9 108.2 L238.9 108.2 L237.9 108.2 L236.9 108.2 L235.9 108.2 L234.9 108.2 L233.9 108.2 L232.9 108.2 L231.9 108.2 L230.9 108.2 L229.9 108.2 L228.9 108.2 L227.9 108.2 L226.9 108.2 L225.9 108.2 L224.9 108.2 L223.9 108.2 L222.9 108.2 L221.9 108.2 L220.9 108.2 L219.9 108.2 L218.9 108.2 L217.9 108.2 L216.9 108.2 L215.9 108.2 L214.9 108.2 L213.9 108.2 L212.9 108.2 L211.9 108.2 L210.9 108.2 L209.9 108.2 L208.9 108.2 L207.9 108.2 L206.9 108.2 L205.9 108.2 L204.9 108.2 L203.9 108.2 L202.9 108.2"/>
<path d="M282.2 157.8 L282.2 156.8 L282.2 155.8 L282.2 154.8 L282.2 153.8 L282.2 152.8 L282.2 151.8 L282.1 150.8 L282.1 149.8 L282.1 148.8 L282.1 147.8 L282.1 146.8 L282.0 145.8 L282.0 144.8 L282.0 143.8 L281.9 142.8 L281.9 141.9 L281.9 141.3 L281.8 140.3 L281.7 139.3 L281.7 138.3 L281.6 137.3 L281.5 136.3 L281.4 135.6 L281.3 134.8 L281.2 133.8 L281.0 132.8 L280.9 132.2 L280.7 131.3 L280.5 130.3 L280.4 129.8 L280.1 128.8 L279.9 128.2 L279.6 127.3 L279.4 126.8 L278.9 125.8 L278.7 125.3 L278.4 124.8 L277.9 124.1 L277.4 123.4 L276.9 122.8 L276.4 122.3 L275.9 121.9 L275.4 121.5 L274.9 121.1 L274.4 120.8 L273.4 120.3 L272.9 120.1 L272.1 119.8 L271.4 119.6 L270.5 119.3 L269.9 119.2 L268.9 118.9 L268.3 118.8 L267.4 118.6 L266.4 118.5 L265.4 118.3 L264.9 118.3 L263.9 118.2 L262.9 118.1 L261.9 118.0 L260.9 117.9 L259.9 117.9 L259.0 117.8 L258.4 117.8 L257.4 117.7 L256.4 117.7 L255.4 117.6 L254.4 117.6 L253.4 117.6 L252.4 117.5 L251.4 117.5 L250.4 117.5 L249.4 117.5 L248.4 117.5 L247.4 117.5 L246.4 117.4 L245.4 117.4 L244.4 117.4 L243.4 117.4 L242.4 117.4 L241.4 117.4 L240.4 117.4 L239.4 117.4 L238.4 117.4 L237.4 117.4 L236.4 117.4 L235.4 117.4 L234.4 117.3 L233.4 117.3 L232.4 117.3 L231.4 117.3 L230.4 117.3 L229.4 117.3 L228.4 117.3 L227.4 117.3 L226.4 117.3 L225.4 117.3 L224.4 117.3 L223.4 117.3 L222.4 117.3 L221.4 117.3 L220.4 117.3 L219.4 117.3 L218.4 117.3 L217.4 117.3 L216.4 117.3 L215.4 117.3 L214.4 117.3 L213.4 117.3 L212.4 117.3 L211.4 117.3 L210.4 117.3 L209.4 117.3 L208.4 117.3 L207.4 117.3 L206.4 117.3 L205.4 117.3 L204.4 117.3 L203.4 117.3 L202.9 117.3"/>
<path d="M273.9 157.8 L273.9 156.8 L273.8 155.8 L273.8 154.8 L273.7 153.8 L273.7 152.8 L273.7 151.8 L273.6 150.8 L273.5 149.8 L273.4 148.8 L273.4 148.2 L273.3 147.3 L273.2 146.3 L273.1 145.3 L272.9 144.3 L272.9 143.8 L272.7 142.8 L272.5 141.8 L272.4 141.3 L272.1 140.3 L271.9 139.6 L271.6 138.8 L271.4 138.2 L271.0 137.3 L270.8 136.8 L270.4 136.0 L270.0 135.3 L269.6 134.8 L269.3 134.3 L268.9 133.8 L268.4 133.3 L267.9 132.8 L267.3 132.3 L266.6 131.8 L265.9 131.3 L265.4 131.0 L264.9 130.8 L263.9 130.3 L263.4 130.1 L262.5 129.8 L261.9 129.6 L260.9 129.4 L260.4 129.2 L259.4 129.0 L258.4 128.8 L257.9 128.7 L256.9 128.6 L255.9 128.4 L254.9 128.3 L254.4 128.3 L253.4 128.2 L252.4 128.1 L251.4 128.0 L250.4 127.9 L249.4 127.9 L248.4 127.8 L247.8 127.8 L246.9 127.8 L245.9 127.7 L244.9 127.7 L243.9 127.7 L242.9 127.6 L241.9 127.6 L240.9 127.6 L239.9 127.6 L238.9 127.5 L237.9 127.5 L236.9 127.5 L235.9 127.5 L234.9 127.4 L233.9 127.4 L232.9 127.4 L231.9 127.4 L230.9 127.3 L229.9 127.3 L228.9 127.3 L227.9 127.3 L226.9 127.3 L225.9 127.3 L224.9 127.3 L223.9 127.3 L222.9 127.3 L221.9 127.3 L220.9 127.3 L219.9 127.3 L218.9 127.3 L217.9 127.3 L216.9 127.3 L215.9 127.3 L214.9 127.3 L213.9 127.3 L212.9 127.3 L211.9 127.3 L210.9 127.3 L209.9 127.3 L208.9 127.3 L207.9 127.3 L206.9 127.3 L205.9 127.3 L204.9 127.3 L203.9 127.3 L202.9 127.3"/>
<path d="M263.7 157.8 L263.6 156.8 L263.5 155.8 L263.4 155.3 L263.3 154.3 L263.1 153.3 L262.9 152.3 L262.8 151.8 L262.6 150.8 L262.4 150.2 L262.1 149.3 L261.9 148.6 L261.6 147.8 L261.4 147.3 L260.9 146.3 L260.6 145.8 L260.3 145.3 L259.9 144.7 L259.4 144.1 L258.9 143.5 L258.4 143.0 L257.9 142.5 L257.4 142.1 L256.9 141.8 L256.2 141.3 L255.4 140.9 L254.9 140.6 L254.2 140.3 L253.4 140.0 L252.9 139.8 L251.9 139.4 L251.4 139.3 L250.4 139.1 L249.4 138.9 L248.9 138.8 L247.9 138.6 L246.9 138.5 L245.9 138.4 L245.4 138.3 L244.4 138.2 L243.4 138.1 L242.4 138.0 L241.4 137.9 L240.4 137.8 L239.9 137.8 L238.9 137.7 L237.9 137.7 L236.9 137.6 L235.9 137.6 L234.9 137.5 L233.9 137.3 L233.4 137.3 L232.4 137.2 L231.4 137.1 L230.4 137.1 L229.4 137.1 L228.4 137.0 L227.4 137.0 L226.4 137.0 L225.4 137.0 L224.4 137.0 L223.4 137.0 L222.4 137.0 L221.4 137.0 L220.4 137.0 L219.4 137.0 L218.4 137.0 L217.4 137.0 L216.4 137.0 L215.4 137.0 L214.4 137.0 L213.4 137.0 L212.4 137.0 L211.4 137.0 L210.4 137.0 L209.4 137.0 L208.4 137.0 L207.4 137.0 L206.4 137.0 L205.4 137.0 L204.4 137.0 L203.4 137.0 L202.9 137.0"/>
<path d="M251.0 157.8 L250.8 157.3 L250.4 156.6 L249.9 155.8 L249.6 155.3 L249.2 154.8 L248.8 154.3 L248.3 153.8 L247.8 153.3 L247.2 152.8 L246.6 152.3 L245.9 151.8 L245.4 151.5 L244.9 151.2 L244.2 150.8 L243.4 150.4 L242.9 150.2 L241.9 149.8 L241.4 149.6 L240.4 149.3 L239.9 149.2 L238.9 148.9 L238.4 148.8 L237.4 148.5 L236.4 148.3 L235.9 148.2 L234.9 147.9 L234.4 147.6 L233.7 147.3 L232.9 147.1 L231.9 146.8 L231.4 146.7 L230.4 146.6 L229.4 146.5 L228.4 146.5 L227.4 146.4 L226.4 146.4 L225.4 146.4 L224.4 146.3 L223.4 146.3 L222.4 146.3 L221.4 146.3 L220.4 146.3 L219.4 146.3 L218.4 146.3 L217.4 146.3 L216.4 146.3 L215.4 146.3 L214.4 146.3 L213.4 146.3 L212.4 146.3 L211.4 146.3 L210.4 146.3 L209.4 146.3 L208.4 146.3 L207.4 146.3 L206.4 146.3 L205.4 146.3 L204.4 146.3 L203.4 146.3 L202.9 146.3"/>
</g>
<rect x="53.60" y="11.20" width="135.60" height="69.20" fill="none" stroke="#2a2a2a" stroke-width="1.0"/>
<rect x="53.60" y="88.80" width="135.60" height="69.20" fill="none" stroke="#2a2a2a" stroke-width="1.0"/>
<rect x="53.60" y="166.50" width="135.60" height="69.20" fill="none" stroke="#2a2a2a" stroke-width="1.0"/>
<rect x="202.90" y="11.20" width="135.60" height="69.20" fill="none" stroke="#2a2a2a" stroke-width="1.0"/>
<rect x="202.90" y="88.80" width="135.60" height="69.20" fill="none" stroke="#2a2a2a" stroke-width="1.0"/>
<rect x="202.90" y="166.50" width="135.60" height="69.20" fill="none" stroke="#2a2a2a" stroke-width="1.0"/>
<path d="M67.94 80.40v4.0M85.30 80.40v4.0M102.66 80.40v4.0M120.02 80.40v4.0M137.38 80.40v4.0M154.74 80.40v4.0M172.10 80.40v4.0M189.46 80.40v4.0M53.60 75.20h-3.8M53.60 57.85h-3.8M53.60 40.50h-3.8M53.60 23.15h-3.8M67.94 158.00v4.0M85.30 158.00v4.0M102.66 158.00v4.0M120.02 158.00v4.0M137.38 158.00v4.0M154.74 158.00v4.0M172.10 158.00v4.0M189.46 158.00v4.0M53.60 152.80h-3.8M53.60 135.44h-3.8M53.60 118.09h-3.8M53.60 100.75h-3.8M67.94 235.70v4.0M85.30 235.70v4.0M102.66 235.70v4.0M120.02 235.70v4.0M137.38 235.70v4.0M154.74 235.70v4.0M172.10 235.70v4.0M189.46 235.70v4.0M53.60 230.50h-3.8M53.60 213.14h-3.8M53.60 195.79h-3.8M53.60 178.44h-3.8M217.24 80.40v4.0M234.60 80.40v4.0M251.96 80.40v4.0M269.32 80.40v4.0M286.68 80.40v4.0M304.04 80.40v4.0M321.40 80.40v4.0M338.76 80.40v4.0M202.90 75.20h-3.8M202.90 57.85h-3.8M202.90 40.50h-3.8M202.90 23.15h-3.8M217.24 158.00v4.0M234.60 158.00v4.0M251.96 158.00v4.0M269.32 158.00v4.0M286.68 158.00v4.0M304.04 158.00v4.0M321.40 158.00v4.0M338.76 158.00v4.0M202.90 152.80h-3.8M202.90 135.44h-3.8M202.90 118.09h-3.8M202.90 100.75h-3.8M217.24 235.70v4.0M234.60 235.70v4.0M251.96 235.70v4.0M269.32 235.70v4.0M286.68 235.70v4.0M304.04 235.70v4.0M321.40 235.70v4.0M338.76 235.70v4.0M202.90 230.50h-3.8M202.90 213.14h-3.8M202.90 195.79h-3.8M202.90 178.44h-3.8" stroke="#222" stroke-width="0.8" fill="none"/>
<path d="M53.6 206.3 H119.0 Q127.9 206.3 127.9 216 V235.5" fill="none" stroke="#fff" stroke-opacity="0.85" stroke-width="1" stroke-dasharray="4 2.8"/>
<path d="M202.9 206.3 H268.3 Q277.2 206.3 277.2 216 V235.5" fill="none" stroke="#fff" stroke-opacity="0.85" stroke-width="1" stroke-dasharray="4 2.8"/>
<rect x="152.9" y="169.5" width="6" height="6" fill="#1aec0c"/>
<circle cx="145.9" cy="197.2" r="3.3" fill="#1aec0c"/>
<path d="M181.8 178.6 L178.1 185.2 L185.5 185.2 Z" fill="#1aec0c"/>
<path d="M183.8 193.5 L186.9 197.4 L183.8 201.3 L180.7 197.4 Z" fill="#1aec0c"/>
<path d="M177.10 173.30 L178.10 175.92 L180.90 176.06 L178.72 177.83 L179.45 180.54 L177.10 179.00 L174.75 180.54 L175.48 177.83 L173.30 176.06 L176.10 175.92 Z" fill="#1aec0c"/>
<rect x="302.2" y="169.5" width="6" height="6" fill="#1aec0c"/>
<circle cx="295.2" cy="197.2" r="3.3" fill="#1aec0c"/>
<path d="M331.1 178.6 L327.4 185.2 L334.8 185.2 Z" fill="#1aec0c"/>
<path d="M333.1 193.5 L336.2 197.4 L333.1 201.3 L330.0 197.4 Z" fill="#1aec0c"/>
<path d="M326.40 173.30 L327.40 175.92 L330.20 176.06 L328.02 177.83 L328.75 180.54 L326.40 179.00 L324.05 180.54 L324.78 177.83 L322.60 176.06 L325.40 175.92 Z" fill="#1aec0c"/>
<path d="M380.8 48.60h3.6M380.8 70.22h3.6M380.8 91.85h3.6M380.8 113.47h3.6M380.8 59.41h2.2M380.8 81.04h2.2M380.8 102.66h2.2M380.8 173.00h3.6M380.8 202.00h3.6M380.8 231.00h3.6M380.8 187.50h2.2M380.8 216.50h2.2" stroke="#999" stroke-width="0.9" fill="none"/>
<rect x="158.8" y="39.5" width="14.8" height="8.6" rx="1.6" fill="#fff"/>
<rect x="145.5" y="53.0" width="11.0" height="8.6" rx="1.6" fill="#fff"/>
<rect x="126.3" y="65.7" width="14.8" height="8.6" rx="1.6" fill="#fff"/>
<rect x="310.9" y="38.7" width="14.8" height="8.6" rx="1.6" fill="#fff"/>
<rect x="298.1" y="52.3" width="11.0" height="8.6" rx="1.6" fill="#fff"/>
<rect x="278.8" y="64.7" width="14.8" height="8.6" rx="1.6" fill="#fff"/>
<rect x="146.9" y="92.7" width="14.8" height="8.6" rx="1.6" fill="#fff"/>
<rect x="136.8" y="103.9" width="11.0" height="8.6" rx="1.6" fill="#fff"/>
<rect x="119.9" y="115.4" width="14.8" height="8.6" rx="1.6" fill="#fff"/>
<rect x="108.7" y="131.0" width="11.0" height="8.6" rx="1.6" fill="#fff"/>
<rect x="91.3" y="143.2" width="14.8" height="8.6" rx="1.6" fill="#fff"/>
<rect x="280.7" y="107.9" width="14.8" height="8.6" rx="1.6" fill="#fff"/>
<rect x="266.0" y="115.6" width="11.0" height="8.6" rx="1.6" fill="#fff"/>
<rect x="246.8" y="123.9" width="14.8" height="8.6" rx="1.6" fill="#fff"/>
<rect x="230.0" y="132.6" width="11.0" height="8.6" rx="1.6" fill="#fff"/>
<rect x="210.1" y="141.9" width="14.8" height="8.6" rx="1.6" fill="#fff"/></svg>
<div id="tx"><div class="cl" style="left:158.8px;top:39.5px;width:14.8px;height:8.6px;line-height:8.6px">-0.5</div>
<div class="cl" style="left:145.5px;top:53.0px;width:11.0px;height:8.6px;line-height:8.6px">-1</div>
<div class="cl" style="left:126.3px;top:65.7px;width:14.8px;height:8.6px;line-height:8.6px">-1.5</div>
<div class="cl" style="left:310.9px;top:38.7px;width:14.8px;height:8.6px;line-height:8.6px">-0.5</div>
<div class="cl" style="left:298.1px;top:52.3px;width:11.0px;height:8.6px;line-height:8.6px">-1</div>
<div class="cl" style="left:278.8px;top:64.7px;width:14.8px;height:8.6px;line-height:8.6px">-1.5</div>
<div class="cl" style="left:146.9px;top:92.7px;width:14.8px;height:8.6px;line-height:8.6px">-0.5</div>
<div class="cl" style="left:136.8px;top:103.9px;width:11.0px;height:8.6px;line-height:8.6px">-1</div>
<div class="cl" style="left:119.9px;top:115.4px;width:14.8px;height:8.6px;line-height:8.6px">-1.5</div>
<div class="cl" style="left:108.7px;top:131.0px;width:11.0px;height:8.6px;line-height:8.6px">-2</div>
<div class="cl" style="left:91.3px;top:143.2px;width:14.8px;height:8.6px;line-height:8.6px">-2.5</div>
<div class="cl" style="left:280.7px;top:107.9px;width:14.8px;height:8.6px;line-height:8.6px">-0.5</div>
<div class="cl" style="left:266.0px;top:115.6px;width:11.0px;height:8.6px;line-height:8.6px">-1</div>
<div class="cl" style="left:246.8px;top:123.9px;width:14.8px;height:8.6px;line-height:8.6px">-1.5</div>
<div class="cl" style="left:230.0px;top:132.6px;width:11.0px;height:8.6px;line-height:8.6px">-2</div>
<div class="cl" style="left:210.1px;top:141.9px;width:14.8px;height:8.6px;line-height:8.6px">-2.5</div>
<div class="t mono" style="left:107.0px;top:-0.8px;">SWAP</div>
<div class="t mono" style="left:264.6px;top:-0.8px;">CZ</div>
<div class="t pl" style="left:57.5px;top:14.2px;color:#000;font-size:10.6px">(a) Direct</div>
<div class="t pl" style="left:206.8px;top:14.2px;color:#000;font-size:10.6px">(d) Direct</div>
<div class="t pl" style="left:57.5px;top:91.8px;color:#000;font-size:10.6px">(b) Virtual</div>
<div class="t pl" style="left:206.8px;top:91.8px;color:#000;font-size:10.6px">(e) Virtual</div>
<div class="t pl" style="left:57.5px;top:170.4px;color:#fff;font-size:10.0px">(c) Comparison</div>
<div class="t pl" style="left:206.8px;top:170.4px;color:#000;font-size:10.0px">(f) Comparison</div>
<div class="imp" style="left:51.0px;top:211.3px">Improved<br>future devices</div>
<div class="imp" style="left:200.3px;top:211.3px">Improved<br>future devices</div>
<div class="yt" style="top:68.6px">10<sup>3</sup></div>
<div class="yt" style="top:51.2px">10<sup>4</sup></div>
<div class="yt" style="top:33.9px">10<sup>5</sup></div>
<div class="yt" style="top:16.5px">10<sup>6</sup></div>
<div class="yt" style="top:146.2px">10<sup>3</sup></div>
<div class="yt" style="top:128.8px">10<sup>4</sup></div>
<div class="yt" style="top:111.5px">10<sup>5</sup></div>
<div class="yt" style="top:94.1px">10<sup>6</sup></div>
<div class="yt" style="top:223.9px">10<sup>3</sup></div>
<div class="yt" style="top:206.5px">10<sup>4</sup></div>
<div class="yt" style="top:189.2px">10<sup>5</sup></div>
<div class="yt" style="top:171.8px">10<sup>6</sup></div>
<div class="xt" style="left:82.2px">1</div>
<div class="xt" style="left:130.9px">10<sup>3</sup></div>
<div class="xt" style="left:182.8px">10<sup>6</sup></div>
<div class="xt" style="left:231.5px">1</div>
<div class="xt" style="left:280.2px">10<sup>3</sup></div>
<div class="xt" style="left:332.1px">10<sup>6</sup></div>
<div class="ser" style="left:177px;top:255.3px;font-size:12.6px;letter-spacing:0.35px"><i>κ</i>/2<i>π</i>&nbsp;(Hz)</div>
<div class="ser ylab" style="left:-16.6px;top:110px;width:60px;height:14px;line-height:14px;text-align:center;font-size:12.6px;letter-spacing:0.35px"><i>γ</i>/2<i>π</i>&nbsp;(Hz)</div>
<div class="cbt" style="top:42.4px;left:388.6px">0</div>
<div class="cbt" style="top:64.0px;">−1</div>
<div class="cbt" style="top:85.6px;">−2</div>
<div class="cbt" style="top:107.3px;">−3</div>
<div class="cbt" style="top:165.6px;left:388.6px">1</div>
<div class="cbt" style="top:194.6px;left:388.6px">0</div>
<div class="cbt" style="top:223.6px;">−1</div>
<div class="ser" style="left:344.2px;top:23.6px;font-size:13px">log<sub>10</sub>(1<span style="margin:0 2.6px">−</span><i>F</i>)</div>
<div class="ser" style="left:344px;top:142px;font-size:12px">log<sub>10</sub></div>
<div class="ser frac" style="left:371.6px;top:135px;font-size:12px"><span class="num">1<span style="margin:0 2.4px">−</span><i>F</i><sub><i>v</i></sub></span><span class="den">1<span style="margin:0 2.4px">−</span><i>F</i><sub><i>d</i></sub></span></div></div>
</body></html>
